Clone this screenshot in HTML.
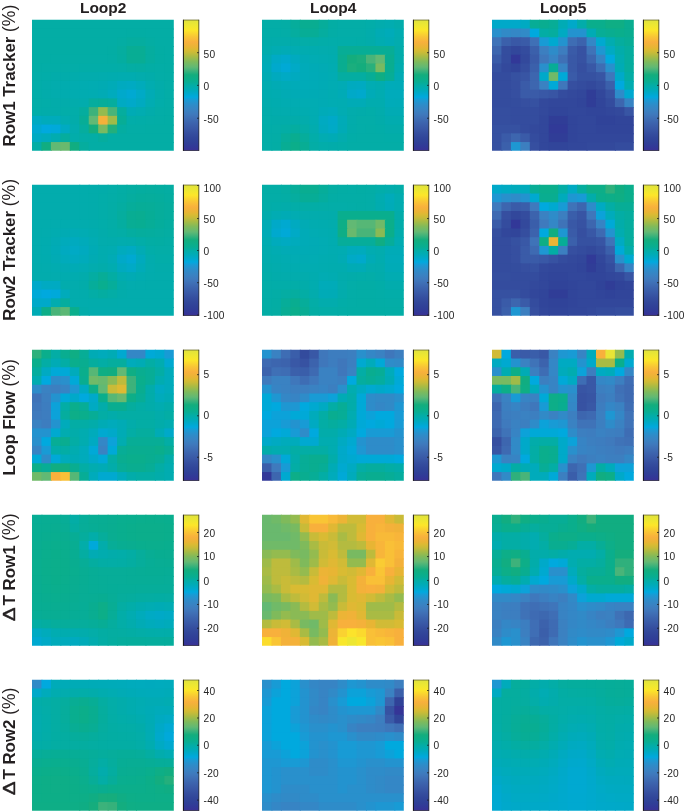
<!DOCTYPE html>
<html lang="en"><head><meta charset="utf-8"><title>Loop heatmaps</title>
<style>html,body{margin:0;padding:0;background:#fff}body{width:685px;height:811px;overflow:hidden}svg{display:block}text{font-family:"Liberation Sans",Arial,Helvetica,sans-serif;fill:#231f20}.t{font-size:15.5px;font-weight:bold;text-anchor:middle}.y{font-size:16.9px;font-weight:bold}.y .n{font-weight:normal;font-size:17.5px;letter-spacing:0px}.k{font-size:10.2px;fill:#262626;letter-spacing:0.15px}</style></head><body>
<svg width="685" height="811" viewBox="0 0 685 811">
<defs><linearGradient id="cb" x1="0" y1="0" x2="0" y2="1"><stop offset="0.0000" stop-color="#dfe23c"/><stop offset="0.0500" stop-color="#f0e830"/><stop offset="0.0800" stop-color="#fce62a"/><stop offset="0.1300" stop-color="#f9c535"/><stop offset="0.1700" stop-color="#f8b03c"/><stop offset="0.2100" stop-color="#e8b534"/><stop offset="0.2300" stop-color="#d9bb33"/><stop offset="0.2500" stop-color="#c9bb38"/><stop offset="0.2830" stop-color="#a6bb45"/><stop offset="0.3200" stop-color="#7fba5b"/><stop offset="0.3600" stop-color="#62b974"/><stop offset="0.3900" stop-color="#3db27b"/><stop offset="0.4200" stop-color="#14ad7d"/><stop offset="0.4600" stop-color="#0aae8c"/><stop offset="0.4760" stop-color="#08ad93"/><stop offset="0.5000" stop-color="#03ada5"/><stop offset="0.5350" stop-color="#00abb8"/><stop offset="0.5650" stop-color="#00a9cc"/><stop offset="0.5900" stop-color="#00a9de"/><stop offset="0.6120" stop-color="#1a9ad4"/><stop offset="0.6500" stop-color="#2e8cc9"/><stop offset="0.6900" stop-color="#3a82c2"/><stop offset="0.7200" stop-color="#3f7abd"/><stop offset="0.7500" stop-color="#3f70b6"/><stop offset="0.7900" stop-color="#3c63ad"/><stop offset="0.8300" stop-color="#3958a6"/><stop offset="0.8650" stop-color="#354e9f"/><stop offset="0.9000" stop-color="#31469a"/><stop offset="0.9400" stop-color="#2f3f97"/><stop offset="0.9700" stop-color="#323898"/><stop offset="1.0000" stop-color="#3a3094"/></linearGradient></defs>
<rect width="685" height="811" fill="#fff"/>
<text class="t" x="103.2" y="13.4">Loop2</text>
<text class="t" x="333.2" y="13.4">Loop4</text>
<text class="t" x="563.2" y="13.4">Loop5</text>
<text class="y" transform="translate(14.8,146.5) rotate(-90)">Row1 Tracker <tspan class="n">(%)</tspan></text>
<text class="y" transform="translate(14.8,320.8) rotate(-90)">Row2 Tracker <tspan class="n">(%)</tspan></text>
<text class="y" transform="translate(14.8,475.5) rotate(-90)">Loop Flow <tspan class="n">(%)</tspan></text>
<text class="y" transform="translate(14.8,621.0) rotate(-90) scale(1.2,1)" style="font-weight:normal;stroke:#231f20;stroke-width:0.45px">Δ</text>
<text class="y" transform="translate(14.8,605.5) rotate(-90)">T Row1 <tspan class="n">(%)</tspan></text>
<text class="y" transform="translate(14.8,795.1) rotate(-90) scale(1.2,1)" style="font-weight:normal;stroke:#231f20;stroke-width:0.45px">Δ</text>
<text class="y" transform="translate(14.8,779.6) rotate(-90)">T Row2 <tspan class="n">(%)</tspan></text>
<clipPath id="p00"><rect x="32.00" y="19.80" width="141.80" height="131.00"/></clipPath><g clip-path="url(#p00)">
<rect x="31.00" y="18.80" width="143.80" height="10.73" fill="#03ada5"/>
<rect x="31.00" y="28.53" width="96.53" height="9.73" fill="#03ada5"/>
<rect x="126.53" y="28.53" width="19.91" height="9.73" fill="#03ada4"/>
<rect x="145.44" y="28.53" width="29.36" height="9.73" fill="#03ada5"/>
<rect x="31.00" y="37.27" width="87.08" height="9.73" fill="#03ada5"/>
<rect x="117.08" y="37.27" width="10.45" height="9.73" fill="#04ada3"/>
<rect x="126.53" y="37.27" width="19.91" height="9.73" fill="#05ad9f"/>
<rect x="145.44" y="37.27" width="10.45" height="9.73" fill="#04ada3"/>
<rect x="154.89" y="37.27" width="19.91" height="9.73" fill="#03ada5"/>
<rect x="31.00" y="46.00" width="77.63" height="9.73" fill="#03ada5"/>
<rect x="107.63" y="46.00" width="10.45" height="9.73" fill="#03ada4"/>
<rect x="117.08" y="46.00" width="10.45" height="9.73" fill="#05ad9f"/>
<rect x="126.53" y="46.00" width="19.91" height="9.73" fill="#08ad94"/>
<rect x="145.44" y="46.00" width="10.45" height="9.73" fill="#05ad9f"/>
<rect x="154.89" y="46.00" width="10.45" height="9.73" fill="#03ada4"/>
<rect x="164.35" y="46.00" width="10.45" height="9.73" fill="#03ada5"/>
<rect x="31.00" y="54.73" width="20.91" height="9.73" fill="#03ada5"/>
<rect x="50.91" y="54.73" width="57.72" height="9.73" fill="#03ada6"/>
<rect x="107.63" y="54.73" width="10.45" height="9.73" fill="#03ada5"/>
<rect x="117.08" y="54.73" width="10.45" height="9.73" fill="#04ada0"/>
<rect x="126.53" y="54.73" width="19.91" height="9.73" fill="#08ad94"/>
<rect x="145.44" y="54.73" width="10.45" height="9.73" fill="#05ad9f"/>
<rect x="154.89" y="54.73" width="10.45" height="9.73" fill="#03ada4"/>
<rect x="164.35" y="54.73" width="10.45" height="9.73" fill="#03ada5"/>
<rect x="31.00" y="63.47" width="11.45" height="9.73" fill="#03ada6"/>
<rect x="41.45" y="63.47" width="19.91" height="9.73" fill="#03ada7"/>
<rect x="60.36" y="63.47" width="19.91" height="9.73" fill="#03ada8"/>
<rect x="79.27" y="63.47" width="38.81" height="9.73" fill="#02ada8"/>
<rect x="117.08" y="63.47" width="10.45" height="9.73" fill="#03ada7"/>
<rect x="126.53" y="63.47" width="10.45" height="9.73" fill="#04ada3"/>
<rect x="135.99" y="63.47" width="10.45" height="9.73" fill="#04ada2"/>
<rect x="145.44" y="63.47" width="10.45" height="9.73" fill="#03ada5"/>
<rect x="154.89" y="63.47" width="10.45" height="9.73" fill="#03ada6"/>
<rect x="164.35" y="63.47" width="10.45" height="9.73" fill="#03ada5"/>
<rect x="31.00" y="72.20" width="11.45" height="9.73" fill="#03ada8"/>
<rect x="41.45" y="72.20" width="10.45" height="9.73" fill="#02ada9"/>
<rect x="50.91" y="72.20" width="10.45" height="9.73" fill="#02acaa"/>
<rect x="60.36" y="72.20" width="10.45" height="9.73" fill="#02acab"/>
<rect x="69.81" y="72.20" width="10.45" height="9.73" fill="#02acac"/>
<rect x="79.27" y="72.20" width="19.91" height="9.73" fill="#02acad"/>
<rect x="98.17" y="72.20" width="10.45" height="9.73" fill="#02acae"/>
<rect x="107.63" y="72.20" width="10.45" height="9.73" fill="#01acaf"/>
<rect x="117.08" y="72.20" width="19.91" height="9.73" fill="#01acb0"/>
<rect x="135.99" y="72.20" width="10.45" height="9.73" fill="#02acad"/>
<rect x="145.44" y="72.20" width="10.45" height="9.73" fill="#02acaa"/>
<rect x="154.89" y="72.20" width="10.45" height="9.73" fill="#03ada7"/>
<rect x="164.35" y="72.20" width="10.45" height="9.73" fill="#03ada6"/>
<rect x="31.00" y="80.93" width="11.45" height="9.73" fill="#02ada9"/>
<rect x="41.45" y="80.93" width="10.45" height="9.73" fill="#02acab"/>
<rect x="50.91" y="80.93" width="10.45" height="9.73" fill="#02acad"/>
<rect x="60.36" y="80.93" width="10.45" height="9.73" fill="#01acaf"/>
<rect x="69.81" y="80.93" width="10.45" height="9.73" fill="#01acb0"/>
<rect x="79.27" y="80.93" width="10.45" height="9.73" fill="#01acb1"/>
<rect x="88.72" y="80.93" width="10.45" height="9.73" fill="#01acb2"/>
<rect x="98.17" y="80.93" width="10.45" height="9.73" fill="#01abb3"/>
<rect x="107.63" y="80.93" width="10.45" height="9.73" fill="#00abb7"/>
<rect x="117.08" y="80.93" width="10.45" height="9.73" fill="#00aabf"/>
<rect x="126.53" y="80.93" width="10.45" height="9.73" fill="#00aac2"/>
<rect x="135.99" y="80.93" width="10.45" height="9.73" fill="#00abbb"/>
<rect x="145.44" y="80.93" width="10.45" height="9.73" fill="#01acb0"/>
<rect x="154.89" y="80.93" width="10.45" height="9.73" fill="#02acaa"/>
<rect x="164.35" y="80.93" width="10.45" height="9.73" fill="#03ada7"/>
<rect x="31.00" y="89.67" width="11.45" height="9.73" fill="#02ada9"/>
<rect x="41.45" y="89.67" width="10.45" height="9.73" fill="#02acab"/>
<rect x="50.91" y="89.67" width="10.45" height="9.73" fill="#02acad"/>
<rect x="60.36" y="89.67" width="10.45" height="9.73" fill="#01acaf"/>
<rect x="69.81" y="89.67" width="10.45" height="9.73" fill="#01acb0"/>
<rect x="79.27" y="89.67" width="10.45" height="9.73" fill="#01acb1"/>
<rect x="88.72" y="89.67" width="10.45" height="9.73" fill="#01acb2"/>
<rect x="98.17" y="89.67" width="10.45" height="9.73" fill="#01abb5"/>
<rect x="107.63" y="89.67" width="10.45" height="9.73" fill="#00abbd"/>
<rect x="117.08" y="89.67" width="10.45" height="9.73" fill="#00a9cb"/>
<rect x="126.53" y="89.67" width="10.45" height="9.73" fill="#00a9d2"/>
<rect x="135.99" y="89.67" width="10.45" height="9.73" fill="#00aac6"/>
<rect x="145.44" y="89.67" width="10.45" height="9.73" fill="#01abb5"/>
<rect x="154.89" y="89.67" width="10.45" height="9.73" fill="#02acab"/>
<rect x="164.35" y="89.67" width="10.45" height="9.73" fill="#03ada7"/>
<rect x="31.00" y="98.40" width="11.45" height="9.73" fill="#03ada8"/>
<rect x="41.45" y="98.40" width="10.45" height="9.73" fill="#02ada9"/>
<rect x="50.91" y="98.40" width="10.45" height="9.73" fill="#02acaa"/>
<rect x="60.36" y="98.40" width="10.45" height="9.73" fill="#02acab"/>
<rect x="69.81" y="98.40" width="10.45" height="9.73" fill="#02acac"/>
<rect x="79.27" y="98.40" width="10.45" height="9.73" fill="#02acad"/>
<rect x="88.72" y="98.40" width="10.45" height="9.73" fill="#05ad9e"/>
<rect x="98.17" y="98.40" width="10.45" height="9.73" fill="#06ad9a"/>
<rect x="107.63" y="98.40" width="10.45" height="9.73" fill="#05ad9e"/>
<rect x="117.08" y="98.40" width="10.45" height="9.73" fill="#00aac3"/>
<rect x="126.53" y="98.40" width="10.45" height="9.73" fill="#00a9c9"/>
<rect x="135.99" y="98.40" width="10.45" height="9.73" fill="#00aac0"/>
<rect x="145.44" y="98.40" width="10.45" height="9.73" fill="#01acb2"/>
<rect x="154.89" y="98.40" width="10.45" height="9.73" fill="#02adaa"/>
<rect x="164.35" y="98.40" width="10.45" height="9.73" fill="#03ada7"/>
<rect x="31.00" y="107.13" width="11.45" height="9.73" fill="#02ada9"/>
<rect x="41.45" y="107.13" width="19.91" height="9.73" fill="#02acaa"/>
<rect x="60.36" y="107.13" width="19.91" height="9.73" fill="#02ada9"/>
<rect x="79.27" y="107.13" width="10.45" height="9.73" fill="#05ad9e"/>
<rect x="88.72" y="107.13" width="10.45" height="9.73" fill="#3db27b"/>
<rect x="98.17" y="107.13" width="10.45" height="9.73" fill="#94bb4f"/>
<rect x="107.63" y="107.13" width="10.45" height="9.73" fill="#49b479"/>
<rect x="117.08" y="107.13" width="10.45" height="9.73" fill="#05ad9e"/>
<rect x="126.53" y="107.13" width="10.45" height="9.73" fill="#00abb5"/>
<rect x="135.99" y="107.13" width="10.45" height="9.73" fill="#01acb1"/>
<rect x="145.44" y="107.13" width="10.45" height="9.73" fill="#02acab"/>
<rect x="154.89" y="107.13" width="10.45" height="9.73" fill="#03ada7"/>
<rect x="164.35" y="107.13" width="10.45" height="9.73" fill="#03ada6"/>
<rect x="31.00" y="115.87" width="11.45" height="9.73" fill="#00aac2"/>
<rect x="41.45" y="115.87" width="19.91" height="9.73" fill="#00abbb"/>
<rect x="60.36" y="115.87" width="10.45" height="9.73" fill="#01acb0"/>
<rect x="69.81" y="115.87" width="10.45" height="9.73" fill="#02acaa"/>
<rect x="79.27" y="115.87" width="10.45" height="9.73" fill="#07ad96"/>
<rect x="88.72" y="115.87" width="10.45" height="9.73" fill="#62b974"/>
<rect x="98.17" y="115.87" width="10.45" height="9.73" fill="#f4b13a"/>
<rect x="107.63" y="115.87" width="10.45" height="9.73" fill="#9fbb49"/>
<rect x="117.08" y="115.87" width="10.45" height="9.73" fill="#07ad96"/>
<rect x="126.53" y="115.87" width="10.45" height="9.73" fill="#02ada9"/>
<rect x="135.99" y="115.87" width="10.45" height="9.73" fill="#02ada8"/>
<rect x="145.44" y="115.87" width="10.45" height="9.73" fill="#03ada7"/>
<rect x="154.89" y="115.87" width="10.45" height="9.73" fill="#03ada6"/>
<rect x="164.35" y="115.87" width="10.45" height="9.73" fill="#03ada5"/>
<rect x="31.00" y="124.60" width="11.45" height="9.73" fill="#00a9d0"/>
<rect x="41.45" y="124.60" width="10.45" height="9.73" fill="#00a9de"/>
<rect x="50.91" y="124.60" width="10.45" height="9.73" fill="#00a9da"/>
<rect x="60.36" y="124.60" width="10.45" height="9.73" fill="#00aac2"/>
<rect x="69.81" y="124.60" width="10.45" height="9.73" fill="#02acae"/>
<rect x="79.27" y="124.60" width="10.45" height="9.73" fill="#05ad9e"/>
<rect x="88.72" y="124.60" width="10.45" height="9.73" fill="#14ad7d"/>
<rect x="98.17" y="124.60" width="10.45" height="9.73" fill="#78ba61"/>
<rect x="107.63" y="124.60" width="10.45" height="9.73" fill="#22af7c"/>
<rect x="117.08" y="124.60" width="10.45" height="9.73" fill="#04ada1"/>
<rect x="126.53" y="124.60" width="19.91" height="9.73" fill="#03ada6"/>
<rect x="145.44" y="124.60" width="29.36" height="9.73" fill="#03ada5"/>
<rect x="31.00" y="133.33" width="11.45" height="9.73" fill="#00aac2"/>
<rect x="41.45" y="133.33" width="10.45" height="9.73" fill="#00abbb"/>
<rect x="50.91" y="133.33" width="10.45" height="9.73" fill="#01acb0"/>
<rect x="60.36" y="133.33" width="10.45" height="9.73" fill="#05ad9e"/>
<rect x="69.81" y="133.33" width="10.45" height="9.73" fill="#02adaa"/>
<rect x="79.27" y="133.33" width="10.45" height="9.73" fill="#03ada6"/>
<rect x="88.72" y="133.33" width="10.45" height="9.73" fill="#03ada5"/>
<rect x="98.17" y="133.33" width="10.45" height="9.73" fill="#05ad9e"/>
<rect x="107.63" y="133.33" width="67.17" height="9.73" fill="#03ada5"/>
<rect x="31.00" y="142.07" width="11.45" height="9.73" fill="#03ada5"/>
<rect x="41.45" y="142.07" width="10.45" height="9.73" fill="#11ad81"/>
<rect x="50.91" y="142.07" width="10.45" height="9.73" fill="#62b974"/>
<rect x="60.36" y="142.07" width="10.45" height="9.73" fill="#69b96e"/>
<rect x="69.81" y="142.07" width="10.45" height="9.73" fill="#11ad81"/>
<rect x="79.27" y="142.07" width="10.45" height="9.73" fill="#05ad9e"/>
<rect x="88.72" y="142.07" width="86.08" height="9.73" fill="#03ada5"/>
</g>
<rect x="183.00" y="19.80" width="16.10" height="131.00" fill="url(#cb)"/>
<path d="M183.40 19.80V150.80" stroke="#151515" stroke-width="1"/>
<path d="M198.80 19.80V150.80" stroke="#2a2a2a" stroke-width="0.7"/>
<path d="M183.00 20.05H199.10" stroke="#2a2a2a" stroke-width="0.5"/>
<path d="M183.00 150.50H199.10" stroke="#2a2a2a" stroke-width="0.6"/>
<clipPath id="p01"><rect x="262.00" y="19.80" width="141.80" height="131.00"/></clipPath><g clip-path="url(#p01)">
<rect x="261.00" y="18.80" width="20.91" height="10.73" fill="#03ada7"/>
<rect x="280.91" y="18.80" width="10.45" height="10.73" fill="#03ada5"/>
<rect x="290.36" y="18.80" width="10.45" height="10.73" fill="#06ad9b"/>
<rect x="299.81" y="18.80" width="19.91" height="10.73" fill="#09ad91"/>
<rect x="318.72" y="18.80" width="10.45" height="10.73" fill="#06ad9a"/>
<rect x="328.17" y="18.80" width="10.45" height="10.73" fill="#03ada4"/>
<rect x="337.63" y="18.80" width="29.36" height="10.73" fill="#03ada7"/>
<rect x="365.99" y="18.80" width="10.45" height="10.73" fill="#02ada9"/>
<rect x="375.44" y="18.80" width="10.45" height="10.73" fill="#02acad"/>
<rect x="384.89" y="18.80" width="10.45" height="10.73" fill="#01acb0"/>
<rect x="394.35" y="18.80" width="10.45" height="10.73" fill="#02acab"/>
<rect x="261.00" y="28.53" width="20.91" height="9.73" fill="#02ada8"/>
<rect x="280.91" y="28.53" width="10.45" height="9.73" fill="#03ada7"/>
<rect x="290.36" y="28.53" width="10.45" height="9.73" fill="#05ad9f"/>
<rect x="299.81" y="28.53" width="19.91" height="9.73" fill="#07ad96"/>
<rect x="318.72" y="28.53" width="10.45" height="9.73" fill="#05ad9f"/>
<rect x="328.17" y="28.53" width="10.45" height="9.73" fill="#03ada6"/>
<rect x="337.63" y="28.53" width="29.36" height="9.73" fill="#03ada8"/>
<rect x="365.99" y="28.53" width="10.45" height="9.73" fill="#02acab"/>
<rect x="375.44" y="28.53" width="10.45" height="9.73" fill="#01abb4"/>
<rect x="384.89" y="28.53" width="10.45" height="9.73" fill="#00abb9"/>
<rect x="394.35" y="28.53" width="10.45" height="9.73" fill="#01acb0"/>
<rect x="261.00" y="37.27" width="11.45" height="9.73" fill="#02acaa"/>
<rect x="271.45" y="37.27" width="19.91" height="9.73" fill="#02acab"/>
<rect x="290.36" y="37.27" width="10.45" height="9.73" fill="#02acaa"/>
<rect x="299.81" y="37.27" width="10.45" height="9.73" fill="#03ada8"/>
<rect x="309.27" y="37.27" width="10.45" height="9.73" fill="#03ada7"/>
<rect x="318.72" y="37.27" width="10.45" height="9.73" fill="#02ada9"/>
<rect x="328.17" y="37.27" width="10.45" height="9.73" fill="#02adaa"/>
<rect x="337.63" y="37.27" width="19.91" height="9.73" fill="#02ada9"/>
<rect x="356.53" y="37.27" width="10.45" height="9.73" fill="#02ada8"/>
<rect x="365.99" y="37.27" width="10.45" height="9.73" fill="#02acaa"/>
<rect x="375.44" y="37.27" width="10.45" height="9.73" fill="#01acb1"/>
<rect x="384.89" y="37.27" width="10.45" height="9.73" fill="#00abb5"/>
<rect x="394.35" y="37.27" width="10.45" height="9.73" fill="#02acae"/>
<rect x="261.00" y="46.00" width="11.45" height="9.73" fill="#02acad"/>
<rect x="271.45" y="46.00" width="10.45" height="9.73" fill="#01acb2"/>
<rect x="280.91" y="46.00" width="10.45" height="9.73" fill="#01abb5"/>
<rect x="290.36" y="46.00" width="10.45" height="9.73" fill="#01acb2"/>
<rect x="299.81" y="46.00" width="10.45" height="9.73" fill="#01acb0"/>
<rect x="309.27" y="46.00" width="10.45" height="9.73" fill="#01acaf"/>
<rect x="318.72" y="46.00" width="10.45" height="9.73" fill="#02acae"/>
<rect x="328.17" y="46.00" width="10.45" height="9.73" fill="#02acad"/>
<rect x="337.63" y="46.00" width="57.72" height="9.73" fill="#07ad96"/>
<rect x="394.35" y="46.00" width="10.45" height="9.73" fill="#02acaa"/>
<rect x="261.00" y="54.73" width="11.45" height="9.73" fill="#01abb4"/>
<rect x="271.45" y="54.73" width="10.45" height="9.73" fill="#00aac5"/>
<rect x="280.91" y="54.73" width="10.45" height="9.73" fill="#00a9cb"/>
<rect x="290.36" y="54.73" width="10.45" height="9.73" fill="#00aabf"/>
<rect x="299.81" y="54.73" width="10.45" height="9.73" fill="#00abb6"/>
<rect x="309.27" y="54.73" width="10.45" height="9.73" fill="#01acb3"/>
<rect x="318.72" y="54.73" width="10.45" height="9.73" fill="#01acb1"/>
<rect x="328.17" y="54.73" width="10.45" height="9.73" fill="#01acaf"/>
<rect x="337.63" y="54.73" width="10.45" height="9.73" fill="#09ad90"/>
<rect x="347.08" y="54.73" width="10.45" height="9.73" fill="#14ad7d"/>
<rect x="356.53" y="54.73" width="10.45" height="9.73" fill="#1bae7d"/>
<rect x="365.99" y="54.73" width="10.45" height="9.73" fill="#49b479"/>
<rect x="375.44" y="54.73" width="10.45" height="9.73" fill="#62b974"/>
<rect x="384.89" y="54.73" width="10.45" height="9.73" fill="#09ad90"/>
<rect x="394.35" y="54.73" width="10.45" height="9.73" fill="#02acab"/>
<rect x="261.00" y="63.47" width="11.45" height="9.73" fill="#00abb7"/>
<rect x="271.45" y="63.47" width="10.45" height="9.73" fill="#00a9cc"/>
<rect x="280.91" y="63.47" width="10.45" height="9.73" fill="#00a9d5"/>
<rect x="290.36" y="63.47" width="10.45" height="9.73" fill="#00aac6"/>
<rect x="299.81" y="63.47" width="10.45" height="9.73" fill="#00abb9"/>
<rect x="309.27" y="63.47" width="10.45" height="9.73" fill="#00abb6"/>
<rect x="318.72" y="63.47" width="10.45" height="9.73" fill="#01abb4"/>
<rect x="328.17" y="63.47" width="10.45" height="9.73" fill="#01acb1"/>
<rect x="337.63" y="63.47" width="10.45" height="9.73" fill="#09ad90"/>
<rect x="347.08" y="63.47" width="10.45" height="9.73" fill="#1bae7d"/>
<rect x="356.53" y="63.47" width="10.45" height="9.73" fill="#14ad7d"/>
<rect x="365.99" y="63.47" width="10.45" height="9.73" fill="#28b07c"/>
<rect x="375.44" y="63.47" width="10.45" height="9.73" fill="#78ba61"/>
<rect x="384.89" y="63.47" width="10.45" height="9.73" fill="#09ad90"/>
<rect x="394.35" y="63.47" width="10.45" height="9.73" fill="#01acaf"/>
<rect x="261.00" y="72.20" width="11.45" height="9.73" fill="#01abb3"/>
<rect x="271.45" y="72.20" width="10.45" height="9.73" fill="#00aabe"/>
<rect x="280.91" y="72.20" width="10.45" height="9.73" fill="#00aac4"/>
<rect x="290.36" y="72.20" width="10.45" height="9.73" fill="#00aabf"/>
<rect x="299.81" y="72.20" width="10.45" height="9.73" fill="#00abb9"/>
<rect x="309.27" y="72.20" width="10.45" height="9.73" fill="#00abb7"/>
<rect x="318.72" y="72.20" width="10.45" height="9.73" fill="#00abb5"/>
<rect x="328.17" y="72.20" width="10.45" height="9.73" fill="#01acb3"/>
<rect x="337.63" y="72.20" width="29.36" height="9.73" fill="#04ada1"/>
<rect x="365.99" y="72.20" width="10.45" height="9.73" fill="#07ad96"/>
<rect x="375.44" y="72.20" width="10.45" height="9.73" fill="#0fae84"/>
<rect x="384.89" y="72.20" width="10.45" height="9.73" fill="#07ad96"/>
<rect x="394.35" y="72.20" width="10.45" height="9.73" fill="#01abb4"/>
<rect x="261.00" y="80.93" width="11.45" height="9.73" fill="#01acb0"/>
<rect x="271.45" y="80.93" width="10.45" height="9.73" fill="#01abb4"/>
<rect x="280.91" y="80.93" width="10.45" height="9.73" fill="#00abb7"/>
<rect x="290.36" y="80.93" width="19.91" height="9.73" fill="#00abb8"/>
<rect x="309.27" y="80.93" width="10.45" height="9.73" fill="#00abb7"/>
<rect x="318.72" y="80.93" width="10.45" height="9.73" fill="#00abb5"/>
<rect x="328.17" y="80.93" width="10.45" height="9.73" fill="#01acb3"/>
<rect x="337.63" y="80.93" width="10.45" height="9.73" fill="#01abb5"/>
<rect x="347.08" y="80.93" width="10.45" height="9.73" fill="#00aabf"/>
<rect x="356.53" y="80.93" width="10.45" height="9.73" fill="#00aac1"/>
<rect x="365.99" y="80.93" width="10.45" height="9.73" fill="#01acb3"/>
<rect x="375.44" y="80.93" width="10.45" height="9.73" fill="#01acb0"/>
<rect x="384.89" y="80.93" width="10.45" height="9.73" fill="#00abb9"/>
<rect x="394.35" y="80.93" width="10.45" height="9.73" fill="#00abb8"/>
<rect x="261.00" y="89.67" width="11.45" height="9.73" fill="#01acaf"/>
<rect x="271.45" y="89.67" width="10.45" height="9.73" fill="#01acb1"/>
<rect x="280.91" y="89.67" width="10.45" height="9.73" fill="#01abb4"/>
<rect x="290.36" y="89.67" width="10.45" height="9.73" fill="#00abb5"/>
<rect x="299.81" y="89.67" width="10.45" height="9.73" fill="#00abb6"/>
<rect x="309.27" y="89.67" width="10.45" height="9.73" fill="#00abb5"/>
<rect x="318.72" y="89.67" width="10.45" height="9.73" fill="#01abb4"/>
<rect x="328.17" y="89.67" width="10.45" height="9.73" fill="#01acb2"/>
<rect x="337.63" y="89.67" width="10.45" height="9.73" fill="#00abb6"/>
<rect x="347.08" y="89.67" width="10.45" height="9.73" fill="#00a9c8"/>
<rect x="356.53" y="89.67" width="10.45" height="9.73" fill="#00a9cc"/>
<rect x="365.99" y="89.67" width="10.45" height="9.73" fill="#00abb7"/>
<rect x="375.44" y="89.67" width="10.45" height="9.73" fill="#01acb1"/>
<rect x="384.89" y="89.67" width="19.91" height="9.73" fill="#00abbb"/>
<rect x="261.00" y="98.40" width="11.45" height="9.73" fill="#02acad"/>
<rect x="271.45" y="98.40" width="10.45" height="9.73" fill="#01acaf"/>
<rect x="280.91" y="98.40" width="10.45" height="9.73" fill="#01acb1"/>
<rect x="290.36" y="98.40" width="10.45" height="9.73" fill="#01acb2"/>
<rect x="299.81" y="98.40" width="19.91" height="9.73" fill="#01acb3"/>
<rect x="318.72" y="98.40" width="10.45" height="9.73" fill="#01abb4"/>
<rect x="328.17" y="98.40" width="10.45" height="9.73" fill="#01acb3"/>
<rect x="337.63" y="98.40" width="10.45" height="9.73" fill="#01acb2"/>
<rect x="347.08" y="98.40" width="19.91" height="9.73" fill="#00abb6"/>
<rect x="365.99" y="98.40" width="19.91" height="9.73" fill="#01acaf"/>
<rect x="384.89" y="98.40" width="10.45" height="9.73" fill="#00abb9"/>
<rect x="394.35" y="98.40" width="10.45" height="9.73" fill="#00abb8"/>
<rect x="261.00" y="107.13" width="11.45" height="9.73" fill="#02acab"/>
<rect x="271.45" y="107.13" width="10.45" height="9.73" fill="#02acad"/>
<rect x="280.91" y="107.13" width="10.45" height="9.73" fill="#02acae"/>
<rect x="290.36" y="107.13" width="10.45" height="9.73" fill="#01acaf"/>
<rect x="299.81" y="107.13" width="10.45" height="9.73" fill="#01acb0"/>
<rect x="309.27" y="107.13" width="10.45" height="9.73" fill="#01acb2"/>
<rect x="318.72" y="107.13" width="10.45" height="9.73" fill="#00abb8"/>
<rect x="328.17" y="107.13" width="10.45" height="9.73" fill="#00abbb"/>
<rect x="337.63" y="107.13" width="10.45" height="9.73" fill="#01acb2"/>
<rect x="347.08" y="107.13" width="10.45" height="9.73" fill="#02acac"/>
<rect x="356.53" y="107.13" width="10.45" height="9.73" fill="#02acaa"/>
<rect x="365.99" y="107.13" width="10.45" height="9.73" fill="#02ada9"/>
<rect x="375.44" y="107.13" width="10.45" height="9.73" fill="#02acac"/>
<rect x="384.89" y="107.13" width="19.91" height="9.73" fill="#01abb4"/>
<rect x="261.00" y="115.87" width="11.45" height="9.73" fill="#02adaa"/>
<rect x="271.45" y="115.87" width="29.36" height="9.73" fill="#02acaa"/>
<rect x="299.81" y="115.87" width="10.45" height="9.73" fill="#02acac"/>
<rect x="309.27" y="115.87" width="10.45" height="9.73" fill="#01acb1"/>
<rect x="318.72" y="115.87" width="10.45" height="9.73" fill="#00aac1"/>
<rect x="328.17" y="115.87" width="10.45" height="9.73" fill="#00a9c8"/>
<rect x="337.63" y="115.87" width="10.45" height="9.73" fill="#00abb7"/>
<rect x="347.08" y="115.87" width="10.45" height="9.73" fill="#02acab"/>
<rect x="356.53" y="115.87" width="19.91" height="9.73" fill="#03ada8"/>
<rect x="375.44" y="115.87" width="10.45" height="9.73" fill="#02acaa"/>
<rect x="384.89" y="115.87" width="19.91" height="9.73" fill="#01acaf"/>
<rect x="261.00" y="124.60" width="11.45" height="9.73" fill="#02ada8"/>
<rect x="271.45" y="124.60" width="10.45" height="9.73" fill="#03ada8"/>
<rect x="280.91" y="124.60" width="10.45" height="9.73" fill="#03ada5"/>
<rect x="290.36" y="124.60" width="10.45" height="9.73" fill="#04ada0"/>
<rect x="299.81" y="124.60" width="10.45" height="9.73" fill="#03ada6"/>
<rect x="309.27" y="124.60" width="10.45" height="9.73" fill="#02acae"/>
<rect x="318.72" y="124.60" width="10.45" height="9.73" fill="#00aabe"/>
<rect x="328.17" y="124.60" width="10.45" height="9.73" fill="#00aac6"/>
<rect x="337.63" y="124.60" width="10.45" height="9.73" fill="#00abb6"/>
<rect x="347.08" y="124.60" width="10.45" height="9.73" fill="#02acaa"/>
<rect x="356.53" y="124.60" width="10.45" height="9.73" fill="#03ada8"/>
<rect x="365.99" y="124.60" width="10.45" height="9.73" fill="#03ada7"/>
<rect x="375.44" y="124.60" width="10.45" height="9.73" fill="#02ada8"/>
<rect x="384.89" y="124.60" width="19.91" height="9.73" fill="#02acab"/>
<rect x="261.00" y="133.33" width="11.45" height="9.73" fill="#03ada7"/>
<rect x="271.45" y="133.33" width="10.45" height="9.73" fill="#03ada6"/>
<rect x="280.91" y="133.33" width="10.45" height="9.73" fill="#06ad9a"/>
<rect x="290.36" y="133.33" width="10.45" height="9.73" fill="#09ad90"/>
<rect x="299.81" y="133.33" width="10.45" height="9.73" fill="#06ad9b"/>
<rect x="309.27" y="133.33" width="10.45" height="9.73" fill="#02ada9"/>
<rect x="318.72" y="133.33" width="10.45" height="9.73" fill="#01acb2"/>
<rect x="328.17" y="133.33" width="10.45" height="9.73" fill="#00abb5"/>
<rect x="337.63" y="133.33" width="10.45" height="9.73" fill="#02acae"/>
<rect x="347.08" y="133.33" width="10.45" height="9.73" fill="#02ada8"/>
<rect x="356.53" y="133.33" width="29.36" height="9.73" fill="#03ada7"/>
<rect x="384.89" y="133.33" width="19.91" height="9.73" fill="#02ada8"/>
<rect x="261.00" y="142.07" width="11.45" height="9.73" fill="#03ada7"/>
<rect x="271.45" y="142.07" width="10.45" height="9.73" fill="#03ada5"/>
<rect x="280.91" y="142.07" width="10.45" height="9.73" fill="#08ad94"/>
<rect x="290.36" y="142.07" width="10.45" height="9.73" fill="#0bae8a"/>
<rect x="299.81" y="142.07" width="10.45" height="9.73" fill="#08ad94"/>
<rect x="309.27" y="142.07" width="10.45" height="9.73" fill="#03ada6"/>
<rect x="318.72" y="142.07" width="10.45" height="9.73" fill="#02adaa"/>
<rect x="328.17" y="142.07" width="10.45" height="9.73" fill="#02acaa"/>
<rect x="337.63" y="142.07" width="10.45" height="9.73" fill="#02ada9"/>
<rect x="347.08" y="142.07" width="57.72" height="9.73" fill="#03ada7"/>
</g>
<rect x="413.00" y="19.80" width="16.10" height="131.00" fill="url(#cb)"/>
<path d="M413.40 19.80V150.80" stroke="#151515" stroke-width="1"/>
<path d="M428.80 19.80V150.80" stroke="#2a2a2a" stroke-width="0.7"/>
<path d="M413.00 20.05H429.10" stroke="#2a2a2a" stroke-width="0.5"/>
<path d="M413.00 150.50H429.10" stroke="#2a2a2a" stroke-width="0.6"/>
<clipPath id="p02"><rect x="492.00" y="19.80" width="141.80" height="131.00"/></clipPath><g clip-path="url(#p02)">
<rect x="491.00" y="18.80" width="30.36" height="10.73" fill="#00a9c9"/>
<rect x="520.36" y="18.80" width="10.45" height="10.73" fill="#00aac2"/>
<rect x="529.81" y="18.80" width="10.45" height="10.73" fill="#07ad96"/>
<rect x="539.27" y="18.80" width="10.45" height="10.73" fill="#09ad90"/>
<rect x="548.72" y="18.80" width="10.45" height="10.73" fill="#07ad96"/>
<rect x="558.17" y="18.80" width="10.45" height="10.73" fill="#00abb5"/>
<rect x="567.63" y="18.80" width="10.45" height="10.73" fill="#00a9c9"/>
<rect x="577.08" y="18.80" width="10.45" height="10.73" fill="#02acaa"/>
<rect x="586.53" y="18.80" width="19.91" height="10.73" fill="#0aae8c"/>
<rect x="605.44" y="18.80" width="19.91" height="10.73" fill="#0fae84"/>
<rect x="624.35" y="18.80" width="10.45" height="10.73" fill="#09ad90"/>
<rect x="491.00" y="28.53" width="11.45" height="9.73" fill="#2990cc"/>
<rect x="501.45" y="28.53" width="10.45" height="9.73" fill="#318ac7"/>
<rect x="510.91" y="28.53" width="10.45" height="9.73" fill="#3487c6"/>
<rect x="520.36" y="28.53" width="10.45" height="9.73" fill="#318ac7"/>
<rect x="529.81" y="28.53" width="10.45" height="9.73" fill="#00a9de"/>
<rect x="539.27" y="28.53" width="10.45" height="9.73" fill="#03ada5"/>
<rect x="548.72" y="28.53" width="10.45" height="9.73" fill="#05ad9e"/>
<rect x="558.17" y="28.53" width="10.45" height="9.73" fill="#00aac2"/>
<rect x="567.63" y="28.53" width="19.91" height="9.73" fill="#2393cf"/>
<rect x="586.53" y="28.53" width="10.45" height="9.73" fill="#00abb5"/>
<rect x="595.99" y="28.53" width="10.45" height="9.73" fill="#07ad96"/>
<rect x="605.44" y="28.53" width="10.45" height="9.73" fill="#09ad90"/>
<rect x="614.89" y="28.53" width="10.45" height="9.73" fill="#0aae8c"/>
<rect x="624.35" y="28.53" width="10.45" height="9.73" fill="#09ad90"/>
<rect x="491.00" y="37.27" width="11.45" height="9.73" fill="#3f73b8"/>
<rect x="501.45" y="37.27" width="10.45" height="9.73" fill="#3b60ab"/>
<rect x="510.91" y="37.27" width="10.45" height="9.73" fill="#3958a6"/>
<rect x="520.36" y="37.27" width="10.45" height="9.73" fill="#3a5ba8"/>
<rect x="529.81" y="37.27" width="10.45" height="9.73" fill="#3f70b6"/>
<rect x="539.27" y="37.27" width="10.45" height="9.73" fill="#189bd5"/>
<rect x="548.72" y="37.27" width="10.45" height="9.73" fill="#00a9d0"/>
<rect x="558.17" y="37.27" width="10.45" height="9.73" fill="#2393cf"/>
<rect x="567.63" y="37.27" width="10.45" height="9.73" fill="#3e6db4"/>
<rect x="577.08" y="37.27" width="10.45" height="9.73" fill="#3c63ad"/>
<rect x="586.53" y="37.27" width="10.45" height="9.73" fill="#3487c6"/>
<rect x="595.99" y="37.27" width="10.45" height="9.73" fill="#00a9d0"/>
<rect x="605.44" y="37.27" width="10.45" height="9.73" fill="#01acb0"/>
<rect x="614.89" y="37.27" width="10.45" height="9.73" fill="#05ad9e"/>
<rect x="624.35" y="37.27" width="10.45" height="9.73" fill="#07ad96"/>
<rect x="491.00" y="46.00" width="11.45" height="9.73" fill="#3d66af"/>
<rect x="501.45" y="46.00" width="10.45" height="9.73" fill="#344d9e"/>
<rect x="510.91" y="46.00" width="10.45" height="9.73" fill="#32479b"/>
<rect x="520.36" y="46.00" width="10.45" height="9.73" fill="#344c9e"/>
<rect x="529.81" y="46.00" width="10.45" height="9.73" fill="#3b60ab"/>
<rect x="539.27" y="46.00" width="10.45" height="9.73" fill="#3c7fc0"/>
<rect x="548.72" y="46.00" width="10.45" height="9.73" fill="#2e8cc9"/>
<rect x="558.17" y="46.00" width="10.45" height="9.73" fill="#3d7dbf"/>
<rect x="567.63" y="46.00" width="10.45" height="9.73" fill="#3a5ba8"/>
<rect x="577.08" y="46.00" width="10.45" height="9.73" fill="#3752a2"/>
<rect x="586.53" y="46.00" width="10.45" height="9.73" fill="#3f73b8"/>
<rect x="595.99" y="46.00" width="10.45" height="9.73" fill="#1e97d2"/>
<rect x="605.44" y="46.00" width="10.45" height="9.73" fill="#00aac2"/>
<rect x="614.89" y="46.00" width="10.45" height="9.73" fill="#02acaa"/>
<rect x="624.35" y="46.00" width="10.45" height="9.73" fill="#05ad9e"/>
<rect x="491.00" y="54.73" width="11.45" height="9.73" fill="#3a5ba8"/>
<rect x="501.45" y="54.73" width="10.45" height="9.73" fill="#344c9e"/>
<rect x="510.91" y="54.73" width="10.45" height="9.73" fill="#323898"/>
<rect x="520.36" y="54.73" width="10.45" height="9.73" fill="#33499c"/>
<rect x="529.81" y="54.73" width="10.45" height="9.73" fill="#3a5ba8"/>
<rect x="539.27" y="54.73" width="10.45" height="9.73" fill="#3f77bb"/>
<rect x="548.72" y="54.73" width="10.45" height="9.73" fill="#3784c4"/>
<rect x="558.17" y="54.73" width="10.45" height="9.73" fill="#3f70b6"/>
<rect x="567.63" y="54.73" width="10.45" height="9.73" fill="#3958a6"/>
<rect x="577.08" y="54.73" width="10.45" height="9.73" fill="#3752a2"/>
<rect x="586.53" y="54.73" width="10.45" height="9.73" fill="#3d66af"/>
<rect x="595.99" y="54.73" width="10.45" height="9.73" fill="#3784c4"/>
<rect x="605.44" y="54.73" width="10.45" height="9.73" fill="#00a9de"/>
<rect x="614.89" y="54.73" width="10.45" height="9.73" fill="#01acb0"/>
<rect x="624.35" y="54.73" width="10.45" height="9.73" fill="#05ad9e"/>
<rect x="491.00" y="63.47" width="11.45" height="9.73" fill="#3651a1"/>
<rect x="501.45" y="63.47" width="10.45" height="9.73" fill="#33499c"/>
<rect x="510.91" y="63.47" width="10.45" height="9.73" fill="#31459a"/>
<rect x="520.36" y="63.47" width="10.45" height="9.73" fill="#354e9f"/>
<rect x="529.81" y="63.47" width="10.45" height="9.73" fill="#3b60ab"/>
<rect x="539.27" y="63.47" width="10.45" height="9.73" fill="#2990cc"/>
<rect x="548.72" y="63.47" width="10.45" height="9.73" fill="#07ad96"/>
<rect x="558.17" y="63.47" width="10.45" height="9.73" fill="#3784c4"/>
<rect x="567.63" y="63.47" width="10.45" height="9.73" fill="#3958a6"/>
<rect x="577.08" y="63.47" width="10.45" height="9.73" fill="#364fa0"/>
<rect x="586.53" y="63.47" width="10.45" height="9.73" fill="#3958a6"/>
<rect x="595.99" y="63.47" width="10.45" height="9.73" fill="#3e6db4"/>
<rect x="605.44" y="63.47" width="10.45" height="9.73" fill="#2990cc"/>
<rect x="614.89" y="63.47" width="10.45" height="9.73" fill="#00abb5"/>
<rect x="624.35" y="63.47" width="10.45" height="9.73" fill="#05ad9e"/>
<rect x="491.00" y="72.20" width="20.91" height="9.73" fill="#344c9e"/>
<rect x="510.91" y="72.20" width="10.45" height="9.73" fill="#3651a1"/>
<rect x="520.36" y="72.20" width="10.45" height="9.73" fill="#3855a4"/>
<rect x="529.81" y="72.20" width="10.45" height="9.73" fill="#3d66af"/>
<rect x="539.27" y="72.20" width="10.45" height="9.73" fill="#00a9c9"/>
<rect x="548.72" y="72.20" width="10.45" height="9.73" fill="#70ba68"/>
<rect x="558.17" y="72.20" width="10.45" height="9.73" fill="#00a9d7"/>
<rect x="567.63" y="72.20" width="10.45" height="9.73" fill="#3a5ba8"/>
<rect x="577.08" y="72.20" width="19.91" height="9.73" fill="#3651a1"/>
<rect x="595.99" y="72.20" width="10.45" height="9.73" fill="#3855a4"/>
<rect x="605.44" y="72.20" width="10.45" height="9.73" fill="#3f77bb"/>
<rect x="614.89" y="72.20" width="10.45" height="9.73" fill="#00a9c9"/>
<rect x="624.35" y="72.20" width="10.45" height="9.73" fill="#03ada5"/>
<rect x="491.00" y="80.93" width="20.91" height="9.73" fill="#344c9e"/>
<rect x="510.91" y="80.93" width="10.45" height="9.73" fill="#364fa0"/>
<rect x="520.36" y="80.93" width="10.45" height="9.73" fill="#3a5ba8"/>
<rect x="529.81" y="80.93" width="10.45" height="9.73" fill="#3d66af"/>
<rect x="539.27" y="80.93" width="10.45" height="9.73" fill="#3a82c2"/>
<rect x="548.72" y="80.93" width="10.45" height="9.73" fill="#00a9d7"/>
<rect x="558.17" y="80.93" width="10.45" height="9.73" fill="#3f77bb"/>
<rect x="567.63" y="80.93" width="10.45" height="9.73" fill="#364fa0"/>
<rect x="577.08" y="80.93" width="10.45" height="9.73" fill="#344c9e"/>
<rect x="586.53" y="80.93" width="10.45" height="9.73" fill="#33499c"/>
<rect x="595.99" y="80.93" width="10.45" height="9.73" fill="#354e9f"/>
<rect x="605.44" y="80.93" width="10.45" height="9.73" fill="#3b60ab"/>
<rect x="614.89" y="80.93" width="10.45" height="9.73" fill="#00a9de"/>
<rect x="624.35" y="80.93" width="10.45" height="9.73" fill="#01acb0"/>
<rect x="491.00" y="89.67" width="20.91" height="9.73" fill="#344c9e"/>
<rect x="510.91" y="89.67" width="10.45" height="9.73" fill="#364fa0"/>
<rect x="520.36" y="89.67" width="19.91" height="9.73" fill="#3a5ba8"/>
<rect x="539.27" y="89.67" width="10.45" height="9.73" fill="#3958a6"/>
<rect x="548.72" y="89.67" width="10.45" height="9.73" fill="#3855a4"/>
<rect x="558.17" y="89.67" width="10.45" height="9.73" fill="#344c9e"/>
<rect x="567.63" y="89.67" width="10.45" height="9.73" fill="#33499c"/>
<rect x="577.08" y="89.67" width="10.45" height="9.73" fill="#32479b"/>
<rect x="586.53" y="89.67" width="10.45" height="9.73" fill="#303d97"/>
<rect x="595.99" y="89.67" width="10.45" height="9.73" fill="#32479b"/>
<rect x="605.44" y="89.67" width="10.45" height="9.73" fill="#3752a2"/>
<rect x="614.89" y="89.67" width="10.45" height="9.73" fill="#2e8cc9"/>
<rect x="624.35" y="89.67" width="10.45" height="9.73" fill="#00a9d0"/>
<rect x="491.00" y="98.40" width="20.91" height="9.73" fill="#344c9e"/>
<rect x="510.91" y="98.40" width="10.45" height="9.73" fill="#344d9e"/>
<rect x="520.36" y="98.40" width="10.45" height="9.73" fill="#364fa0"/>
<rect x="529.81" y="98.40" width="10.45" height="9.73" fill="#3651a1"/>
<rect x="539.27" y="98.40" width="10.45" height="9.73" fill="#33499c"/>
<rect x="548.72" y="98.40" width="29.36" height="9.73" fill="#32479b"/>
<rect x="577.08" y="98.40" width="10.45" height="9.73" fill="#31459a"/>
<rect x="586.53" y="98.40" width="10.45" height="9.73" fill="#303d97"/>
<rect x="595.99" y="98.40" width="10.45" height="9.73" fill="#31459a"/>
<rect x="605.44" y="98.40" width="10.45" height="9.73" fill="#344c9e"/>
<rect x="614.89" y="98.40" width="10.45" height="9.73" fill="#3d66af"/>
<rect x="624.35" y="98.40" width="10.45" height="9.73" fill="#3784c4"/>
<rect x="491.00" y="107.13" width="20.91" height="9.73" fill="#354e9f"/>
<rect x="510.91" y="107.13" width="29.36" height="9.73" fill="#344c9e"/>
<rect x="539.27" y="107.13" width="10.45" height="9.73" fill="#33499c"/>
<rect x="548.72" y="107.13" width="19.91" height="9.73" fill="#31459a"/>
<rect x="567.63" y="107.13" width="19.91" height="9.73" fill="#32479b"/>
<rect x="586.53" y="107.13" width="19.91" height="9.73" fill="#31459a"/>
<rect x="605.44" y="107.13" width="10.45" height="9.73" fill="#32479b"/>
<rect x="614.89" y="107.13" width="10.45" height="9.73" fill="#33499c"/>
<rect x="624.35" y="107.13" width="10.45" height="9.73" fill="#3855a4"/>
<rect x="491.00" y="115.87" width="20.91" height="9.73" fill="#354e9f"/>
<rect x="510.91" y="115.87" width="29.36" height="9.73" fill="#344c9e"/>
<rect x="539.27" y="115.87" width="10.45" height="9.73" fill="#32479b"/>
<rect x="548.72" y="115.87" width="19.91" height="9.73" fill="#303d97"/>
<rect x="567.63" y="115.87" width="10.45" height="9.73" fill="#31459a"/>
<rect x="577.08" y="115.87" width="19.91" height="9.73" fill="#32479b"/>
<rect x="595.99" y="115.87" width="19.91" height="9.73" fill="#304399"/>
<rect x="614.89" y="115.87" width="19.91" height="9.73" fill="#31459a"/>
<rect x="491.00" y="124.60" width="30.36" height="9.73" fill="#3651a1"/>
<rect x="520.36" y="124.60" width="10.45" height="9.73" fill="#344c9e"/>
<rect x="529.81" y="124.60" width="10.45" height="9.73" fill="#33499c"/>
<rect x="539.27" y="124.60" width="10.45" height="9.73" fill="#32479b"/>
<rect x="548.72" y="124.60" width="19.91" height="9.73" fill="#313a98"/>
<rect x="567.63" y="124.60" width="10.45" height="9.73" fill="#31459a"/>
<rect x="577.08" y="124.60" width="19.91" height="9.73" fill="#32479b"/>
<rect x="595.99" y="124.60" width="38.81" height="9.73" fill="#31459a"/>
<rect x="491.00" y="133.33" width="11.45" height="9.73" fill="#3651a1"/>
<rect x="501.45" y="133.33" width="10.45" height="9.73" fill="#3a5ba8"/>
<rect x="510.91" y="133.33" width="10.45" height="9.73" fill="#3d66af"/>
<rect x="520.36" y="133.33" width="10.45" height="9.73" fill="#3a5ba8"/>
<rect x="529.81" y="133.33" width="10.45" height="9.73" fill="#344c9e"/>
<rect x="539.27" y="133.33" width="10.45" height="9.73" fill="#32479b"/>
<rect x="548.72" y="133.33" width="19.91" height="9.73" fill="#303d97"/>
<rect x="567.63" y="133.33" width="10.45" height="9.73" fill="#31459a"/>
<rect x="577.08" y="133.33" width="57.72" height="9.73" fill="#32479b"/>
<rect x="491.00" y="142.07" width="11.45" height="9.73" fill="#3651a1"/>
<rect x="501.45" y="142.07" width="10.45" height="9.73" fill="#3b60ab"/>
<rect x="510.91" y="142.07" width="10.45" height="9.73" fill="#1e97d2"/>
<rect x="520.36" y="142.07" width="10.45" height="9.73" fill="#3c7fc0"/>
<rect x="529.81" y="142.07" width="10.45" height="9.73" fill="#364fa0"/>
<rect x="539.27" y="142.07" width="10.45" height="9.73" fill="#32479b"/>
<rect x="548.72" y="142.07" width="19.91" height="9.73" fill="#31459a"/>
<rect x="567.63" y="142.07" width="19.91" height="9.73" fill="#32479b"/>
<rect x="586.53" y="142.07" width="29.36" height="9.73" fill="#33499c"/>
<rect x="614.89" y="142.07" width="19.91" height="9.73" fill="#344c9e"/>
</g>
<rect x="643.00" y="19.80" width="16.10" height="131.00" fill="url(#cb)"/>
<path d="M643.40 19.80V150.80" stroke="#151515" stroke-width="1"/>
<path d="M658.80 19.80V150.80" stroke="#2a2a2a" stroke-width="0.7"/>
<path d="M643.00 20.05H659.10" stroke="#2a2a2a" stroke-width="0.5"/>
<path d="M643.00 150.50H659.10" stroke="#2a2a2a" stroke-width="0.6"/>
<clipPath id="p10"><rect x="32.00" y="184.80" width="141.80" height="131.00"/></clipPath><g clip-path="url(#p10)">
<rect x="31.00" y="183.80" width="49.27" height="10.73" fill="#02acad"/>
<rect x="79.27" y="183.80" width="10.45" height="10.73" fill="#02acac"/>
<rect x="88.72" y="183.80" width="10.45" height="10.73" fill="#02acab"/>
<rect x="98.17" y="183.80" width="10.45" height="10.73" fill="#02acaa"/>
<rect x="107.63" y="183.80" width="10.45" height="10.73" fill="#03ada8"/>
<rect x="117.08" y="183.80" width="10.45" height="10.73" fill="#03ada5"/>
<rect x="126.53" y="183.80" width="10.45" height="10.73" fill="#04ada2"/>
<rect x="135.99" y="183.80" width="10.45" height="10.73" fill="#04ada0"/>
<rect x="145.44" y="183.80" width="10.45" height="10.73" fill="#05ad9f"/>
<rect x="154.89" y="183.80" width="10.45" height="10.73" fill="#04ada0"/>
<rect x="164.35" y="183.80" width="10.45" height="10.73" fill="#04ada2"/>
<rect x="31.00" y="193.53" width="49.27" height="9.73" fill="#02acad"/>
<rect x="79.27" y="193.53" width="10.45" height="9.73" fill="#02acac"/>
<rect x="88.72" y="193.53" width="10.45" height="9.73" fill="#02acab"/>
<rect x="98.17" y="193.53" width="10.45" height="9.73" fill="#02ada9"/>
<rect x="107.63" y="193.53" width="10.45" height="9.73" fill="#03ada7"/>
<rect x="117.08" y="193.53" width="10.45" height="9.73" fill="#03ada4"/>
<rect x="126.53" y="193.53" width="10.45" height="9.73" fill="#05ad9f"/>
<rect x="135.99" y="193.53" width="10.45" height="9.73" fill="#05ad9c"/>
<rect x="145.44" y="193.53" width="10.45" height="9.73" fill="#06ad9c"/>
<rect x="154.89" y="193.53" width="10.45" height="9.73" fill="#05ad9d"/>
<rect x="164.35" y="193.53" width="10.45" height="9.73" fill="#04ada0"/>
<rect x="31.00" y="202.27" width="49.27" height="9.73" fill="#02acad"/>
<rect x="79.27" y="202.27" width="10.45" height="9.73" fill="#02acac"/>
<rect x="88.72" y="202.27" width="10.45" height="9.73" fill="#02acab"/>
<rect x="98.17" y="202.27" width="10.45" height="9.73" fill="#02ada9"/>
<rect x="107.63" y="202.27" width="10.45" height="9.73" fill="#03ada6"/>
<rect x="117.08" y="202.27" width="10.45" height="9.73" fill="#04ada1"/>
<rect x="126.53" y="202.27" width="10.45" height="9.73" fill="#06ad9a"/>
<rect x="135.99" y="202.27" width="10.45" height="9.73" fill="#07ad97"/>
<rect x="145.44" y="202.27" width="10.45" height="9.73" fill="#07ad98"/>
<rect x="154.89" y="202.27" width="10.45" height="9.73" fill="#06ad9b"/>
<rect x="164.35" y="202.27" width="10.45" height="9.73" fill="#05ad9e"/>
<rect x="31.00" y="211.00" width="49.27" height="9.73" fill="#02acad"/>
<rect x="79.27" y="211.00" width="10.45" height="9.73" fill="#02acac"/>
<rect x="88.72" y="211.00" width="10.45" height="9.73" fill="#02acab"/>
<rect x="98.17" y="211.00" width="10.45" height="9.73" fill="#02ada9"/>
<rect x="107.63" y="211.00" width="10.45" height="9.73" fill="#03ada6"/>
<rect x="117.08" y="211.00" width="10.45" height="9.73" fill="#05ad9e"/>
<rect x="126.53" y="211.00" width="10.45" height="9.73" fill="#08ad93"/>
<rect x="135.99" y="211.00" width="10.45" height="9.73" fill="#09ad91"/>
<rect x="145.44" y="211.00" width="10.45" height="9.73" fill="#07ad96"/>
<rect x="154.89" y="211.00" width="10.45" height="9.73" fill="#06ad9b"/>
<rect x="164.35" y="211.00" width="10.45" height="9.73" fill="#05ad9e"/>
<rect x="31.00" y="219.73" width="20.91" height="9.73" fill="#02acad"/>
<rect x="50.91" y="219.73" width="10.45" height="9.73" fill="#02acae"/>
<rect x="60.36" y="219.73" width="19.91" height="9.73" fill="#01acaf"/>
<rect x="79.27" y="219.73" width="10.45" height="9.73" fill="#02acae"/>
<rect x="88.72" y="219.73" width="10.45" height="9.73" fill="#02acac"/>
<rect x="98.17" y="219.73" width="10.45" height="9.73" fill="#02adaa"/>
<rect x="107.63" y="219.73" width="10.45" height="9.73" fill="#03ada7"/>
<rect x="117.08" y="219.73" width="10.45" height="9.73" fill="#04ada0"/>
<rect x="126.53" y="219.73" width="10.45" height="9.73" fill="#08ad94"/>
<rect x="135.99" y="219.73" width="10.45" height="9.73" fill="#08ad92"/>
<rect x="145.44" y="219.73" width="10.45" height="9.73" fill="#07ad97"/>
<rect x="154.89" y="219.73" width="10.45" height="9.73" fill="#05ad9c"/>
<rect x="164.35" y="219.73" width="10.45" height="9.73" fill="#04ada0"/>
<rect x="31.00" y="228.47" width="11.45" height="9.73" fill="#02acad"/>
<rect x="41.45" y="228.47" width="10.45" height="9.73" fill="#02acae"/>
<rect x="50.91" y="228.47" width="10.45" height="9.73" fill="#01acb0"/>
<rect x="60.36" y="228.47" width="10.45" height="9.73" fill="#01abb3"/>
<rect x="69.81" y="228.47" width="10.45" height="9.73" fill="#01abb5"/>
<rect x="79.27" y="228.47" width="10.45" height="9.73" fill="#01acb3"/>
<rect x="88.72" y="228.47" width="10.45" height="9.73" fill="#01acaf"/>
<rect x="98.17" y="228.47" width="10.45" height="9.73" fill="#02acab"/>
<rect x="107.63" y="228.47" width="10.45" height="9.73" fill="#02ada8"/>
<rect x="117.08" y="228.47" width="10.45" height="9.73" fill="#03ada6"/>
<rect x="126.53" y="228.47" width="10.45" height="9.73" fill="#04ada0"/>
<rect x="135.99" y="228.47" width="10.45" height="9.73" fill="#05ad9d"/>
<rect x="145.44" y="228.47" width="10.45" height="9.73" fill="#05ad9e"/>
<rect x="154.89" y="228.47" width="10.45" height="9.73" fill="#05ada0"/>
<rect x="164.35" y="228.47" width="10.45" height="9.73" fill="#04ada2"/>
<rect x="31.00" y="237.20" width="11.45" height="9.73" fill="#02acae"/>
<rect x="41.45" y="237.20" width="10.45" height="9.73" fill="#01acaf"/>
<rect x="50.91" y="237.20" width="10.45" height="9.73" fill="#01abb4"/>
<rect x="60.36" y="237.20" width="10.45" height="9.73" fill="#00abbb"/>
<rect x="69.81" y="237.20" width="10.45" height="9.73" fill="#00aabf"/>
<rect x="79.27" y="237.20" width="10.45" height="9.73" fill="#00abba"/>
<rect x="88.72" y="237.20" width="10.45" height="9.73" fill="#01acb3"/>
<rect x="98.17" y="237.20" width="10.45" height="9.73" fill="#02acad"/>
<rect x="107.63" y="237.20" width="10.45" height="9.73" fill="#02acac"/>
<rect x="117.08" y="237.20" width="10.45" height="9.73" fill="#02acae"/>
<rect x="126.53" y="237.20" width="10.45" height="9.73" fill="#02acad"/>
<rect x="135.99" y="237.20" width="10.45" height="9.73" fill="#02ada8"/>
<rect x="145.44" y="237.20" width="10.45" height="9.73" fill="#03ada4"/>
<rect x="154.89" y="237.20" width="10.45" height="9.73" fill="#03ada3"/>
<rect x="164.35" y="237.20" width="10.45" height="9.73" fill="#03ada5"/>
<rect x="31.00" y="245.93" width="11.45" height="9.73" fill="#02acae"/>
<rect x="41.45" y="245.93" width="10.45" height="9.73" fill="#01acb0"/>
<rect x="50.91" y="245.93" width="10.45" height="9.73" fill="#00abb6"/>
<rect x="60.36" y="245.93" width="10.45" height="9.73" fill="#00aac0"/>
<rect x="69.81" y="245.93" width="10.45" height="9.73" fill="#00aac5"/>
<rect x="79.27" y="245.93" width="10.45" height="9.73" fill="#00aabf"/>
<rect x="88.72" y="245.93" width="10.45" height="9.73" fill="#00abb5"/>
<rect x="98.17" y="245.93" width="10.45" height="9.73" fill="#01acaf"/>
<rect x="107.63" y="245.93" width="10.45" height="9.73" fill="#01acb1"/>
<rect x="117.08" y="245.93" width="10.45" height="9.73" fill="#00abbd"/>
<rect x="126.53" y="245.93" width="10.45" height="9.73" fill="#00aac2"/>
<rect x="135.99" y="245.93" width="10.45" height="9.73" fill="#01abb4"/>
<rect x="145.44" y="245.93" width="10.45" height="9.73" fill="#02ada9"/>
<rect x="154.89" y="245.93" width="19.91" height="9.73" fill="#03ada7"/>
<rect x="31.00" y="254.67" width="11.45" height="9.73" fill="#02acae"/>
<rect x="41.45" y="254.67" width="10.45" height="9.73" fill="#01acaf"/>
<rect x="50.91" y="254.67" width="10.45" height="9.73" fill="#01abb4"/>
<rect x="60.36" y="254.67" width="10.45" height="9.73" fill="#00abbb"/>
<rect x="69.81" y="254.67" width="10.45" height="9.73" fill="#00aabf"/>
<rect x="79.27" y="254.67" width="10.45" height="9.73" fill="#00abbb"/>
<rect x="88.72" y="254.67" width="10.45" height="9.73" fill="#01abb3"/>
<rect x="98.17" y="254.67" width="10.45" height="9.73" fill="#01acaf"/>
<rect x="107.63" y="254.67" width="10.45" height="9.73" fill="#01abb5"/>
<rect x="117.08" y="254.67" width="10.45" height="9.73" fill="#00a9c8"/>
<rect x="126.53" y="254.67" width="10.45" height="9.73" fill="#00a9d1"/>
<rect x="135.99" y="254.67" width="10.45" height="9.73" fill="#00aabd"/>
<rect x="145.44" y="254.67" width="10.45" height="9.73" fill="#02acad"/>
<rect x="154.89" y="254.67" width="19.91" height="9.73" fill="#02ada9"/>
<rect x="31.00" y="263.40" width="11.45" height="9.73" fill="#02acad"/>
<rect x="41.45" y="263.40" width="10.45" height="9.73" fill="#02acae"/>
<rect x="50.91" y="263.40" width="10.45" height="9.73" fill="#01acb0"/>
<rect x="60.36" y="263.40" width="10.45" height="9.73" fill="#01abb3"/>
<rect x="69.81" y="263.40" width="10.45" height="9.73" fill="#00abb5"/>
<rect x="79.27" y="263.40" width="10.45" height="9.73" fill="#01acb3"/>
<rect x="88.72" y="263.40" width="10.45" height="9.73" fill="#02acae"/>
<rect x="98.17" y="263.40" width="10.45" height="9.73" fill="#02acab"/>
<rect x="107.63" y="263.40" width="10.45" height="9.73" fill="#01acb0"/>
<rect x="117.08" y="263.40" width="10.45" height="9.73" fill="#00aabf"/>
<rect x="126.53" y="263.40" width="10.45" height="9.73" fill="#00aac6"/>
<rect x="135.99" y="263.40" width="10.45" height="9.73" fill="#00abb8"/>
<rect x="145.44" y="263.40" width="10.45" height="9.73" fill="#02acae"/>
<rect x="154.89" y="263.40" width="19.91" height="9.73" fill="#02acab"/>
<rect x="31.00" y="272.13" width="20.91" height="9.73" fill="#02acad"/>
<rect x="50.91" y="272.13" width="10.45" height="9.73" fill="#02acae"/>
<rect x="60.36" y="272.13" width="19.91" height="9.73" fill="#01acaf"/>
<rect x="79.27" y="272.13" width="10.45" height="9.73" fill="#02acac"/>
<rect x="88.72" y="272.13" width="10.45" height="9.73" fill="#04ada2"/>
<rect x="98.17" y="272.13" width="10.45" height="9.73" fill="#07ad97"/>
<rect x="107.63" y="272.13" width="10.45" height="9.73" fill="#03ada3"/>
<rect x="117.08" y="272.13" width="10.45" height="9.73" fill="#01acb0"/>
<rect x="126.53" y="272.13" width="10.45" height="9.73" fill="#01abb4"/>
<rect x="135.99" y="272.13" width="10.45" height="9.73" fill="#01acb0"/>
<rect x="145.44" y="272.13" width="10.45" height="9.73" fill="#02acad"/>
<rect x="154.89" y="272.13" width="19.91" height="9.73" fill="#02acac"/>
<rect x="31.00" y="280.87" width="11.45" height="9.73" fill="#00a9c9"/>
<rect x="41.45" y="280.87" width="19.91" height="9.73" fill="#00aac2"/>
<rect x="60.36" y="280.87" width="19.91" height="9.73" fill="#02acad"/>
<rect x="79.27" y="280.87" width="10.45" height="9.73" fill="#02acaa"/>
<rect x="88.72" y="280.87" width="10.45" height="9.73" fill="#06ad9a"/>
<rect x="98.17" y="280.87" width="10.45" height="9.73" fill="#09ae8f"/>
<rect x="107.63" y="280.87" width="10.45" height="9.73" fill="#06ad9a"/>
<rect x="117.08" y="280.87" width="10.45" height="9.73" fill="#02acaa"/>
<rect x="126.53" y="280.87" width="10.45" height="9.73" fill="#02acae"/>
<rect x="135.99" y="280.87" width="10.45" height="9.73" fill="#02acad"/>
<rect x="145.44" y="280.87" width="29.36" height="9.73" fill="#02acac"/>
<rect x="31.00" y="289.60" width="11.45" height="9.73" fill="#00a9d7"/>
<rect x="41.45" y="289.60" width="10.45" height="9.73" fill="#00a9de"/>
<rect x="50.91" y="289.60" width="10.45" height="9.73" fill="#00a9da"/>
<rect x="60.36" y="289.60" width="10.45" height="9.73" fill="#00abbb"/>
<rect x="69.81" y="289.60" width="10.45" height="9.73" fill="#02acad"/>
<rect x="79.27" y="289.60" width="10.45" height="9.73" fill="#02acac"/>
<rect x="88.72" y="289.60" width="10.45" height="9.73" fill="#03ada6"/>
<rect x="98.17" y="289.60" width="10.45" height="9.73" fill="#04ada1"/>
<rect x="107.63" y="289.60" width="10.45" height="9.73" fill="#03ada6"/>
<rect x="117.08" y="289.60" width="10.45" height="9.73" fill="#02acab"/>
<rect x="126.53" y="289.60" width="48.27" height="9.73" fill="#02acad"/>
<rect x="31.00" y="298.33" width="20.91" height="9.73" fill="#00a9c9"/>
<rect x="50.91" y="298.33" width="10.45" height="9.73" fill="#01acb0"/>
<rect x="60.36" y="298.33" width="10.45" height="9.73" fill="#05ad9e"/>
<rect x="69.81" y="298.33" width="19.91" height="9.73" fill="#02acad"/>
<rect x="88.72" y="298.33" width="29.36" height="9.73" fill="#02acac"/>
<rect x="117.08" y="298.33" width="57.72" height="9.73" fill="#02acad"/>
<rect x="31.00" y="307.07" width="11.45" height="9.73" fill="#00abb5"/>
<rect x="41.45" y="307.07" width="10.45" height="9.73" fill="#0dae88"/>
<rect x="50.91" y="307.07" width="10.45" height="9.73" fill="#49b479"/>
<rect x="60.36" y="307.07" width="10.45" height="9.73" fill="#5cb875"/>
<rect x="69.81" y="307.07" width="10.45" height="9.73" fill="#0aae8c"/>
<rect x="79.27" y="307.07" width="10.45" height="9.73" fill="#02acaa"/>
<rect x="88.72" y="307.07" width="86.08" height="9.73" fill="#02acad"/>
</g>
<rect x="183.00" y="184.80" width="16.10" height="131.00" fill="url(#cb)"/>
<path d="M183.40 184.80V315.80" stroke="#151515" stroke-width="1"/>
<path d="M198.80 184.80V315.80" stroke="#2a2a2a" stroke-width="0.7"/>
<path d="M183.00 185.05H199.10" stroke="#2a2a2a" stroke-width="0.5"/>
<path d="M183.00 315.50H199.10" stroke="#2a2a2a" stroke-width="0.6"/>
<clipPath id="p11"><rect x="262.00" y="184.80" width="141.80" height="131.00"/></clipPath><g clip-path="url(#p11)">
<rect x="261.00" y="183.80" width="20.91" height="10.73" fill="#03ada6"/>
<rect x="280.91" y="183.80" width="10.45" height="10.73" fill="#04ada3"/>
<rect x="290.36" y="183.80" width="10.45" height="10.73" fill="#06ad9a"/>
<rect x="299.81" y="183.80" width="19.91" height="10.73" fill="#09ad91"/>
<rect x="318.72" y="183.80" width="10.45" height="10.73" fill="#06ad9a"/>
<rect x="328.17" y="183.80" width="10.45" height="10.73" fill="#04ada3"/>
<rect x="337.63" y="183.80" width="10.45" height="10.73" fill="#03ada5"/>
<rect x="347.08" y="183.80" width="10.45" height="10.73" fill="#03ada6"/>
<rect x="356.53" y="183.80" width="10.45" height="10.73" fill="#03ada5"/>
<rect x="365.99" y="183.80" width="10.45" height="10.73" fill="#03ada6"/>
<rect x="375.44" y="183.80" width="10.45" height="10.73" fill="#02adaa"/>
<rect x="384.89" y="183.80" width="10.45" height="10.73" fill="#02acad"/>
<rect x="394.35" y="183.80" width="10.45" height="10.73" fill="#02ada9"/>
<rect x="261.00" y="193.53" width="20.91" height="9.73" fill="#03ada7"/>
<rect x="280.91" y="193.53" width="10.45" height="9.73" fill="#03ada5"/>
<rect x="290.36" y="193.53" width="10.45" height="9.73" fill="#05ad9f"/>
<rect x="299.81" y="193.53" width="19.91" height="9.73" fill="#07ad96"/>
<rect x="318.72" y="193.53" width="10.45" height="9.73" fill="#05ad9e"/>
<rect x="328.17" y="193.53" width="10.45" height="9.73" fill="#03ada5"/>
<rect x="337.63" y="193.53" width="29.36" height="9.73" fill="#03ada6"/>
<rect x="365.99" y="193.53" width="10.45" height="9.73" fill="#03ada7"/>
<rect x="375.44" y="193.53" width="10.45" height="9.73" fill="#01acb0"/>
<rect x="384.89" y="193.53" width="10.45" height="9.73" fill="#00abba"/>
<rect x="394.35" y="193.53" width="10.45" height="9.73" fill="#01acb0"/>
<rect x="261.00" y="202.27" width="11.45" height="9.73" fill="#03ada8"/>
<rect x="271.45" y="202.27" width="10.45" height="9.73" fill="#02adaa"/>
<rect x="280.91" y="202.27" width="10.45" height="9.73" fill="#02acaa"/>
<rect x="290.36" y="202.27" width="10.45" height="9.73" fill="#02ada8"/>
<rect x="299.81" y="202.27" width="19.91" height="9.73" fill="#03ada6"/>
<rect x="318.72" y="202.27" width="10.45" height="9.73" fill="#03ada7"/>
<rect x="328.17" y="202.27" width="19.91" height="9.73" fill="#03ada8"/>
<rect x="347.08" y="202.27" width="10.45" height="9.73" fill="#03ada7"/>
<rect x="356.53" y="202.27" width="10.45" height="9.73" fill="#03ada6"/>
<rect x="365.99" y="202.27" width="10.45" height="9.73" fill="#03ada7"/>
<rect x="375.44" y="202.27" width="10.45" height="9.73" fill="#01acaf"/>
<rect x="384.89" y="202.27" width="10.45" height="9.73" fill="#00abb8"/>
<rect x="394.35" y="202.27" width="10.45" height="9.73" fill="#01acb0"/>
<rect x="261.00" y="211.00" width="11.45" height="9.73" fill="#02acac"/>
<rect x="271.45" y="211.00" width="10.45" height="9.73" fill="#01acb3"/>
<rect x="280.91" y="211.00" width="10.45" height="9.73" fill="#00abb5"/>
<rect x="290.36" y="211.00" width="10.45" height="9.73" fill="#01acb2"/>
<rect x="299.81" y="211.00" width="10.45" height="9.73" fill="#02acae"/>
<rect x="309.27" y="211.00" width="10.45" height="9.73" fill="#02acad"/>
<rect x="318.72" y="211.00" width="10.45" height="9.73" fill="#02acac"/>
<rect x="328.17" y="211.00" width="10.45" height="9.73" fill="#02acab"/>
<rect x="337.63" y="211.00" width="57.72" height="9.73" fill="#09ae8e"/>
<rect x="394.35" y="211.00" width="10.45" height="9.73" fill="#02acaa"/>
<rect x="261.00" y="219.73" width="11.45" height="9.73" fill="#01abb4"/>
<rect x="271.45" y="219.73" width="10.45" height="9.73" fill="#00a9c8"/>
<rect x="280.91" y="219.73" width="10.45" height="9.73" fill="#00a9d0"/>
<rect x="290.36" y="219.73" width="10.45" height="9.73" fill="#00aac0"/>
<rect x="299.81" y="219.73" width="10.45" height="9.73" fill="#01abb4"/>
<rect x="309.27" y="219.73" width="10.45" height="9.73" fill="#01acb0"/>
<rect x="318.72" y="219.73" width="10.45" height="9.73" fill="#01acaf"/>
<rect x="328.17" y="219.73" width="10.45" height="9.73" fill="#02acad"/>
<rect x="337.63" y="219.73" width="10.45" height="9.73" fill="#0eae86"/>
<rect x="347.08" y="219.73" width="10.45" height="9.73" fill="#62b974"/>
<rect x="356.53" y="219.73" width="19.91" height="9.73" fill="#56b776"/>
<rect x="375.44" y="219.73" width="10.45" height="9.73" fill="#70ba68"/>
<rect x="384.89" y="219.73" width="10.45" height="9.73" fill="#0bae8a"/>
<rect x="394.35" y="219.73" width="10.45" height="9.73" fill="#02acaa"/>
<rect x="261.00" y="228.47" width="11.45" height="9.73" fill="#00abb6"/>
<rect x="271.45" y="228.47" width="10.45" height="9.73" fill="#00a9ce"/>
<rect x="280.91" y="228.47" width="10.45" height="9.73" fill="#00a9d7"/>
<rect x="290.36" y="228.47" width="10.45" height="9.73" fill="#00aac6"/>
<rect x="299.81" y="228.47" width="10.45" height="9.73" fill="#00abb7"/>
<rect x="309.27" y="228.47" width="10.45" height="9.73" fill="#01acb3"/>
<rect x="318.72" y="228.47" width="10.45" height="9.73" fill="#01acb1"/>
<rect x="328.17" y="228.47" width="10.45" height="9.73" fill="#01acaf"/>
<rect x="337.63" y="228.47" width="10.45" height="9.73" fill="#0eae86"/>
<rect x="347.08" y="228.47" width="10.45" height="9.73" fill="#69b96e"/>
<rect x="356.53" y="228.47" width="19.91" height="9.73" fill="#49b479"/>
<rect x="375.44" y="228.47" width="10.45" height="9.73" fill="#8aba55"/>
<rect x="384.89" y="228.47" width="10.45" height="9.73" fill="#0bae8a"/>
<rect x="394.35" y="228.47" width="10.45" height="9.73" fill="#02acad"/>
<rect x="261.00" y="237.20" width="11.45" height="9.73" fill="#01acb1"/>
<rect x="271.45" y="237.20" width="10.45" height="9.73" fill="#00abbc"/>
<rect x="280.91" y="237.20" width="10.45" height="9.73" fill="#00aac1"/>
<rect x="290.36" y="237.20" width="10.45" height="9.73" fill="#00abbc"/>
<rect x="299.81" y="237.20" width="10.45" height="9.73" fill="#00abb7"/>
<rect x="309.27" y="237.20" width="10.45" height="9.73" fill="#01abb5"/>
<rect x="318.72" y="237.20" width="10.45" height="9.73" fill="#01acb3"/>
<rect x="328.17" y="237.20" width="10.45" height="9.73" fill="#01acb0"/>
<rect x="337.63" y="237.20" width="38.81" height="9.73" fill="#06ad9a"/>
<rect x="375.44" y="237.20" width="10.45" height="9.73" fill="#10ad83"/>
<rect x="384.89" y="237.20" width="10.45" height="9.73" fill="#06ad9a"/>
<rect x="394.35" y="237.20" width="10.45" height="9.73" fill="#01acb2"/>
<rect x="261.00" y="245.93" width="11.45" height="9.73" fill="#02acae"/>
<rect x="271.45" y="245.93" width="10.45" height="9.73" fill="#01acb2"/>
<rect x="280.91" y="245.93" width="10.45" height="9.73" fill="#01abb5"/>
<rect x="290.36" y="245.93" width="19.91" height="9.73" fill="#00abb5"/>
<rect x="309.27" y="245.93" width="10.45" height="9.73" fill="#01abb4"/>
<rect x="318.72" y="245.93" width="10.45" height="9.73" fill="#01acb3"/>
<rect x="328.17" y="245.93" width="10.45" height="9.73" fill="#01acb1"/>
<rect x="337.63" y="245.93" width="10.45" height="9.73" fill="#01acb2"/>
<rect x="347.08" y="245.93" width="10.45" height="9.73" fill="#00abbb"/>
<rect x="356.53" y="245.93" width="10.45" height="9.73" fill="#00abbc"/>
<rect x="365.99" y="245.93" width="10.45" height="9.73" fill="#01acb1"/>
<rect x="375.44" y="245.93" width="10.45" height="9.73" fill="#02acae"/>
<rect x="384.89" y="245.93" width="19.91" height="9.73" fill="#00abb7"/>
<rect x="261.00" y="254.67" width="11.45" height="9.73" fill="#02acad"/>
<rect x="271.45" y="254.67" width="10.45" height="9.73" fill="#01acaf"/>
<rect x="280.91" y="254.67" width="10.45" height="9.73" fill="#01acb1"/>
<rect x="290.36" y="254.67" width="10.45" height="9.73" fill="#01acb3"/>
<rect x="299.81" y="254.67" width="10.45" height="9.73" fill="#01abb3"/>
<rect x="309.27" y="254.67" width="10.45" height="9.73" fill="#01acb3"/>
<rect x="318.72" y="254.67" width="10.45" height="9.73" fill="#01acb1"/>
<rect x="328.17" y="254.67" width="10.45" height="9.73" fill="#01acb0"/>
<rect x="337.63" y="254.67" width="10.45" height="9.73" fill="#01abb4"/>
<rect x="347.08" y="254.67" width="10.45" height="9.73" fill="#00aac6"/>
<rect x="356.53" y="254.67" width="10.45" height="9.73" fill="#00a9cb"/>
<rect x="365.99" y="254.67" width="10.45" height="9.73" fill="#00abb6"/>
<rect x="375.44" y="254.67" width="10.45" height="9.73" fill="#01acaf"/>
<rect x="384.89" y="254.67" width="19.91" height="9.73" fill="#00abb9"/>
<rect x="261.00" y="263.40" width="11.45" height="9.73" fill="#02acab"/>
<rect x="271.45" y="263.40" width="10.45" height="9.73" fill="#02acad"/>
<rect x="280.91" y="263.40" width="10.45" height="9.73" fill="#01acaf"/>
<rect x="290.36" y="263.40" width="10.45" height="9.73" fill="#01acb0"/>
<rect x="299.81" y="263.40" width="19.91" height="9.73" fill="#01acb1"/>
<rect x="318.72" y="263.40" width="10.45" height="9.73" fill="#01acb0"/>
<rect x="328.17" y="263.40" width="19.91" height="9.73" fill="#01acaf"/>
<rect x="347.08" y="263.40" width="10.45" height="9.73" fill="#00abb5"/>
<rect x="356.53" y="263.40" width="10.45" height="9.73" fill="#00abb6"/>
<rect x="365.99" y="263.40" width="10.45" height="9.73" fill="#02acae"/>
<rect x="375.44" y="263.40" width="10.45" height="9.73" fill="#02acad"/>
<rect x="384.89" y="263.40" width="19.91" height="9.73" fill="#00abb7"/>
<rect x="261.00" y="272.13" width="11.45" height="9.73" fill="#02ada9"/>
<rect x="271.45" y="272.13" width="10.45" height="9.73" fill="#02acab"/>
<rect x="280.91" y="272.13" width="10.45" height="9.73" fill="#02acac"/>
<rect x="290.36" y="272.13" width="19.91" height="9.73" fill="#02acad"/>
<rect x="309.27" y="272.13" width="10.45" height="9.73" fill="#01acaf"/>
<rect x="318.72" y="272.13" width="10.45" height="9.73" fill="#01acb3"/>
<rect x="328.17" y="272.13" width="10.45" height="9.73" fill="#01acb1"/>
<rect x="337.63" y="272.13" width="10.45" height="9.73" fill="#02acac"/>
<rect x="347.08" y="272.13" width="10.45" height="9.73" fill="#02acaa"/>
<rect x="356.53" y="272.13" width="10.45" height="9.73" fill="#02ada9"/>
<rect x="365.99" y="272.13" width="10.45" height="9.73" fill="#03ada8"/>
<rect x="375.44" y="272.13" width="10.45" height="9.73" fill="#02acab"/>
<rect x="384.89" y="272.13" width="19.91" height="9.73" fill="#01acb2"/>
<rect x="261.00" y="280.87" width="11.45" height="9.73" fill="#03ada8"/>
<rect x="271.45" y="280.87" width="19.91" height="9.73" fill="#02ada9"/>
<rect x="290.36" y="280.87" width="10.45" height="9.73" fill="#02ada8"/>
<rect x="299.81" y="280.87" width="10.45" height="9.73" fill="#02acaa"/>
<rect x="309.27" y="280.87" width="10.45" height="9.73" fill="#01acaf"/>
<rect x="318.72" y="280.87" width="10.45" height="9.73" fill="#00abb9"/>
<rect x="328.17" y="280.87" width="10.45" height="9.73" fill="#00abb8"/>
<rect x="337.63" y="280.87" width="10.45" height="9.73" fill="#02acad"/>
<rect x="347.08" y="280.87" width="10.45" height="9.73" fill="#03ada8"/>
<rect x="356.53" y="280.87" width="19.91" height="9.73" fill="#03ada6"/>
<rect x="375.44" y="280.87" width="10.45" height="9.73" fill="#02ada8"/>
<rect x="384.89" y="280.87" width="19.91" height="9.73" fill="#02acad"/>
<rect x="261.00" y="289.60" width="11.45" height="9.73" fill="#03ada7"/>
<rect x="271.45" y="289.60" width="10.45" height="9.73" fill="#03ada6"/>
<rect x="280.91" y="289.60" width="10.45" height="9.73" fill="#04ada3"/>
<rect x="290.36" y="289.60" width="10.45" height="9.73" fill="#05ad9f"/>
<rect x="299.81" y="289.60" width="10.45" height="9.73" fill="#03ada5"/>
<rect x="309.27" y="289.60" width="10.45" height="9.73" fill="#02acad"/>
<rect x="318.72" y="289.60" width="10.45" height="9.73" fill="#00abb7"/>
<rect x="328.17" y="289.60" width="10.45" height="9.73" fill="#00abb6"/>
<rect x="337.63" y="289.60" width="10.45" height="9.73" fill="#02acac"/>
<rect x="347.08" y="289.60" width="10.45" height="9.73" fill="#03ada7"/>
<rect x="356.53" y="289.60" width="19.91" height="9.73" fill="#03ada6"/>
<rect x="375.44" y="289.60" width="10.45" height="9.73" fill="#03ada7"/>
<rect x="384.89" y="289.60" width="19.91" height="9.73" fill="#02ada9"/>
<rect x="261.00" y="298.33" width="11.45" height="9.73" fill="#03ada6"/>
<rect x="271.45" y="298.33" width="10.45" height="9.73" fill="#03ada4"/>
<rect x="280.91" y="298.33" width="10.45" height="9.73" fill="#06ad99"/>
<rect x="290.36" y="298.33" width="10.45" height="9.73" fill="#09ad90"/>
<rect x="299.81" y="298.33" width="10.45" height="9.73" fill="#06ad9a"/>
<rect x="309.27" y="298.33" width="10.45" height="9.73" fill="#03ada7"/>
<rect x="318.72" y="298.33" width="19.91" height="9.73" fill="#02acad"/>
<rect x="337.63" y="298.33" width="10.45" height="9.73" fill="#02ada8"/>
<rect x="347.08" y="298.33" width="10.45" height="9.73" fill="#03ada6"/>
<rect x="356.53" y="298.33" width="19.91" height="9.73" fill="#03ada5"/>
<rect x="375.44" y="298.33" width="10.45" height="9.73" fill="#03ada6"/>
<rect x="384.89" y="298.33" width="19.91" height="9.73" fill="#03ada7"/>
<rect x="261.00" y="307.07" width="11.45" height="9.73" fill="#03ada5"/>
<rect x="271.45" y="307.07" width="10.45" height="9.73" fill="#04ada3"/>
<rect x="280.91" y="307.07" width="10.45" height="9.73" fill="#08ad94"/>
<rect x="290.36" y="307.07" width="10.45" height="9.73" fill="#0bae8b"/>
<rect x="299.81" y="307.07" width="10.45" height="9.73" fill="#08ad94"/>
<rect x="309.27" y="307.07" width="10.45" height="9.73" fill="#03ada4"/>
<rect x="318.72" y="307.07" width="19.91" height="9.73" fill="#03ada7"/>
<rect x="337.63" y="307.07" width="10.45" height="9.73" fill="#03ada6"/>
<rect x="347.08" y="307.07" width="38.81" height="9.73" fill="#03ada5"/>
<rect x="384.89" y="307.07" width="19.91" height="9.73" fill="#03ada6"/>
</g>
<rect x="413.00" y="184.80" width="16.10" height="131.00" fill="url(#cb)"/>
<path d="M413.40 184.80V315.80" stroke="#151515" stroke-width="1"/>
<path d="M428.80 184.80V315.80" stroke="#2a2a2a" stroke-width="0.7"/>
<path d="M413.00 185.05H429.10" stroke="#2a2a2a" stroke-width="0.5"/>
<path d="M413.00 315.50H429.10" stroke="#2a2a2a" stroke-width="0.6"/>
<clipPath id="p12"><rect x="492.00" y="184.80" width="141.80" height="131.00"/></clipPath><g clip-path="url(#p12)">
<rect x="491.00" y="183.80" width="11.45" height="10.73" fill="#00a9c9"/>
<rect x="501.45" y="183.80" width="10.45" height="10.73" fill="#00aac2"/>
<rect x="510.91" y="183.80" width="19.91" height="10.73" fill="#00abbb"/>
<rect x="529.81" y="183.80" width="10.45" height="10.73" fill="#07ad96"/>
<rect x="539.27" y="183.80" width="19.91" height="10.73" fill="#0aae8c"/>
<rect x="558.17" y="183.80" width="10.45" height="10.73" fill="#03ada5"/>
<rect x="567.63" y="183.80" width="10.45" height="10.73" fill="#00aac2"/>
<rect x="577.08" y="183.80" width="10.45" height="10.73" fill="#05ad9e"/>
<rect x="586.53" y="183.80" width="19.91" height="10.73" fill="#0dae88"/>
<rect x="605.44" y="183.80" width="10.45" height="10.73" fill="#2fb07c"/>
<rect x="614.89" y="183.80" width="10.45" height="10.73" fill="#11ad81"/>
<rect x="624.35" y="183.80" width="10.45" height="10.73" fill="#0aae8c"/>
<rect x="491.00" y="193.53" width="11.45" height="9.73" fill="#1e97d2"/>
<rect x="501.45" y="193.53" width="10.45" height="9.73" fill="#2990cc"/>
<rect x="510.91" y="193.53" width="10.45" height="9.73" fill="#2e8cc9"/>
<rect x="520.36" y="193.53" width="10.45" height="9.73" fill="#2393cf"/>
<rect x="529.81" y="193.53" width="10.45" height="9.73" fill="#00a9d0"/>
<rect x="539.27" y="193.53" width="19.91" height="9.73" fill="#09ad90"/>
<rect x="558.17" y="193.53" width="10.45" height="9.73" fill="#00abbb"/>
<rect x="567.63" y="193.53" width="10.45" height="9.73" fill="#1e97d2"/>
<rect x="577.08" y="193.53" width="10.45" height="9.73" fill="#189bd5"/>
<rect x="586.53" y="193.53" width="10.45" height="9.73" fill="#02acaa"/>
<rect x="595.99" y="193.53" width="10.45" height="9.73" fill="#0aae8c"/>
<rect x="605.44" y="193.53" width="10.45" height="9.73" fill="#0dae88"/>
<rect x="614.89" y="193.53" width="10.45" height="9.73" fill="#0fae84"/>
<rect x="624.35" y="193.53" width="10.45" height="9.73" fill="#0aae8c"/>
<rect x="491.00" y="202.27" width="11.45" height="9.73" fill="#3f7abd"/>
<rect x="501.45" y="202.27" width="10.45" height="9.73" fill="#3d66af"/>
<rect x="510.91" y="202.27" width="10.45" height="9.73" fill="#3a5ba8"/>
<rect x="520.36" y="202.27" width="10.45" height="9.73" fill="#3a5eaa"/>
<rect x="529.81" y="202.27" width="10.45" height="9.73" fill="#3f7abd"/>
<rect x="539.27" y="202.27" width="10.45" height="9.73" fill="#00a9de"/>
<rect x="548.72" y="202.27" width="10.45" height="9.73" fill="#00a9d0"/>
<rect x="558.17" y="202.27" width="10.45" height="9.73" fill="#189bd5"/>
<rect x="567.63" y="202.27" width="10.45" height="9.73" fill="#3f73b8"/>
<rect x="577.08" y="202.27" width="10.45" height="9.73" fill="#3d66af"/>
<rect x="586.53" y="202.27" width="10.45" height="9.73" fill="#2e8cc9"/>
<rect x="595.99" y="202.27" width="10.45" height="9.73" fill="#00aac2"/>
<rect x="605.44" y="202.27" width="10.45" height="9.73" fill="#03ada5"/>
<rect x="614.89" y="202.27" width="19.91" height="9.73" fill="#07ad96"/>
<rect x="491.00" y="211.00" width="11.45" height="9.73" fill="#3e6ab2"/>
<rect x="501.45" y="211.00" width="10.45" height="9.73" fill="#364fa0"/>
<rect x="510.91" y="211.00" width="10.45" height="9.73" fill="#32479b"/>
<rect x="520.36" y="211.00" width="10.45" height="9.73" fill="#344c9e"/>
<rect x="529.81" y="211.00" width="10.45" height="9.73" fill="#3c63ad"/>
<rect x="539.27" y="211.00" width="10.45" height="9.73" fill="#3a82c2"/>
<rect x="548.72" y="211.00" width="10.45" height="9.73" fill="#2e8cc9"/>
<rect x="558.17" y="211.00" width="10.45" height="9.73" fill="#3c7fc0"/>
<rect x="567.63" y="211.00" width="10.45" height="9.73" fill="#3a5eaa"/>
<rect x="577.08" y="211.00" width="10.45" height="9.73" fill="#3855a4"/>
<rect x="586.53" y="211.00" width="10.45" height="9.73" fill="#3f77bb"/>
<rect x="595.99" y="211.00" width="10.45" height="9.73" fill="#0ca2d9"/>
<rect x="605.44" y="211.00" width="10.45" height="9.73" fill="#00abbb"/>
<rect x="614.89" y="211.00" width="10.45" height="9.73" fill="#03ada5"/>
<rect x="624.35" y="211.00" width="10.45" height="9.73" fill="#05ad9e"/>
<rect x="491.00" y="219.73" width="11.45" height="9.73" fill="#3a5ba8"/>
<rect x="501.45" y="219.73" width="10.45" height="9.73" fill="#344c9e"/>
<rect x="510.91" y="219.73" width="10.45" height="9.73" fill="#323898"/>
<rect x="520.36" y="219.73" width="10.45" height="9.73" fill="#33499c"/>
<rect x="529.81" y="219.73" width="10.45" height="9.73" fill="#3a5eaa"/>
<rect x="539.27" y="219.73" width="10.45" height="9.73" fill="#3f7abd"/>
<rect x="548.72" y="219.73" width="10.45" height="9.73" fill="#3487c6"/>
<rect x="558.17" y="219.73" width="10.45" height="9.73" fill="#3f73b8"/>
<rect x="567.63" y="219.73" width="10.45" height="9.73" fill="#3958a6"/>
<rect x="577.08" y="219.73" width="10.45" height="9.73" fill="#3752a2"/>
<rect x="586.53" y="219.73" width="10.45" height="9.73" fill="#3d66af"/>
<rect x="595.99" y="219.73" width="10.45" height="9.73" fill="#3784c4"/>
<rect x="605.44" y="219.73" width="10.45" height="9.73" fill="#00a9d7"/>
<rect x="614.89" y="219.73" width="10.45" height="9.73" fill="#02acaa"/>
<rect x="624.35" y="219.73" width="10.45" height="9.73" fill="#05ad9e"/>
<rect x="491.00" y="228.47" width="11.45" height="9.73" fill="#354e9f"/>
<rect x="501.45" y="228.47" width="10.45" height="9.73" fill="#32479b"/>
<rect x="510.91" y="228.47" width="10.45" height="9.73" fill="#31459a"/>
<rect x="520.36" y="228.47" width="10.45" height="9.73" fill="#354e9f"/>
<rect x="529.81" y="228.47" width="10.45" height="9.73" fill="#3c63ad"/>
<rect x="539.27" y="228.47" width="10.45" height="9.73" fill="#00a9de"/>
<rect x="548.72" y="228.47" width="10.45" height="9.73" fill="#11ad81"/>
<rect x="558.17" y="228.47" width="10.45" height="9.73" fill="#1e97d2"/>
<rect x="567.63" y="228.47" width="10.45" height="9.73" fill="#3a5ba8"/>
<rect x="577.08" y="228.47" width="10.45" height="9.73" fill="#364fa0"/>
<rect x="586.53" y="228.47" width="10.45" height="9.73" fill="#3958a6"/>
<rect x="595.99" y="228.47" width="10.45" height="9.73" fill="#3e6ab2"/>
<rect x="605.44" y="228.47" width="10.45" height="9.73" fill="#2393cf"/>
<rect x="614.89" y="228.47" width="10.45" height="9.73" fill="#01acb0"/>
<rect x="624.35" y="228.47" width="10.45" height="9.73" fill="#05ad9e"/>
<rect x="491.00" y="237.20" width="20.91" height="9.73" fill="#344c9e"/>
<rect x="510.91" y="237.20" width="10.45" height="9.73" fill="#3651a1"/>
<rect x="520.36" y="237.20" width="10.45" height="9.73" fill="#3958a6"/>
<rect x="529.81" y="237.20" width="10.45" height="9.73" fill="#3f73b8"/>
<rect x="539.27" y="237.20" width="10.45" height="9.73" fill="#0fae84"/>
<rect x="548.72" y="237.20" width="10.45" height="9.73" fill="#ecb436"/>
<rect x="558.17" y="237.20" width="10.45" height="9.73" fill="#07ad96"/>
<rect x="567.63" y="237.20" width="10.45" height="9.73" fill="#3b60ab"/>
<rect x="577.08" y="237.20" width="19.91" height="9.73" fill="#3651a1"/>
<rect x="595.99" y="237.20" width="10.45" height="9.73" fill="#3855a4"/>
<rect x="605.44" y="237.20" width="10.45" height="9.73" fill="#3f73b8"/>
<rect x="614.89" y="237.20" width="10.45" height="9.73" fill="#00aac2"/>
<rect x="624.35" y="237.20" width="10.45" height="9.73" fill="#05ad9e"/>
<rect x="491.00" y="245.93" width="20.91" height="9.73" fill="#344c9e"/>
<rect x="510.91" y="245.93" width="10.45" height="9.73" fill="#364fa0"/>
<rect x="520.36" y="245.93" width="10.45" height="9.73" fill="#3a5ba8"/>
<rect x="529.81" y="245.93" width="10.45" height="9.73" fill="#3e6ab2"/>
<rect x="539.27" y="245.93" width="10.45" height="9.73" fill="#1e97d2"/>
<rect x="548.72" y="245.93" width="10.45" height="9.73" fill="#03ada5"/>
<rect x="558.17" y="245.93" width="10.45" height="9.73" fill="#3c7fc0"/>
<rect x="567.63" y="245.93" width="10.45" height="9.73" fill="#364fa0"/>
<rect x="577.08" y="245.93" width="10.45" height="9.73" fill="#344c9e"/>
<rect x="586.53" y="245.93" width="10.45" height="9.73" fill="#33499c"/>
<rect x="595.99" y="245.93" width="10.45" height="9.73" fill="#354e9f"/>
<rect x="605.44" y="245.93" width="10.45" height="9.73" fill="#3b60ab"/>
<rect x="614.89" y="245.93" width="10.45" height="9.73" fill="#00a9d7"/>
<rect x="624.35" y="245.93" width="10.45" height="9.73" fill="#02acaa"/>
<rect x="491.00" y="254.67" width="20.91" height="9.73" fill="#344c9e"/>
<rect x="510.91" y="254.67" width="10.45" height="9.73" fill="#364fa0"/>
<rect x="520.36" y="254.67" width="19.91" height="9.73" fill="#3a5ba8"/>
<rect x="539.27" y="254.67" width="10.45" height="9.73" fill="#3958a6"/>
<rect x="548.72" y="254.67" width="10.45" height="9.73" fill="#3752a2"/>
<rect x="558.17" y="254.67" width="10.45" height="9.73" fill="#344c9e"/>
<rect x="567.63" y="254.67" width="10.45" height="9.73" fill="#33499c"/>
<rect x="577.08" y="254.67" width="10.45" height="9.73" fill="#32479b"/>
<rect x="586.53" y="254.67" width="10.45" height="9.73" fill="#313a98"/>
<rect x="595.99" y="254.67" width="10.45" height="9.73" fill="#32479b"/>
<rect x="605.44" y="254.67" width="10.45" height="9.73" fill="#3752a2"/>
<rect x="614.89" y="254.67" width="10.45" height="9.73" fill="#2990cc"/>
<rect x="624.35" y="254.67" width="10.45" height="9.73" fill="#00a9d0"/>
<rect x="491.00" y="263.40" width="20.91" height="9.73" fill="#344c9e"/>
<rect x="510.91" y="263.40" width="10.45" height="9.73" fill="#344d9e"/>
<rect x="520.36" y="263.40" width="10.45" height="9.73" fill="#364fa0"/>
<rect x="529.81" y="263.40" width="10.45" height="9.73" fill="#3651a1"/>
<rect x="539.27" y="263.40" width="10.45" height="9.73" fill="#33499c"/>
<rect x="548.72" y="263.40" width="29.36" height="9.73" fill="#32479b"/>
<rect x="577.08" y="263.40" width="10.45" height="9.73" fill="#31459a"/>
<rect x="586.53" y="263.40" width="10.45" height="9.73" fill="#303d97"/>
<rect x="595.99" y="263.40" width="10.45" height="9.73" fill="#31459a"/>
<rect x="605.44" y="263.40" width="10.45" height="9.73" fill="#344c9e"/>
<rect x="614.89" y="263.40" width="10.45" height="9.73" fill="#3d66af"/>
<rect x="624.35" y="263.40" width="10.45" height="9.73" fill="#3784c4"/>
<rect x="491.00" y="272.13" width="20.91" height="9.73" fill="#354e9f"/>
<rect x="510.91" y="272.13" width="29.36" height="9.73" fill="#344c9e"/>
<rect x="539.27" y="272.13" width="10.45" height="9.73" fill="#32479b"/>
<rect x="548.72" y="272.13" width="19.91" height="9.73" fill="#31459a"/>
<rect x="567.63" y="272.13" width="19.91" height="9.73" fill="#32479b"/>
<rect x="586.53" y="272.13" width="19.91" height="9.73" fill="#31459a"/>
<rect x="605.44" y="272.13" width="10.45" height="9.73" fill="#32479b"/>
<rect x="614.89" y="272.13" width="10.45" height="9.73" fill="#33499c"/>
<rect x="624.35" y="272.13" width="10.45" height="9.73" fill="#3855a4"/>
<rect x="491.00" y="280.87" width="39.81" height="9.73" fill="#344c9e"/>
<rect x="529.81" y="280.87" width="10.45" height="9.73" fill="#33499c"/>
<rect x="539.27" y="280.87" width="10.45" height="9.73" fill="#32479b"/>
<rect x="548.72" y="280.87" width="19.91" height="9.73" fill="#304399"/>
<rect x="567.63" y="280.87" width="10.45" height="9.73" fill="#31459a"/>
<rect x="577.08" y="280.87" width="19.91" height="9.73" fill="#32479b"/>
<rect x="595.99" y="280.87" width="10.45" height="9.73" fill="#304399"/>
<rect x="605.44" y="280.87" width="10.45" height="9.73" fill="#303d97"/>
<rect x="614.89" y="280.87" width="10.45" height="9.73" fill="#304399"/>
<rect x="624.35" y="280.87" width="10.45" height="9.73" fill="#31459a"/>
<rect x="491.00" y="289.60" width="30.36" height="9.73" fill="#3651a1"/>
<rect x="520.36" y="289.60" width="10.45" height="9.73" fill="#344c9e"/>
<rect x="529.81" y="289.60" width="10.45" height="9.73" fill="#32479b"/>
<rect x="539.27" y="289.60" width="10.45" height="9.73" fill="#31459a"/>
<rect x="548.72" y="289.60" width="19.91" height="9.73" fill="#303d97"/>
<rect x="567.63" y="289.60" width="10.45" height="9.73" fill="#31459a"/>
<rect x="577.08" y="289.60" width="19.91" height="9.73" fill="#32479b"/>
<rect x="595.99" y="289.60" width="10.45" height="9.73" fill="#31459a"/>
<rect x="605.44" y="289.60" width="10.45" height="9.73" fill="#304399"/>
<rect x="614.89" y="289.60" width="19.91" height="9.73" fill="#31459a"/>
<rect x="491.00" y="298.33" width="11.45" height="9.73" fill="#3651a1"/>
<rect x="501.45" y="298.33" width="10.45" height="9.73" fill="#3a5ba8"/>
<rect x="510.91" y="298.33" width="10.45" height="9.73" fill="#3d66af"/>
<rect x="520.36" y="298.33" width="10.45" height="9.73" fill="#3a5ba8"/>
<rect x="529.81" y="298.33" width="10.45" height="9.73" fill="#344c9e"/>
<rect x="539.27" y="298.33" width="10.45" height="9.73" fill="#31459a"/>
<rect x="548.72" y="298.33" width="19.91" height="9.73" fill="#304399"/>
<rect x="567.63" y="298.33" width="10.45" height="9.73" fill="#31459a"/>
<rect x="577.08" y="298.33" width="57.72" height="9.73" fill="#32479b"/>
<rect x="491.00" y="307.07" width="11.45" height="9.73" fill="#3651a1"/>
<rect x="501.45" y="307.07" width="10.45" height="9.73" fill="#3b60ab"/>
<rect x="510.91" y="307.07" width="10.45" height="9.73" fill="#1e97d2"/>
<rect x="520.36" y="307.07" width="10.45" height="9.73" fill="#3c7fc0"/>
<rect x="529.81" y="307.07" width="10.45" height="9.73" fill="#364fa0"/>
<rect x="539.27" y="307.07" width="10.45" height="9.73" fill="#32479b"/>
<rect x="548.72" y="307.07" width="19.91" height="9.73" fill="#31459a"/>
<rect x="567.63" y="307.07" width="19.91" height="9.73" fill="#32479b"/>
<rect x="586.53" y="307.07" width="10.45" height="9.73" fill="#33499c"/>
<rect x="595.99" y="307.07" width="19.91" height="9.73" fill="#344c9e"/>
<rect x="614.89" y="307.07" width="19.91" height="9.73" fill="#354e9f"/>
</g>
<rect x="643.00" y="184.80" width="16.10" height="131.00" fill="url(#cb)"/>
<path d="M643.40 184.80V315.80" stroke="#151515" stroke-width="1"/>
<path d="M658.80 184.80V315.80" stroke="#2a2a2a" stroke-width="0.7"/>
<path d="M643.00 185.05H659.10" stroke="#2a2a2a" stroke-width="0.5"/>
<path d="M643.00 315.50H659.10" stroke="#2a2a2a" stroke-width="0.6"/>
<clipPath id="p20"><rect x="32.00" y="349.80" width="141.80" height="131.00"/></clipPath><g clip-path="url(#p20)">
<rect x="31.00" y="348.80" width="11.45" height="10.73" fill="#2fb07c"/>
<rect x="41.45" y="348.80" width="10.45" height="10.73" fill="#0aae8c"/>
<rect x="50.91" y="348.80" width="10.45" height="10.73" fill="#03ada5"/>
<rect x="60.36" y="348.80" width="10.45" height="10.73" fill="#09ad90"/>
<rect x="69.81" y="348.80" width="10.45" height="10.73" fill="#0fae84"/>
<rect x="79.27" y="348.80" width="10.45" height="10.73" fill="#07ad96"/>
<rect x="88.72" y="348.80" width="10.45" height="10.73" fill="#00abb5"/>
<rect x="98.17" y="348.80" width="10.45" height="10.73" fill="#00abbb"/>
<rect x="107.63" y="348.80" width="10.45" height="10.73" fill="#00abb5"/>
<rect x="117.08" y="348.80" width="10.45" height="10.73" fill="#00a9d0"/>
<rect x="126.53" y="348.80" width="19.91" height="10.73" fill="#3487c6"/>
<rect x="145.44" y="348.80" width="10.45" height="10.73" fill="#00a9d7"/>
<rect x="154.89" y="348.80" width="10.45" height="10.73" fill="#00a9d0"/>
<rect x="164.35" y="348.80" width="10.45" height="10.73" fill="#189bd5"/>
<rect x="31.00" y="358.53" width="11.45" height="9.73" fill="#0aae8c"/>
<rect x="41.45" y="358.53" width="10.45" height="9.73" fill="#03ada5"/>
<rect x="50.91" y="358.53" width="10.45" height="9.73" fill="#00abb5"/>
<rect x="60.36" y="358.53" width="10.45" height="9.73" fill="#03ada5"/>
<rect x="69.81" y="358.53" width="10.45" height="9.73" fill="#0aae8c"/>
<rect x="79.27" y="358.53" width="10.45" height="9.73" fill="#09ad90"/>
<rect x="88.72" y="358.53" width="10.45" height="9.73" fill="#05ad9e"/>
<rect x="98.17" y="358.53" width="10.45" height="9.73" fill="#03ada5"/>
<rect x="107.63" y="358.53" width="19.91" height="9.73" fill="#05ad9e"/>
<rect x="126.53" y="358.53" width="10.45" height="9.73" fill="#00abbb"/>
<rect x="135.99" y="358.53" width="10.45" height="9.73" fill="#00abb5"/>
<rect x="145.44" y="358.53" width="10.45" height="9.73" fill="#03ada5"/>
<rect x="154.89" y="358.53" width="10.45" height="9.73" fill="#01acb0"/>
<rect x="164.35" y="358.53" width="10.45" height="9.73" fill="#00a9d0"/>
<rect x="31.00" y="367.27" width="11.45" height="9.73" fill="#05ad9e"/>
<rect x="41.45" y="367.27" width="10.45" height="9.73" fill="#00aac2"/>
<rect x="50.91" y="367.27" width="19.91" height="9.73" fill="#00a9d7"/>
<rect x="69.81" y="367.27" width="10.45" height="9.73" fill="#00abbb"/>
<rect x="79.27" y="367.27" width="10.45" height="9.73" fill="#0aae8c"/>
<rect x="88.72" y="367.27" width="10.45" height="9.73" fill="#56b776"/>
<rect x="98.17" y="367.27" width="10.45" height="9.73" fill="#0fae84"/>
<rect x="107.63" y="367.27" width="10.45" height="9.73" fill="#11ad81"/>
<rect x="117.08" y="367.27" width="10.45" height="9.73" fill="#62b974"/>
<rect x="126.53" y="367.27" width="10.45" height="9.73" fill="#0fae84"/>
<rect x="135.99" y="367.27" width="10.45" height="9.73" fill="#09ad90"/>
<rect x="145.44" y="367.27" width="10.45" height="9.73" fill="#07ad96"/>
<rect x="154.89" y="367.27" width="10.45" height="9.73" fill="#03ada5"/>
<rect x="164.35" y="367.27" width="10.45" height="9.73" fill="#00abbb"/>
<rect x="31.00" y="376.00" width="11.45" height="9.73" fill="#01acb0"/>
<rect x="41.45" y="376.00" width="10.45" height="9.73" fill="#00a9de"/>
<rect x="50.91" y="376.00" width="10.45" height="9.73" fill="#2e8cc9"/>
<rect x="60.36" y="376.00" width="10.45" height="9.73" fill="#2990cc"/>
<rect x="69.81" y="376.00" width="10.45" height="9.73" fill="#00a9d7"/>
<rect x="79.27" y="376.00" width="10.45" height="9.73" fill="#09ad90"/>
<rect x="88.72" y="376.00" width="10.45" height="9.73" fill="#70ba68"/>
<rect x="98.17" y="376.00" width="10.45" height="9.73" fill="#69b96e"/>
<rect x="107.63" y="376.00" width="10.45" height="9.73" fill="#8aba55"/>
<rect x="117.08" y="376.00" width="10.45" height="9.73" fill="#bebb3c"/>
<rect x="126.53" y="376.00" width="10.45" height="9.73" fill="#3db27b"/>
<rect x="135.99" y="376.00" width="10.45" height="9.73" fill="#0aae8c"/>
<rect x="145.44" y="376.00" width="10.45" height="9.73" fill="#07ad96"/>
<rect x="154.89" y="376.00" width="10.45" height="9.73" fill="#01acb0"/>
<rect x="164.35" y="376.00" width="10.45" height="9.73" fill="#00abbb"/>
<rect x="31.00" y="384.73" width="11.45" height="9.73" fill="#2e8cc9"/>
<rect x="41.45" y="384.73" width="10.45" height="9.73" fill="#3a82c2"/>
<rect x="50.91" y="384.73" width="10.45" height="9.73" fill="#3c7fc0"/>
<rect x="60.36" y="384.73" width="10.45" height="9.73" fill="#3784c4"/>
<rect x="69.81" y="384.73" width="10.45" height="9.73" fill="#1e97d2"/>
<rect x="79.27" y="384.73" width="10.45" height="9.73" fill="#00aac2"/>
<rect x="88.72" y="384.73" width="10.45" height="9.73" fill="#0dae88"/>
<rect x="98.17" y="384.73" width="10.45" height="9.73" fill="#62b974"/>
<rect x="107.63" y="384.73" width="10.45" height="9.73" fill="#c9bb38"/>
<rect x="117.08" y="384.73" width="10.45" height="9.73" fill="#ddba33"/>
<rect x="126.53" y="384.73" width="10.45" height="9.73" fill="#3db27b"/>
<rect x="135.99" y="384.73" width="10.45" height="9.73" fill="#09ad90"/>
<rect x="145.44" y="384.73" width="10.45" height="9.73" fill="#02acaa"/>
<rect x="154.89" y="384.73" width="10.45" height="9.73" fill="#00aac2"/>
<rect x="164.35" y="384.73" width="10.45" height="9.73" fill="#00abbb"/>
<rect x="31.00" y="393.47" width="11.45" height="9.73" fill="#3f73b8"/>
<rect x="41.45" y="393.47" width="10.45" height="9.73" fill="#3c7fc0"/>
<rect x="50.91" y="393.47" width="10.45" height="9.73" fill="#2393cf"/>
<rect x="60.36" y="393.47" width="10.45" height="9.73" fill="#00a9d7"/>
<rect x="69.81" y="393.47" width="10.45" height="9.73" fill="#00a9c9"/>
<rect x="79.27" y="393.47" width="10.45" height="9.73" fill="#00a9de"/>
<rect x="88.72" y="393.47" width="10.45" height="9.73" fill="#00a9c9"/>
<rect x="98.17" y="393.47" width="10.45" height="9.73" fill="#0aae8c"/>
<rect x="107.63" y="393.47" width="10.45" height="9.73" fill="#56b776"/>
<rect x="117.08" y="393.47" width="10.45" height="9.73" fill="#69b96e"/>
<rect x="126.53" y="393.47" width="10.45" height="9.73" fill="#0dae88"/>
<rect x="135.99" y="393.47" width="10.45" height="9.73" fill="#07ad96"/>
<rect x="145.44" y="393.47" width="10.45" height="9.73" fill="#02acaa"/>
<rect x="154.89" y="393.47" width="10.45" height="9.73" fill="#00abbb"/>
<rect x="164.35" y="393.47" width="10.45" height="9.73" fill="#00abb5"/>
<rect x="31.00" y="402.20" width="11.45" height="9.73" fill="#3f77bb"/>
<rect x="41.45" y="402.20" width="10.45" height="9.73" fill="#3d7dbf"/>
<rect x="50.91" y="402.20" width="10.45" height="9.73" fill="#0ca2d9"/>
<rect x="60.36" y="402.20" width="10.45" height="9.73" fill="#03ada5"/>
<rect x="69.81" y="402.20" width="10.45" height="9.73" fill="#0aae8c"/>
<rect x="79.27" y="402.20" width="10.45" height="9.73" fill="#07ad96"/>
<rect x="88.72" y="402.20" width="10.45" height="9.73" fill="#00aac2"/>
<rect x="98.17" y="402.20" width="10.45" height="9.73" fill="#02acaa"/>
<rect x="107.63" y="402.20" width="19.91" height="9.73" fill="#09ad90"/>
<rect x="126.53" y="402.20" width="10.45" height="9.73" fill="#05ad9e"/>
<rect x="135.99" y="402.20" width="10.45" height="9.73" fill="#03ada5"/>
<rect x="145.44" y="402.20" width="10.45" height="9.73" fill="#02acaa"/>
<rect x="154.89" y="402.20" width="10.45" height="9.73" fill="#01acb0"/>
<rect x="164.35" y="402.20" width="10.45" height="9.73" fill="#02acaa"/>
<rect x="31.00" y="410.93" width="11.45" height="9.73" fill="#3f7abd"/>
<rect x="41.45" y="410.93" width="10.45" height="9.73" fill="#3d7dbf"/>
<rect x="50.91" y="410.93" width="10.45" height="9.73" fill="#0ca2d9"/>
<rect x="60.36" y="410.93" width="10.45" height="9.73" fill="#05ad9e"/>
<rect x="69.81" y="410.93" width="10.45" height="9.73" fill="#0dae88"/>
<rect x="79.27" y="410.93" width="10.45" height="9.73" fill="#0aae8c"/>
<rect x="88.72" y="410.93" width="10.45" height="9.73" fill="#07ad96"/>
<rect x="98.17" y="410.93" width="10.45" height="9.73" fill="#03ada5"/>
<rect x="107.63" y="410.93" width="10.45" height="9.73" fill="#02acaa"/>
<rect x="117.08" y="410.93" width="38.81" height="9.73" fill="#03ada5"/>
<rect x="154.89" y="410.93" width="10.45" height="9.73" fill="#02acaa"/>
<rect x="164.35" y="410.93" width="10.45" height="9.73" fill="#03ada5"/>
<rect x="31.00" y="419.67" width="11.45" height="9.73" fill="#3a82c2"/>
<rect x="41.45" y="419.67" width="10.45" height="9.73" fill="#3d7dbf"/>
<rect x="50.91" y="419.67" width="10.45" height="9.73" fill="#2393cf"/>
<rect x="60.36" y="419.67" width="10.45" height="9.73" fill="#00abbb"/>
<rect x="69.81" y="419.67" width="19.91" height="9.73" fill="#03ada5"/>
<rect x="88.72" y="419.67" width="10.45" height="9.73" fill="#02acaa"/>
<rect x="98.17" y="419.67" width="10.45" height="9.73" fill="#00abb5"/>
<rect x="107.63" y="419.67" width="10.45" height="9.73" fill="#00abbb"/>
<rect x="117.08" y="419.67" width="10.45" height="9.73" fill="#00abb5"/>
<rect x="126.53" y="419.67" width="10.45" height="9.73" fill="#02acaa"/>
<rect x="135.99" y="419.67" width="19.91" height="9.73" fill="#03ada5"/>
<rect x="154.89" y="419.67" width="10.45" height="9.73" fill="#02acaa"/>
<rect x="164.35" y="419.67" width="10.45" height="9.73" fill="#01acb0"/>
<rect x="31.00" y="428.40" width="20.91" height="9.73" fill="#2393cf"/>
<rect x="50.91" y="428.40" width="10.45" height="9.73" fill="#00a9d0"/>
<rect x="60.36" y="428.40" width="10.45" height="9.73" fill="#01acb0"/>
<rect x="69.81" y="428.40" width="10.45" height="9.73" fill="#02acaa"/>
<rect x="79.27" y="428.40" width="10.45" height="9.73" fill="#01acb0"/>
<rect x="88.72" y="428.40" width="10.45" height="9.73" fill="#00abbb"/>
<rect x="98.17" y="428.40" width="10.45" height="9.73" fill="#00a9d0"/>
<rect x="107.63" y="428.40" width="10.45" height="9.73" fill="#00a9c9"/>
<rect x="117.08" y="428.40" width="10.45" height="9.73" fill="#00abb5"/>
<rect x="126.53" y="428.40" width="10.45" height="9.73" fill="#03ada5"/>
<rect x="135.99" y="428.40" width="19.91" height="9.73" fill="#05ad9e"/>
<rect x="154.89" y="428.40" width="10.45" height="9.73" fill="#00abb5"/>
<rect x="164.35" y="428.40" width="10.45" height="9.73" fill="#00a9c9"/>
<rect x="31.00" y="437.13" width="11.45" height="9.73" fill="#2990cc"/>
<rect x="41.45" y="437.13" width="10.45" height="9.73" fill="#00a9de"/>
<rect x="50.91" y="437.13" width="10.45" height="9.73" fill="#07ad96"/>
<rect x="60.36" y="437.13" width="10.45" height="9.73" fill="#09ad90"/>
<rect x="69.81" y="437.13" width="10.45" height="9.73" fill="#03ada5"/>
<rect x="79.27" y="437.13" width="10.45" height="9.73" fill="#01acb0"/>
<rect x="88.72" y="437.13" width="10.45" height="9.73" fill="#00aac2"/>
<rect x="98.17" y="437.13" width="10.45" height="9.73" fill="#3487c6"/>
<rect x="107.63" y="437.13" width="10.45" height="9.73" fill="#0ca2d9"/>
<rect x="117.08" y="437.13" width="10.45" height="9.73" fill="#01acb0"/>
<rect x="126.53" y="437.13" width="38.81" height="9.73" fill="#07ad96"/>
<rect x="164.35" y="437.13" width="10.45" height="9.73" fill="#03ada5"/>
<rect x="31.00" y="445.87" width="11.45" height="9.73" fill="#3784c4"/>
<rect x="41.45" y="445.87" width="10.45" height="9.73" fill="#189bd5"/>
<rect x="50.91" y="445.87" width="10.45" height="9.73" fill="#02acaa"/>
<rect x="60.36" y="445.87" width="10.45" height="9.73" fill="#03ada5"/>
<rect x="69.81" y="445.87" width="10.45" height="9.73" fill="#01acb0"/>
<rect x="79.27" y="445.87" width="10.45" height="9.73" fill="#00abbb"/>
<rect x="88.72" y="445.87" width="10.45" height="9.73" fill="#00a9d7"/>
<rect x="98.17" y="445.87" width="10.45" height="9.73" fill="#3a82c2"/>
<rect x="107.63" y="445.87" width="10.45" height="9.73" fill="#00a9d7"/>
<rect x="117.08" y="445.87" width="10.45" height="9.73" fill="#07ad96"/>
<rect x="126.53" y="445.87" width="29.36" height="9.73" fill="#09ad90"/>
<rect x="154.89" y="445.87" width="10.45" height="9.73" fill="#0aae8c"/>
<rect x="164.35" y="445.87" width="10.45" height="9.73" fill="#07ad96"/>
<rect x="31.00" y="454.60" width="11.45" height="9.73" fill="#00a9d7"/>
<rect x="41.45" y="454.60" width="10.45" height="9.73" fill="#2e8cc9"/>
<rect x="50.91" y="454.60" width="10.45" height="9.73" fill="#00a9d7"/>
<rect x="60.36" y="454.60" width="10.45" height="9.73" fill="#00abbb"/>
<rect x="69.81" y="454.60" width="10.45" height="9.73" fill="#00abb5"/>
<rect x="79.27" y="454.60" width="10.45" height="9.73" fill="#00abbb"/>
<rect x="88.72" y="454.60" width="10.45" height="9.73" fill="#00a9c9"/>
<rect x="98.17" y="454.60" width="10.45" height="9.73" fill="#00a9d7"/>
<rect x="107.63" y="454.60" width="10.45" height="9.73" fill="#03ada5"/>
<rect x="117.08" y="454.60" width="10.45" height="9.73" fill="#09ad90"/>
<rect x="126.53" y="454.60" width="19.91" height="9.73" fill="#0aae8c"/>
<rect x="145.44" y="454.60" width="10.45" height="9.73" fill="#09ad90"/>
<rect x="154.89" y="454.60" width="10.45" height="9.73" fill="#07ad96"/>
<rect x="164.35" y="454.60" width="10.45" height="9.73" fill="#02acaa"/>
<rect x="31.00" y="463.33" width="11.45" height="9.73" fill="#0dae88"/>
<rect x="41.45" y="463.33" width="10.45" height="9.73" fill="#07ad96"/>
<rect x="50.91" y="463.33" width="19.91" height="9.73" fill="#11ad81"/>
<rect x="69.81" y="463.33" width="10.45" height="9.73" fill="#09ad90"/>
<rect x="79.27" y="463.33" width="10.45" height="9.73" fill="#03ada5"/>
<rect x="88.72" y="463.33" width="10.45" height="9.73" fill="#01acb0"/>
<rect x="98.17" y="463.33" width="10.45" height="9.73" fill="#00abb5"/>
<rect x="107.63" y="463.33" width="10.45" height="9.73" fill="#02acaa"/>
<rect x="117.08" y="463.33" width="10.45" height="9.73" fill="#07ad96"/>
<rect x="126.53" y="463.33" width="19.91" height="9.73" fill="#09ad90"/>
<rect x="145.44" y="463.33" width="10.45" height="9.73" fill="#07ad96"/>
<rect x="154.89" y="463.33" width="10.45" height="9.73" fill="#03ada5"/>
<rect x="164.35" y="463.33" width="10.45" height="9.73" fill="#01acb0"/>
<rect x="31.00" y="472.07" width="11.45" height="9.73" fill="#70ba68"/>
<rect x="41.45" y="472.07" width="10.45" height="9.73" fill="#62b974"/>
<rect x="50.91" y="472.07" width="10.45" height="9.73" fill="#f8b03c"/>
<rect x="60.36" y="472.07" width="10.45" height="9.73" fill="#f9c037"/>
<rect x="69.81" y="472.07" width="10.45" height="9.73" fill="#56b776"/>
<rect x="79.27" y="472.07" width="10.45" height="9.73" fill="#07ad96"/>
<rect x="88.72" y="472.07" width="10.45" height="9.73" fill="#00abbb"/>
<rect x="98.17" y="472.07" width="19.91" height="9.73" fill="#00a9d0"/>
<rect x="117.08" y="472.07" width="10.45" height="9.73" fill="#00abbb"/>
<rect x="126.53" y="472.07" width="10.45" height="9.73" fill="#02acaa"/>
<rect x="135.99" y="472.07" width="19.91" height="9.73" fill="#03ada5"/>
<rect x="154.89" y="472.07" width="10.45" height="9.73" fill="#02acaa"/>
<rect x="164.35" y="472.07" width="10.45" height="9.73" fill="#01acb0"/>
</g>
<rect x="183.00" y="349.80" width="16.10" height="131.00" fill="url(#cb)"/>
<path d="M183.40 349.80V480.80" stroke="#151515" stroke-width="1"/>
<path d="M198.80 349.80V480.80" stroke="#2a2a2a" stroke-width="0.7"/>
<path d="M183.00 350.05H199.10" stroke="#2a2a2a" stroke-width="0.5"/>
<path d="M183.00 480.50H199.10" stroke="#2a2a2a" stroke-width="0.6"/>
<clipPath id="p21"><rect x="262.00" y="349.80" width="141.80" height="131.00"/></clipPath><g clip-path="url(#p21)">
<rect x="261.00" y="348.80" width="11.45" height="10.73" fill="#2393cf"/>
<rect x="271.45" y="348.80" width="10.45" height="10.73" fill="#3a82c2"/>
<rect x="280.91" y="348.80" width="10.45" height="10.73" fill="#3e6db4"/>
<rect x="290.36" y="348.80" width="10.45" height="10.73" fill="#3a5eaa"/>
<rect x="299.81" y="348.80" width="10.45" height="10.73" fill="#334b9d"/>
<rect x="309.27" y="348.80" width="10.45" height="10.73" fill="#3958a6"/>
<rect x="318.72" y="348.80" width="10.45" height="10.73" fill="#3f77bb"/>
<rect x="328.17" y="348.80" width="19.91" height="10.73" fill="#3d7dbf"/>
<rect x="347.08" y="348.80" width="10.45" height="10.73" fill="#3c7fc0"/>
<rect x="356.53" y="348.80" width="10.45" height="10.73" fill="#2990cc"/>
<rect x="365.99" y="348.80" width="10.45" height="10.73" fill="#3487c6"/>
<rect x="375.44" y="348.80" width="10.45" height="10.73" fill="#3a82c2"/>
<rect x="384.89" y="348.80" width="10.45" height="10.73" fill="#3f77bb"/>
<rect x="394.35" y="348.80" width="10.45" height="10.73" fill="#3c7fc0"/>
<rect x="261.00" y="358.53" width="11.45" height="9.73" fill="#3e6ab2"/>
<rect x="271.45" y="358.53" width="10.45" height="9.73" fill="#3d66af"/>
<rect x="280.91" y="358.53" width="10.45" height="9.73" fill="#3c63ad"/>
<rect x="290.36" y="358.53" width="10.45" height="9.73" fill="#3958a6"/>
<rect x="299.81" y="358.53" width="10.45" height="9.73" fill="#3752a2"/>
<rect x="309.27" y="358.53" width="10.45" height="9.73" fill="#3c63ad"/>
<rect x="318.72" y="358.53" width="10.45" height="9.73" fill="#3f77bb"/>
<rect x="328.17" y="358.53" width="10.45" height="9.73" fill="#3d7dbf"/>
<rect x="337.63" y="358.53" width="10.45" height="9.73" fill="#3f77bb"/>
<rect x="347.08" y="358.53" width="10.45" height="9.73" fill="#3c7fc0"/>
<rect x="356.53" y="358.53" width="10.45" height="9.73" fill="#00a9d0"/>
<rect x="365.99" y="358.53" width="10.45" height="9.73" fill="#00abbb"/>
<rect x="375.44" y="358.53" width="10.45" height="9.73" fill="#00a9d7"/>
<rect x="384.89" y="358.53" width="10.45" height="9.73" fill="#2e8cc9"/>
<rect x="394.35" y="358.53" width="10.45" height="9.73" fill="#318ac7"/>
<rect x="261.00" y="367.27" width="11.45" height="9.73" fill="#3c63ad"/>
<rect x="271.45" y="367.27" width="10.45" height="9.73" fill="#3f70b6"/>
<rect x="280.91" y="367.27" width="10.45" height="9.73" fill="#3e6db4"/>
<rect x="290.36" y="367.27" width="10.45" height="9.73" fill="#3b60ab"/>
<rect x="299.81" y="367.27" width="10.45" height="9.73" fill="#3a5eaa"/>
<rect x="309.27" y="367.27" width="10.45" height="9.73" fill="#3e6ab2"/>
<rect x="318.72" y="367.27" width="19.91" height="9.73" fill="#3a82c2"/>
<rect x="337.63" y="367.27" width="10.45" height="9.73" fill="#3f77bb"/>
<rect x="347.08" y="367.27" width="10.45" height="9.73" fill="#3a82c2"/>
<rect x="356.53" y="367.27" width="10.45" height="9.73" fill="#03ada5"/>
<rect x="365.99" y="367.27" width="10.45" height="9.73" fill="#09ad90"/>
<rect x="375.44" y="367.27" width="10.45" height="9.73" fill="#07ad96"/>
<rect x="384.89" y="367.27" width="10.45" height="9.73" fill="#00abbb"/>
<rect x="394.35" y="367.27" width="10.45" height="9.73" fill="#00a9de"/>
<rect x="261.00" y="376.00" width="11.45" height="9.73" fill="#3f7abd"/>
<rect x="271.45" y="376.00" width="19.91" height="9.73" fill="#3a82c2"/>
<rect x="290.36" y="376.00" width="10.45" height="9.73" fill="#3f77bb"/>
<rect x="299.81" y="376.00" width="10.45" height="9.73" fill="#3e6db4"/>
<rect x="309.27" y="376.00" width="10.45" height="9.73" fill="#3f77bb"/>
<rect x="318.72" y="376.00" width="19.91" height="9.73" fill="#3a82c2"/>
<rect x="337.63" y="376.00" width="10.45" height="9.73" fill="#3c7fc0"/>
<rect x="347.08" y="376.00" width="10.45" height="9.73" fill="#00a9de"/>
<rect x="356.53" y="376.00" width="10.45" height="9.73" fill="#05ad9e"/>
<rect x="365.99" y="376.00" width="10.45" height="9.73" fill="#07ad96"/>
<rect x="375.44" y="376.00" width="10.45" height="9.73" fill="#05ad9e"/>
<rect x="384.89" y="376.00" width="10.45" height="9.73" fill="#00abb5"/>
<rect x="394.35" y="376.00" width="10.45" height="9.73" fill="#00a9d7"/>
<rect x="261.00" y="384.73" width="11.45" height="9.73" fill="#2393cf"/>
<rect x="271.45" y="384.73" width="10.45" height="9.73" fill="#3784c4"/>
<rect x="280.91" y="384.73" width="10.45" height="9.73" fill="#3a82c2"/>
<rect x="290.36" y="384.73" width="19.91" height="9.73" fill="#3c7fc0"/>
<rect x="309.27" y="384.73" width="10.45" height="9.73" fill="#3a82c2"/>
<rect x="318.72" y="384.73" width="10.45" height="9.73" fill="#3784c4"/>
<rect x="328.17" y="384.73" width="10.45" height="9.73" fill="#3c7fc0"/>
<rect x="337.63" y="384.73" width="10.45" height="9.73" fill="#2990cc"/>
<rect x="347.08" y="384.73" width="10.45" height="9.73" fill="#01acb0"/>
<rect x="356.53" y="384.73" width="10.45" height="9.73" fill="#00aac2"/>
<rect x="365.99" y="384.73" width="10.45" height="9.73" fill="#00a9d0"/>
<rect x="375.44" y="384.73" width="10.45" height="9.73" fill="#00a9c9"/>
<rect x="384.89" y="384.73" width="10.45" height="9.73" fill="#00a9d0"/>
<rect x="394.35" y="384.73" width="10.45" height="9.73" fill="#00a9de"/>
<rect x="261.00" y="393.47" width="11.45" height="9.73" fill="#00a9d7"/>
<rect x="271.45" y="393.47" width="10.45" height="9.73" fill="#1e97d2"/>
<rect x="280.91" y="393.47" width="10.45" height="9.73" fill="#3487c6"/>
<rect x="290.36" y="393.47" width="10.45" height="9.73" fill="#3784c4"/>
<rect x="299.81" y="393.47" width="10.45" height="9.73" fill="#2e8cc9"/>
<rect x="309.27" y="393.47" width="19.91" height="9.73" fill="#189bd5"/>
<rect x="328.17" y="393.47" width="10.45" height="9.73" fill="#0ca2d9"/>
<rect x="337.63" y="393.47" width="10.45" height="9.73" fill="#00abb5"/>
<rect x="347.08" y="393.47" width="10.45" height="9.73" fill="#02acaa"/>
<rect x="356.53" y="393.47" width="10.45" height="9.73" fill="#00a9d7"/>
<rect x="365.99" y="393.47" width="10.45" height="9.73" fill="#2e8cc9"/>
<rect x="375.44" y="393.47" width="19.91" height="9.73" fill="#318ac7"/>
<rect x="394.35" y="393.47" width="10.45" height="9.73" fill="#2990cc"/>
<rect x="261.00" y="402.20" width="11.45" height="9.73" fill="#00a9d7"/>
<rect x="271.45" y="402.20" width="10.45" height="9.73" fill="#00a9de"/>
<rect x="280.91" y="402.20" width="19.91" height="9.73" fill="#1e97d2"/>
<rect x="299.81" y="402.20" width="10.45" height="9.73" fill="#00a9de"/>
<rect x="309.27" y="402.20" width="10.45" height="9.73" fill="#00a9d0"/>
<rect x="318.72" y="402.20" width="10.45" height="9.73" fill="#00aac2"/>
<rect x="328.17" y="402.20" width="10.45" height="9.73" fill="#03ada5"/>
<rect x="337.63" y="402.20" width="10.45" height="9.73" fill="#07ad96"/>
<rect x="347.08" y="402.20" width="10.45" height="9.73" fill="#02acaa"/>
<rect x="356.53" y="402.20" width="10.45" height="9.73" fill="#00a9d7"/>
<rect x="365.99" y="402.20" width="10.45" height="9.73" fill="#2e8cc9"/>
<rect x="375.44" y="402.20" width="10.45" height="9.73" fill="#3487c6"/>
<rect x="384.89" y="402.20" width="10.45" height="9.73" fill="#318ac7"/>
<rect x="394.35" y="402.20" width="10.45" height="9.73" fill="#1e97d2"/>
<rect x="261.00" y="410.93" width="11.45" height="9.73" fill="#00a9de"/>
<rect x="271.45" y="410.93" width="19.91" height="9.73" fill="#0ca2d9"/>
<rect x="290.36" y="410.93" width="19.91" height="9.73" fill="#00a9d7"/>
<rect x="309.27" y="410.93" width="10.45" height="9.73" fill="#00abbb"/>
<rect x="318.72" y="410.93" width="10.45" height="9.73" fill="#03ada5"/>
<rect x="328.17" y="410.93" width="10.45" height="9.73" fill="#09ad90"/>
<rect x="337.63" y="410.93" width="10.45" height="9.73" fill="#07ad96"/>
<rect x="347.08" y="410.93" width="10.45" height="9.73" fill="#01acb0"/>
<rect x="356.53" y="410.93" width="10.45" height="9.73" fill="#00a9d7"/>
<rect x="365.99" y="410.93" width="10.45" height="9.73" fill="#0ca2d9"/>
<rect x="375.44" y="410.93" width="19.91" height="9.73" fill="#00a9de"/>
<rect x="394.35" y="410.93" width="10.45" height="9.73" fill="#189bd5"/>
<rect x="261.00" y="419.67" width="20.91" height="9.73" fill="#0ca2d9"/>
<rect x="280.91" y="419.67" width="10.45" height="9.73" fill="#189bd5"/>
<rect x="290.36" y="419.67" width="10.45" height="9.73" fill="#2393cf"/>
<rect x="299.81" y="419.67" width="10.45" height="9.73" fill="#189bd5"/>
<rect x="309.27" y="419.67" width="10.45" height="9.73" fill="#00aac2"/>
<rect x="318.72" y="419.67" width="10.45" height="9.73" fill="#03ada5"/>
<rect x="328.17" y="419.67" width="10.45" height="9.73" fill="#05ad9e"/>
<rect x="337.63" y="419.67" width="10.45" height="9.73" fill="#03ada5"/>
<rect x="347.08" y="419.67" width="10.45" height="9.73" fill="#00abb5"/>
<rect x="356.53" y="419.67" width="10.45" height="9.73" fill="#00a9d7"/>
<rect x="365.99" y="419.67" width="10.45" height="9.73" fill="#00a9de"/>
<rect x="375.44" y="419.67" width="10.45" height="9.73" fill="#00a9d7"/>
<rect x="384.89" y="419.67" width="10.45" height="9.73" fill="#00a9de"/>
<rect x="394.35" y="419.67" width="10.45" height="9.73" fill="#189bd5"/>
<rect x="261.00" y="428.40" width="11.45" height="9.73" fill="#0ca2d9"/>
<rect x="271.45" y="428.40" width="10.45" height="9.73" fill="#00a9de"/>
<rect x="280.91" y="428.40" width="10.45" height="9.73" fill="#00a9d7"/>
<rect x="290.36" y="428.40" width="10.45" height="9.73" fill="#189bd5"/>
<rect x="299.81" y="428.40" width="10.45" height="9.73" fill="#2e8cc9"/>
<rect x="309.27" y="428.40" width="10.45" height="9.73" fill="#00a9de"/>
<rect x="318.72" y="428.40" width="19.91" height="9.73" fill="#02acaa"/>
<rect x="337.63" y="428.40" width="10.45" height="9.73" fill="#00abb5"/>
<rect x="347.08" y="428.40" width="10.45" height="9.73" fill="#00aac2"/>
<rect x="356.53" y="428.40" width="10.45" height="9.73" fill="#00a9de"/>
<rect x="365.99" y="428.40" width="29.36" height="9.73" fill="#189bd5"/>
<rect x="394.35" y="428.40" width="10.45" height="9.73" fill="#2393cf"/>
<rect x="261.00" y="437.13" width="11.45" height="9.73" fill="#00a9c9"/>
<rect x="271.45" y="437.13" width="10.45" height="9.73" fill="#00aac2"/>
<rect x="280.91" y="437.13" width="19.91" height="9.73" fill="#00abbb"/>
<rect x="299.81" y="437.13" width="19.91" height="9.73" fill="#00a9d0"/>
<rect x="318.72" y="437.13" width="19.91" height="9.73" fill="#01acb0"/>
<rect x="337.63" y="437.13" width="10.45" height="9.73" fill="#00aac2"/>
<rect x="347.08" y="437.13" width="10.45" height="9.73" fill="#00a9d0"/>
<rect x="356.53" y="437.13" width="10.45" height="9.73" fill="#2393cf"/>
<rect x="365.99" y="437.13" width="29.36" height="9.73" fill="#2e8cc9"/>
<rect x="394.35" y="437.13" width="10.45" height="9.73" fill="#2990cc"/>
<rect x="261.00" y="445.87" width="11.45" height="9.73" fill="#02acaa"/>
<rect x="271.45" y="445.87" width="19.91" height="9.73" fill="#01acb0"/>
<rect x="290.36" y="445.87" width="38.81" height="9.73" fill="#03ada5"/>
<rect x="328.17" y="445.87" width="10.45" height="9.73" fill="#01acb0"/>
<rect x="337.63" y="445.87" width="10.45" height="9.73" fill="#00a9c9"/>
<rect x="347.08" y="445.87" width="10.45" height="9.73" fill="#00a9d7"/>
<rect x="356.53" y="445.87" width="10.45" height="9.73" fill="#1e97d2"/>
<rect x="365.99" y="445.87" width="29.36" height="9.73" fill="#2e8cc9"/>
<rect x="394.35" y="445.87" width="10.45" height="9.73" fill="#2990cc"/>
<rect x="261.00" y="454.60" width="11.45" height="9.73" fill="#3487c6"/>
<rect x="271.45" y="454.60" width="10.45" height="9.73" fill="#2990cc"/>
<rect x="280.91" y="454.60" width="10.45" height="9.73" fill="#00a9d7"/>
<rect x="290.36" y="454.60" width="10.45" height="9.73" fill="#02acaa"/>
<rect x="299.81" y="454.60" width="10.45" height="9.73" fill="#07ad96"/>
<rect x="309.27" y="454.60" width="19.91" height="9.73" fill="#09ad90"/>
<rect x="328.17" y="454.60" width="10.45" height="9.73" fill="#02acaa"/>
<rect x="337.63" y="454.60" width="10.45" height="9.73" fill="#00a9c9"/>
<rect x="347.08" y="454.60" width="10.45" height="9.73" fill="#00a9d0"/>
<rect x="356.53" y="454.60" width="38.81" height="9.73" fill="#00a9d7"/>
<rect x="394.35" y="454.60" width="10.45" height="9.73" fill="#00a9de"/>
<rect x="261.00" y="463.33" width="11.45" height="9.73" fill="#3a5eaa"/>
<rect x="271.45" y="463.33" width="10.45" height="9.73" fill="#3f7abd"/>
<rect x="280.91" y="463.33" width="10.45" height="9.73" fill="#189bd5"/>
<rect x="290.36" y="463.33" width="10.45" height="9.73" fill="#03ada5"/>
<rect x="299.81" y="463.33" width="10.45" height="9.73" fill="#07ad96"/>
<rect x="309.27" y="463.33" width="10.45" height="9.73" fill="#09ad90"/>
<rect x="318.72" y="463.33" width="10.45" height="9.73" fill="#07ad96"/>
<rect x="328.17" y="463.33" width="10.45" height="9.73" fill="#00abb5"/>
<rect x="337.63" y="463.33" width="10.45" height="9.73" fill="#00a9d0"/>
<rect x="347.08" y="463.33" width="10.45" height="9.73" fill="#00aac2"/>
<rect x="356.53" y="463.33" width="10.45" height="9.73" fill="#03ada5"/>
<rect x="365.99" y="463.33" width="19.91" height="9.73" fill="#05ad9e"/>
<rect x="384.89" y="463.33" width="10.45" height="9.73" fill="#03ada5"/>
<rect x="394.35" y="463.33" width="10.45" height="9.73" fill="#02acaa"/>
<rect x="261.00" y="472.07" width="11.45" height="9.73" fill="#323898"/>
<rect x="271.45" y="472.07" width="10.45" height="9.73" fill="#3d66af"/>
<rect x="280.91" y="472.07" width="10.45" height="9.73" fill="#00a9d0"/>
<rect x="290.36" y="472.07" width="10.45" height="9.73" fill="#0dae88"/>
<rect x="299.81" y="472.07" width="10.45" height="9.73" fill="#09ad90"/>
<rect x="309.27" y="472.07" width="10.45" height="9.73" fill="#07ad96"/>
<rect x="318.72" y="472.07" width="10.45" height="9.73" fill="#03ada5"/>
<rect x="328.17" y="472.07" width="10.45" height="9.73" fill="#00abbb"/>
<rect x="337.63" y="472.07" width="10.45" height="9.73" fill="#00a9d7"/>
<rect x="347.08" y="472.07" width="10.45" height="9.73" fill="#00abbb"/>
<rect x="356.53" y="472.07" width="10.45" height="9.73" fill="#07ad96"/>
<rect x="365.99" y="472.07" width="19.91" height="9.73" fill="#09ad90"/>
<rect x="384.89" y="472.07" width="10.45" height="9.73" fill="#07ad96"/>
<rect x="394.35" y="472.07" width="10.45" height="9.73" fill="#05ad9e"/>
</g>
<rect x="413.00" y="349.80" width="16.10" height="131.00" fill="url(#cb)"/>
<path d="M413.40 349.80V480.80" stroke="#151515" stroke-width="1"/>
<path d="M428.80 349.80V480.80" stroke="#2a2a2a" stroke-width="0.7"/>
<path d="M413.00 350.05H429.10" stroke="#2a2a2a" stroke-width="0.5"/>
<path d="M413.00 480.50H429.10" stroke="#2a2a2a" stroke-width="0.6"/>
<clipPath id="p22"><rect x="492.00" y="349.80" width="141.80" height="131.00"/></clipPath><g clip-path="url(#p22)">
<rect x="491.00" y="348.80" width="11.45" height="10.73" fill="#d1bb36"/>
<rect x="501.45" y="348.80" width="10.45" height="10.73" fill="#00a9de"/>
<rect x="510.91" y="348.80" width="10.45" height="10.73" fill="#3a5eaa"/>
<rect x="520.36" y="348.80" width="10.45" height="10.73" fill="#3a5ba8"/>
<rect x="529.81" y="348.80" width="10.45" height="10.73" fill="#3a5eaa"/>
<rect x="539.27" y="348.80" width="10.45" height="10.73" fill="#3958a6"/>
<rect x="548.72" y="348.80" width="10.45" height="10.73" fill="#3a82c2"/>
<rect x="558.17" y="348.80" width="10.45" height="10.73" fill="#1e97d2"/>
<rect x="567.63" y="348.80" width="10.45" height="10.73" fill="#189bd5"/>
<rect x="577.08" y="348.80" width="10.45" height="10.73" fill="#3784c4"/>
<rect x="586.53" y="348.80" width="10.45" height="10.73" fill="#00abbb"/>
<rect x="595.99" y="348.80" width="10.45" height="10.73" fill="#f8b03c"/>
<rect x="605.44" y="348.80" width="10.45" height="10.73" fill="#e8e536"/>
<rect x="614.89" y="348.80" width="10.45" height="10.73" fill="#94bb4f"/>
<rect x="624.35" y="348.80" width="10.45" height="10.73" fill="#01acb0"/>
<rect x="491.00" y="358.53" width="11.45" height="9.73" fill="#00aac2"/>
<rect x="501.45" y="358.53" width="10.45" height="9.73" fill="#00a9d0"/>
<rect x="510.91" y="358.53" width="10.45" height="9.73" fill="#2393cf"/>
<rect x="520.36" y="358.53" width="10.45" height="9.73" fill="#3a82c2"/>
<rect x="529.81" y="358.53" width="10.45" height="9.73" fill="#3f73b8"/>
<rect x="539.27" y="358.53" width="10.45" height="9.73" fill="#3c63ad"/>
<rect x="548.72" y="358.53" width="10.45" height="9.73" fill="#3487c6"/>
<rect x="558.17" y="358.53" width="19.91" height="9.73" fill="#00aac2"/>
<rect x="577.08" y="358.53" width="10.45" height="9.73" fill="#2393cf"/>
<rect x="586.53" y="358.53" width="10.45" height="9.73" fill="#00a9c9"/>
<rect x="595.99" y="358.53" width="19.91" height="9.73" fill="#a9bb44"/>
<rect x="614.89" y="358.53" width="10.45" height="9.73" fill="#0aae8c"/>
<rect x="624.35" y="358.53" width="10.45" height="9.73" fill="#00a9d0"/>
<rect x="491.00" y="367.27" width="11.45" height="9.73" fill="#2990cc"/>
<rect x="501.45" y="367.27" width="10.45" height="9.73" fill="#01acb0"/>
<rect x="510.91" y="367.27" width="10.45" height="9.73" fill="#0dae88"/>
<rect x="520.36" y="367.27" width="10.45" height="9.73" fill="#00abb5"/>
<rect x="529.81" y="367.27" width="10.45" height="9.73" fill="#3c7fc0"/>
<rect x="539.27" y="367.27" width="10.45" height="9.73" fill="#3e6db4"/>
<rect x="548.72" y="367.27" width="10.45" height="9.73" fill="#3487c6"/>
<rect x="558.17" y="367.27" width="10.45" height="9.73" fill="#00abbb"/>
<rect x="567.63" y="367.27" width="10.45" height="9.73" fill="#01acb0"/>
<rect x="577.08" y="367.27" width="10.45" height="9.73" fill="#0ca2d9"/>
<rect x="586.53" y="367.27" width="10.45" height="9.73" fill="#3d7dbf"/>
<rect x="595.99" y="367.27" width="10.45" height="9.73" fill="#00aac2"/>
<rect x="605.44" y="367.27" width="10.45" height="9.73" fill="#00abbb"/>
<rect x="614.89" y="367.27" width="10.45" height="9.73" fill="#00a9de"/>
<rect x="624.35" y="367.27" width="10.45" height="9.73" fill="#3487c6"/>
<rect x="491.00" y="376.00" width="20.91" height="9.73" fill="#78ba61"/>
<rect x="510.91" y="376.00" width="10.45" height="9.73" fill="#9fbb49"/>
<rect x="520.36" y="376.00" width="10.45" height="9.73" fill="#11ad81"/>
<rect x="529.81" y="376.00" width="10.45" height="9.73" fill="#00a9de"/>
<rect x="539.27" y="376.00" width="10.45" height="9.73" fill="#3c7fc0"/>
<rect x="548.72" y="376.00" width="10.45" height="9.73" fill="#3784c4"/>
<rect x="558.17" y="376.00" width="10.45" height="9.73" fill="#00a9d7"/>
<rect x="567.63" y="376.00" width="10.45" height="9.73" fill="#00aac2"/>
<rect x="577.08" y="376.00" width="10.45" height="9.73" fill="#3e6db4"/>
<rect x="586.53" y="376.00" width="10.45" height="9.73" fill="#3958a6"/>
<rect x="595.99" y="376.00" width="10.45" height="9.73" fill="#3487c6"/>
<rect x="605.44" y="376.00" width="10.45" height="9.73" fill="#318ac7"/>
<rect x="614.89" y="376.00" width="10.45" height="9.73" fill="#3c7fc0"/>
<rect x="624.35" y="376.00" width="10.45" height="9.73" fill="#3e6db4"/>
<rect x="491.00" y="384.73" width="11.45" height="9.73" fill="#05ad9e"/>
<rect x="501.45" y="384.73" width="10.45" height="9.73" fill="#0dae88"/>
<rect x="510.91" y="384.73" width="10.45" height="9.73" fill="#49b479"/>
<rect x="520.36" y="384.73" width="10.45" height="9.73" fill="#0fae84"/>
<rect x="529.81" y="384.73" width="10.45" height="9.73" fill="#00abbb"/>
<rect x="539.27" y="384.73" width="10.45" height="9.73" fill="#2393cf"/>
<rect x="548.72" y="384.73" width="10.45" height="9.73" fill="#3784c4"/>
<rect x="558.17" y="384.73" width="10.45" height="9.73" fill="#2393cf"/>
<rect x="567.63" y="384.73" width="10.45" height="9.73" fill="#2990cc"/>
<rect x="577.08" y="384.73" width="10.45" height="9.73" fill="#3855a4"/>
<rect x="586.53" y="384.73" width="10.45" height="9.73" fill="#3958a6"/>
<rect x="595.99" y="384.73" width="10.45" height="9.73" fill="#3c7fc0"/>
<rect x="605.44" y="384.73" width="10.45" height="9.73" fill="#3a82c2"/>
<rect x="614.89" y="384.73" width="10.45" height="9.73" fill="#3f70b6"/>
<rect x="624.35" y="384.73" width="10.45" height="9.73" fill="#3e6ab2"/>
<rect x="491.00" y="393.47" width="11.45" height="9.73" fill="#3f73b8"/>
<rect x="501.45" y="393.47" width="10.45" height="9.73" fill="#3a82c2"/>
<rect x="510.91" y="393.47" width="10.45" height="9.73" fill="#189bd5"/>
<rect x="520.36" y="393.47" width="10.45" height="9.73" fill="#3784c4"/>
<rect x="529.81" y="393.47" width="10.45" height="9.73" fill="#3a82c2"/>
<rect x="539.27" y="393.47" width="10.45" height="9.73" fill="#00a9d7"/>
<rect x="548.72" y="393.47" width="10.45" height="9.73" fill="#0dae88"/>
<rect x="558.17" y="393.47" width="10.45" height="9.73" fill="#0aae8c"/>
<rect x="567.63" y="393.47" width="10.45" height="9.73" fill="#318ac7"/>
<rect x="577.08" y="393.47" width="10.45" height="9.73" fill="#3752a2"/>
<rect x="586.53" y="393.47" width="10.45" height="9.73" fill="#3855a4"/>
<rect x="595.99" y="393.47" width="10.45" height="9.73" fill="#3f7abd"/>
<rect x="605.44" y="393.47" width="10.45" height="9.73" fill="#3c7fc0"/>
<rect x="614.89" y="393.47" width="10.45" height="9.73" fill="#3f73b8"/>
<rect x="624.35" y="393.47" width="10.45" height="9.73" fill="#3e6ab2"/>
<rect x="491.00" y="402.20" width="11.45" height="9.73" fill="#3d66af"/>
<rect x="501.45" y="402.20" width="10.45" height="9.73" fill="#3c7fc0"/>
<rect x="510.91" y="402.20" width="10.45" height="9.73" fill="#3784c4"/>
<rect x="520.36" y="402.20" width="10.45" height="9.73" fill="#3d7dbf"/>
<rect x="529.81" y="402.20" width="10.45" height="9.73" fill="#3f77bb"/>
<rect x="539.27" y="402.20" width="10.45" height="9.73" fill="#189bd5"/>
<rect x="548.72" y="402.20" width="10.45" height="9.73" fill="#0dae88"/>
<rect x="558.17" y="402.20" width="10.45" height="9.73" fill="#09ad90"/>
<rect x="567.63" y="402.20" width="10.45" height="9.73" fill="#3487c6"/>
<rect x="577.08" y="402.20" width="10.45" height="9.73" fill="#3752a2"/>
<rect x="586.53" y="402.20" width="10.45" height="9.73" fill="#3958a6"/>
<rect x="595.99" y="402.20" width="10.45" height="9.73" fill="#3d7dbf"/>
<rect x="605.44" y="402.20" width="10.45" height="9.73" fill="#3487c6"/>
<rect x="614.89" y="402.20" width="10.45" height="9.73" fill="#3a82c2"/>
<rect x="624.35" y="402.20" width="10.45" height="9.73" fill="#3e6db4"/>
<rect x="491.00" y="410.93" width="11.45" height="9.73" fill="#3e6ab2"/>
<rect x="501.45" y="410.93" width="10.45" height="9.73" fill="#3d7dbf"/>
<rect x="510.91" y="410.93" width="10.45" height="9.73" fill="#3c7fc0"/>
<rect x="520.36" y="410.93" width="10.45" height="9.73" fill="#3a82c2"/>
<rect x="529.81" y="410.93" width="10.45" height="9.73" fill="#3c7fc0"/>
<rect x="539.27" y="410.93" width="10.45" height="9.73" fill="#318ac7"/>
<rect x="548.72" y="410.93" width="10.45" height="9.73" fill="#3a82c2"/>
<rect x="558.17" y="410.93" width="10.45" height="9.73" fill="#318ac7"/>
<rect x="567.63" y="410.93" width="10.45" height="9.73" fill="#3c7fc0"/>
<rect x="577.08" y="410.93" width="10.45" height="9.73" fill="#3d66af"/>
<rect x="586.53" y="410.93" width="10.45" height="9.73" fill="#3e6ab2"/>
<rect x="595.99" y="410.93" width="10.45" height="9.73" fill="#3c7fc0"/>
<rect x="605.44" y="410.93" width="10.45" height="9.73" fill="#1e97d2"/>
<rect x="614.89" y="410.93" width="10.45" height="9.73" fill="#3487c6"/>
<rect x="624.35" y="410.93" width="10.45" height="9.73" fill="#3f73b8"/>
<rect x="491.00" y="419.67" width="11.45" height="9.73" fill="#3e6ab2"/>
<rect x="501.45" y="419.67" width="10.45" height="9.73" fill="#3f7abd"/>
<rect x="510.91" y="419.67" width="10.45" height="9.73" fill="#3a82c2"/>
<rect x="520.36" y="419.67" width="10.45" height="9.73" fill="#3c7fc0"/>
<rect x="529.81" y="419.67" width="10.45" height="9.73" fill="#2e8cc9"/>
<rect x="539.27" y="419.67" width="10.45" height="9.73" fill="#0ca2d9"/>
<rect x="548.72" y="419.67" width="10.45" height="9.73" fill="#189bd5"/>
<rect x="558.17" y="419.67" width="10.45" height="9.73" fill="#1e97d2"/>
<rect x="567.63" y="419.67" width="10.45" height="9.73" fill="#3a82c2"/>
<rect x="577.08" y="419.67" width="19.91" height="9.73" fill="#3f73b8"/>
<rect x="595.99" y="419.67" width="10.45" height="9.73" fill="#3c7fc0"/>
<rect x="605.44" y="419.67" width="10.45" height="9.73" fill="#2e8cc9"/>
<rect x="614.89" y="419.67" width="10.45" height="9.73" fill="#3a82c2"/>
<rect x="624.35" y="419.67" width="10.45" height="9.73" fill="#3f73b8"/>
<rect x="491.00" y="428.40" width="11.45" height="9.73" fill="#3c63ad"/>
<rect x="501.45" y="428.40" width="10.45" height="9.73" fill="#3f73b8"/>
<rect x="510.91" y="428.40" width="10.45" height="9.73" fill="#3784c4"/>
<rect x="520.36" y="428.40" width="10.45" height="9.73" fill="#0ca2d9"/>
<rect x="529.81" y="428.40" width="29.36" height="9.73" fill="#00a9d7"/>
<rect x="558.17" y="428.40" width="10.45" height="9.73" fill="#00a9de"/>
<rect x="567.63" y="428.40" width="10.45" height="9.73" fill="#2e8cc9"/>
<rect x="577.08" y="428.40" width="10.45" height="9.73" fill="#3c7fc0"/>
<rect x="586.53" y="428.40" width="10.45" height="9.73" fill="#3d7dbf"/>
<rect x="595.99" y="428.40" width="10.45" height="9.73" fill="#3a82c2"/>
<rect x="605.44" y="428.40" width="10.45" height="9.73" fill="#3c7fc0"/>
<rect x="614.89" y="428.40" width="10.45" height="9.73" fill="#3d7dbf"/>
<rect x="624.35" y="428.40" width="10.45" height="9.73" fill="#3e6db4"/>
<rect x="491.00" y="437.13" width="11.45" height="9.73" fill="#364fa0"/>
<rect x="501.45" y="437.13" width="10.45" height="9.73" fill="#3d66af"/>
<rect x="510.91" y="437.13" width="10.45" height="9.73" fill="#318ac7"/>
<rect x="520.36" y="437.13" width="10.45" height="9.73" fill="#00a9c9"/>
<rect x="529.81" y="437.13" width="10.45" height="9.73" fill="#02acaa"/>
<rect x="539.27" y="437.13" width="19.91" height="9.73" fill="#03ada5"/>
<rect x="558.17" y="437.13" width="10.45" height="9.73" fill="#00a9c9"/>
<rect x="567.63" y="437.13" width="10.45" height="9.73" fill="#0ca2d9"/>
<rect x="577.08" y="437.13" width="10.45" height="9.73" fill="#3784c4"/>
<rect x="586.53" y="437.13" width="10.45" height="9.73" fill="#3c7fc0"/>
<rect x="595.99" y="437.13" width="10.45" height="9.73" fill="#3d7dbf"/>
<rect x="605.44" y="437.13" width="10.45" height="9.73" fill="#3f7abd"/>
<rect x="614.89" y="437.13" width="10.45" height="9.73" fill="#3f73b8"/>
<rect x="624.35" y="437.13" width="10.45" height="9.73" fill="#3f70b6"/>
<rect x="491.00" y="445.87" width="11.45" height="9.73" fill="#3855a4"/>
<rect x="501.45" y="445.87" width="10.45" height="9.73" fill="#3e6ab2"/>
<rect x="510.91" y="445.87" width="10.45" height="9.73" fill="#318ac7"/>
<rect x="520.36" y="445.87" width="10.45" height="9.73" fill="#00a9c9"/>
<rect x="529.81" y="445.87" width="10.45" height="9.73" fill="#03ada5"/>
<rect x="539.27" y="445.87" width="10.45" height="9.73" fill="#0aae8c"/>
<rect x="548.72" y="445.87" width="10.45" height="9.73" fill="#09ad90"/>
<rect x="558.17" y="445.87" width="10.45" height="9.73" fill="#00a9c9"/>
<rect x="567.63" y="445.87" width="10.45" height="9.73" fill="#2990cc"/>
<rect x="577.08" y="445.87" width="10.45" height="9.73" fill="#3784c4"/>
<rect x="586.53" y="445.87" width="10.45" height="9.73" fill="#3a82c2"/>
<rect x="595.99" y="445.87" width="10.45" height="9.73" fill="#3c7fc0"/>
<rect x="605.44" y="445.87" width="10.45" height="9.73" fill="#3d7dbf"/>
<rect x="614.89" y="445.87" width="10.45" height="9.73" fill="#3f7abd"/>
<rect x="624.35" y="445.87" width="10.45" height="9.73" fill="#3d7dbf"/>
<rect x="491.00" y="454.60" width="11.45" height="9.73" fill="#1e97d2"/>
<rect x="501.45" y="454.60" width="10.45" height="9.73" fill="#3a82c2"/>
<rect x="510.91" y="454.60" width="10.45" height="9.73" fill="#3784c4"/>
<rect x="520.36" y="454.60" width="10.45" height="9.73" fill="#00a9de"/>
<rect x="529.81" y="454.60" width="10.45" height="9.73" fill="#03ada5"/>
<rect x="539.27" y="454.60" width="10.45" height="9.73" fill="#0aae8c"/>
<rect x="548.72" y="454.60" width="10.45" height="9.73" fill="#09ad90"/>
<rect x="558.17" y="454.60" width="10.45" height="9.73" fill="#00a9c9"/>
<rect x="567.63" y="454.60" width="10.45" height="9.73" fill="#3a82c2"/>
<rect x="577.08" y="454.60" width="10.45" height="9.73" fill="#3f7abd"/>
<rect x="586.53" y="454.60" width="10.45" height="9.73" fill="#3c7fc0"/>
<rect x="595.99" y="454.60" width="10.45" height="9.73" fill="#3a82c2"/>
<rect x="605.44" y="454.60" width="19.91" height="9.73" fill="#3c7fc0"/>
<rect x="624.35" y="454.60" width="10.45" height="9.73" fill="#3487c6"/>
<rect x="491.00" y="463.33" width="11.45" height="9.73" fill="#00a9d0"/>
<rect x="501.45" y="463.33" width="10.45" height="9.73" fill="#00a9c9"/>
<rect x="510.91" y="463.33" width="10.45" height="9.73" fill="#03ada5"/>
<rect x="520.36" y="463.33" width="10.45" height="9.73" fill="#00abb5"/>
<rect x="529.81" y="463.33" width="10.45" height="9.73" fill="#00abbb"/>
<rect x="539.27" y="463.33" width="10.45" height="9.73" fill="#07ad96"/>
<rect x="548.72" y="463.33" width="10.45" height="9.73" fill="#03ada5"/>
<rect x="558.17" y="463.33" width="10.45" height="9.73" fill="#2990cc"/>
<rect x="567.63" y="463.33" width="10.45" height="9.73" fill="#3d66af"/>
<rect x="577.08" y="463.33" width="10.45" height="9.73" fill="#3f70b6"/>
<rect x="586.53" y="463.33" width="10.45" height="9.73" fill="#1e97d2"/>
<rect x="595.99" y="463.33" width="10.45" height="9.73" fill="#03ada5"/>
<rect x="605.44" y="463.33" width="10.45" height="9.73" fill="#00abbb"/>
<rect x="614.89" y="463.33" width="19.91" height="9.73" fill="#0ca2d9"/>
<rect x="491.00" y="472.07" width="11.45" height="9.73" fill="#3f77bb"/>
<rect x="501.45" y="472.07" width="10.45" height="9.73" fill="#318ac7"/>
<rect x="510.91" y="472.07" width="10.45" height="9.73" fill="#2fb07c"/>
<rect x="520.36" y="472.07" width="10.45" height="9.73" fill="#49b479"/>
<rect x="529.81" y="472.07" width="19.91" height="9.73" fill="#00abbb"/>
<rect x="548.72" y="472.07" width="10.45" height="9.73" fill="#00a9d7"/>
<rect x="558.17" y="472.07" width="10.45" height="9.73" fill="#3c7fc0"/>
<rect x="567.63" y="472.07" width="10.45" height="9.73" fill="#3a5eaa"/>
<rect x="577.08" y="472.07" width="10.45" height="9.73" fill="#3f73b8"/>
<rect x="586.53" y="472.07" width="10.45" height="9.73" fill="#00abbb"/>
<rect x="595.99" y="472.07" width="10.45" height="9.73" fill="#11ad81"/>
<rect x="605.44" y="472.07" width="10.45" height="9.73" fill="#0dae88"/>
<rect x="614.89" y="472.07" width="10.45" height="9.73" fill="#00a9c9"/>
<rect x="624.35" y="472.07" width="10.45" height="9.73" fill="#00a9de"/>
</g>
<rect x="643.00" y="349.80" width="16.10" height="131.00" fill="url(#cb)"/>
<path d="M643.40 349.80V480.80" stroke="#151515" stroke-width="1"/>
<path d="M658.80 349.80V480.80" stroke="#2a2a2a" stroke-width="0.7"/>
<path d="M643.00 350.05H659.10" stroke="#2a2a2a" stroke-width="0.5"/>
<path d="M643.00 480.50H659.10" stroke="#2a2a2a" stroke-width="0.6"/>
<clipPath id="p30"><rect x="32.00" y="514.80" width="141.80" height="131.00"/></clipPath><g clip-path="url(#p30)">
<rect x="31.00" y="513.80" width="11.45" height="10.73" fill="#07ad95"/>
<rect x="41.45" y="513.80" width="19.91" height="10.73" fill="#08ad93"/>
<rect x="60.36" y="513.80" width="10.45" height="10.73" fill="#07ad97"/>
<rect x="69.81" y="513.80" width="10.45" height="10.73" fill="#03ada6"/>
<rect x="79.27" y="513.80" width="10.45" height="10.73" fill="#06ad99"/>
<rect x="88.72" y="513.80" width="10.45" height="10.73" fill="#08ad94"/>
<rect x="98.17" y="513.80" width="10.45" height="10.73" fill="#08ad93"/>
<rect x="107.63" y="513.80" width="10.45" height="10.73" fill="#09ad91"/>
<rect x="117.08" y="513.80" width="10.45" height="10.73" fill="#09ae8f"/>
<rect x="126.53" y="513.80" width="10.45" height="10.73" fill="#09ae8e"/>
<rect x="135.99" y="513.80" width="10.45" height="10.73" fill="#0aae8d"/>
<rect x="145.44" y="513.80" width="10.45" height="10.73" fill="#0aae8c"/>
<rect x="154.89" y="513.80" width="10.45" height="10.73" fill="#0aae8d"/>
<rect x="164.35" y="513.80" width="10.45" height="10.73" fill="#09ae8e"/>
<rect x="31.00" y="523.53" width="11.45" height="9.73" fill="#08ad93"/>
<rect x="41.45" y="523.53" width="10.45" height="9.73" fill="#08ad92"/>
<rect x="50.91" y="523.53" width="10.45" height="9.73" fill="#09ad91"/>
<rect x="60.36" y="523.53" width="10.45" height="9.73" fill="#08ad94"/>
<rect x="69.81" y="523.53" width="10.45" height="9.73" fill="#04ada1"/>
<rect x="79.27" y="523.53" width="10.45" height="9.73" fill="#07ad98"/>
<rect x="88.72" y="523.53" width="10.45" height="9.73" fill="#07ad95"/>
<rect x="98.17" y="523.53" width="10.45" height="9.73" fill="#08ad92"/>
<rect x="107.63" y="523.53" width="10.45" height="9.73" fill="#09ad90"/>
<rect x="117.08" y="523.53" width="10.45" height="9.73" fill="#09ae8e"/>
<rect x="126.53" y="523.53" width="10.45" height="9.73" fill="#0aae8c"/>
<rect x="135.99" y="523.53" width="29.36" height="9.73" fill="#0bae8b"/>
<rect x="164.35" y="523.53" width="10.45" height="9.73" fill="#0aae8c"/>
<rect x="31.00" y="532.27" width="11.45" height="9.73" fill="#08ad92"/>
<rect x="41.45" y="532.27" width="10.45" height="9.73" fill="#09ad90"/>
<rect x="50.91" y="532.27" width="10.45" height="9.73" fill="#09ae8f"/>
<rect x="60.36" y="532.27" width="10.45" height="9.73" fill="#09ad90"/>
<rect x="69.81" y="532.27" width="10.45" height="9.73" fill="#07ad95"/>
<rect x="79.27" y="532.27" width="10.45" height="9.73" fill="#05ad9d"/>
<rect x="88.72" y="532.27" width="10.45" height="9.73" fill="#02ada9"/>
<rect x="98.17" y="532.27" width="10.45" height="9.73" fill="#06ad9b"/>
<rect x="107.63" y="532.27" width="10.45" height="9.73" fill="#09ad91"/>
<rect x="117.08" y="532.27" width="10.45" height="9.73" fill="#09ae8e"/>
<rect x="126.53" y="532.27" width="10.45" height="9.73" fill="#0aae8c"/>
<rect x="135.99" y="532.27" width="29.36" height="9.73" fill="#0bae8b"/>
<rect x="164.35" y="532.27" width="10.45" height="9.73" fill="#0aae8c"/>
<rect x="31.00" y="541.00" width="11.45" height="9.73" fill="#09ad91"/>
<rect x="41.45" y="541.00" width="10.45" height="9.73" fill="#09ae8e"/>
<rect x="50.91" y="541.00" width="10.45" height="9.73" fill="#0aae8d"/>
<rect x="60.36" y="541.00" width="10.45" height="9.73" fill="#09ae8e"/>
<rect x="69.81" y="541.00" width="10.45" height="9.73" fill="#08ad92"/>
<rect x="79.27" y="541.00" width="10.45" height="9.73" fill="#02ada9"/>
<rect x="88.72" y="541.00" width="10.45" height="9.73" fill="#00a9da"/>
<rect x="98.17" y="541.00" width="10.45" height="9.73" fill="#02acab"/>
<rect x="107.63" y="541.00" width="10.45" height="9.73" fill="#07ad97"/>
<rect x="117.08" y="541.00" width="10.45" height="9.73" fill="#08ad92"/>
<rect x="126.53" y="541.00" width="10.45" height="9.73" fill="#09ad90"/>
<rect x="135.99" y="541.00" width="10.45" height="9.73" fill="#09ae8e"/>
<rect x="145.44" y="541.00" width="19.91" height="9.73" fill="#0aae8d"/>
<rect x="164.35" y="541.00" width="10.45" height="9.73" fill="#09ae8e"/>
<rect x="31.00" y="549.73" width="11.45" height="9.73" fill="#09ad90"/>
<rect x="41.45" y="549.73" width="10.45" height="9.73" fill="#0aae8d"/>
<rect x="50.91" y="549.73" width="10.45" height="9.73" fill="#0aae8b"/>
<rect x="60.36" y="549.73" width="10.45" height="9.73" fill="#0aae8d"/>
<rect x="69.81" y="549.73" width="10.45" height="9.73" fill="#08ad92"/>
<rect x="79.27" y="549.73" width="10.45" height="9.73" fill="#04ada2"/>
<rect x="88.72" y="549.73" width="10.45" height="9.73" fill="#01abb4"/>
<rect x="98.17" y="549.73" width="10.45" height="9.73" fill="#01acaf"/>
<rect x="107.63" y="549.73" width="10.45" height="9.73" fill="#02acab"/>
<rect x="117.08" y="549.73" width="10.45" height="9.73" fill="#02ada9"/>
<rect x="126.53" y="549.73" width="10.45" height="9.73" fill="#03ada4"/>
<rect x="135.99" y="549.73" width="10.45" height="9.73" fill="#06ad9b"/>
<rect x="145.44" y="549.73" width="10.45" height="9.73" fill="#08ad94"/>
<rect x="154.89" y="549.73" width="10.45" height="9.73" fill="#08ad91"/>
<rect x="164.35" y="549.73" width="10.45" height="9.73" fill="#09ad91"/>
<rect x="31.00" y="558.47" width="11.45" height="9.73" fill="#09ae8f"/>
<rect x="41.45" y="558.47" width="10.45" height="9.73" fill="#0aae8c"/>
<rect x="50.91" y="558.47" width="10.45" height="9.73" fill="#0bae8b"/>
<rect x="60.36" y="558.47" width="10.45" height="9.73" fill="#0aae8c"/>
<rect x="69.81" y="558.47" width="10.45" height="9.73" fill="#09ad90"/>
<rect x="79.27" y="558.47" width="10.45" height="9.73" fill="#07ad97"/>
<rect x="88.72" y="558.47" width="10.45" height="9.73" fill="#04ada0"/>
<rect x="98.17" y="558.47" width="10.45" height="9.73" fill="#03ada5"/>
<rect x="107.63" y="558.47" width="10.45" height="9.73" fill="#03ada6"/>
<rect x="117.08" y="558.47" width="10.45" height="9.73" fill="#03ada5"/>
<rect x="126.53" y="558.47" width="10.45" height="9.73" fill="#04ada1"/>
<rect x="135.99" y="558.47" width="10.45" height="9.73" fill="#06ad9b"/>
<rect x="145.44" y="558.47" width="10.45" height="9.73" fill="#07ad96"/>
<rect x="154.89" y="558.47" width="10.45" height="9.73" fill="#08ad94"/>
<rect x="164.35" y="558.47" width="10.45" height="9.73" fill="#08ad93"/>
<rect x="31.00" y="567.20" width="11.45" height="9.73" fill="#09ae8f"/>
<rect x="41.45" y="567.20" width="10.45" height="9.73" fill="#0aae8c"/>
<rect x="50.91" y="567.20" width="10.45" height="9.73" fill="#0bae8b"/>
<rect x="60.36" y="567.20" width="10.45" height="9.73" fill="#0aae8c"/>
<rect x="69.81" y="567.20" width="10.45" height="9.73" fill="#09ae8f"/>
<rect x="79.27" y="567.20" width="10.45" height="9.73" fill="#08ad93"/>
<rect x="88.72" y="567.20" width="10.45" height="9.73" fill="#07ad96"/>
<rect x="98.17" y="567.20" width="29.36" height="9.73" fill="#07ad98"/>
<rect x="126.53" y="567.20" width="10.45" height="9.73" fill="#07ad97"/>
<rect x="135.99" y="567.20" width="10.45" height="9.73" fill="#07ad96"/>
<rect x="145.44" y="567.20" width="19.91" height="9.73" fill="#07ad95"/>
<rect x="164.35" y="567.20" width="10.45" height="9.73" fill="#07ad96"/>
<rect x="31.00" y="575.93" width="11.45" height="9.73" fill="#09ad90"/>
<rect x="41.45" y="575.93" width="10.45" height="9.73" fill="#0aae8d"/>
<rect x="50.91" y="575.93" width="10.45" height="9.73" fill="#0aae8b"/>
<rect x="60.36" y="575.93" width="10.45" height="9.73" fill="#0aae8d"/>
<rect x="69.81" y="575.93" width="10.45" height="9.73" fill="#09ad90"/>
<rect x="79.27" y="575.93" width="10.45" height="9.73" fill="#08ad93"/>
<rect x="88.72" y="575.93" width="10.45" height="9.73" fill="#07ad96"/>
<rect x="98.17" y="575.93" width="10.45" height="9.73" fill="#07ad97"/>
<rect x="107.63" y="575.93" width="19.91" height="9.73" fill="#07ad98"/>
<rect x="126.53" y="575.93" width="38.81" height="9.73" fill="#07ad97"/>
<rect x="164.35" y="575.93" width="10.45" height="9.73" fill="#07ad98"/>
<rect x="31.00" y="584.67" width="11.45" height="9.73" fill="#09ad91"/>
<rect x="41.45" y="584.67" width="10.45" height="9.73" fill="#09ae8e"/>
<rect x="50.91" y="584.67" width="10.45" height="9.73" fill="#0aae8d"/>
<rect x="60.36" y="584.67" width="10.45" height="9.73" fill="#09ae8e"/>
<rect x="69.81" y="584.67" width="10.45" height="9.73" fill="#09ad91"/>
<rect x="79.27" y="584.67" width="10.45" height="9.73" fill="#08ad94"/>
<rect x="88.72" y="584.67" width="10.45" height="9.73" fill="#07ad96"/>
<rect x="98.17" y="584.67" width="10.45" height="9.73" fill="#07ad97"/>
<rect x="107.63" y="584.67" width="10.45" height="9.73" fill="#06ad98"/>
<rect x="117.08" y="584.67" width="19.91" height="9.73" fill="#06ad99"/>
<rect x="135.99" y="584.67" width="38.81" height="9.73" fill="#06ad9a"/>
<rect x="31.00" y="593.40" width="11.45" height="9.73" fill="#08ad92"/>
<rect x="41.45" y="593.40" width="10.45" height="9.73" fill="#09ad90"/>
<rect x="50.91" y="593.40" width="10.45" height="9.73" fill="#09ae8f"/>
<rect x="60.36" y="593.40" width="10.45" height="9.73" fill="#09ad90"/>
<rect x="69.81" y="593.40" width="10.45" height="9.73" fill="#08ad92"/>
<rect x="79.27" y="593.40" width="10.45" height="9.73" fill="#08ad95"/>
<rect x="88.72" y="593.40" width="10.45" height="9.73" fill="#08ad94"/>
<rect x="98.17" y="593.40" width="10.45" height="9.73" fill="#08ad92"/>
<rect x="107.63" y="593.40" width="10.45" height="9.73" fill="#07ad97"/>
<rect x="117.08" y="593.40" width="10.45" height="9.73" fill="#06ad9c"/>
<rect x="126.53" y="593.40" width="10.45" height="9.73" fill="#05ad9e"/>
<rect x="135.99" y="593.40" width="10.45" height="9.73" fill="#04ada1"/>
<rect x="145.44" y="593.40" width="10.45" height="9.73" fill="#04ada2"/>
<rect x="154.89" y="593.40" width="10.45" height="9.73" fill="#03ada3"/>
<rect x="164.35" y="593.40" width="10.45" height="9.73" fill="#04ada3"/>
<rect x="31.00" y="602.13" width="11.45" height="9.73" fill="#08ad93"/>
<rect x="41.45" y="602.13" width="10.45" height="9.73" fill="#08ad92"/>
<rect x="50.91" y="602.13" width="10.45" height="9.73" fill="#09ad91"/>
<rect x="60.36" y="602.13" width="10.45" height="9.73" fill="#08ad92"/>
<rect x="69.81" y="602.13" width="10.45" height="9.73" fill="#08ad94"/>
<rect x="79.27" y="602.13" width="10.45" height="9.73" fill="#07ad96"/>
<rect x="88.72" y="602.13" width="10.45" height="9.73" fill="#09ad90"/>
<rect x="98.17" y="602.13" width="10.45" height="9.73" fill="#0dae88"/>
<rect x="107.63" y="602.13" width="10.45" height="9.73" fill="#08ad94"/>
<rect x="117.08" y="602.13" width="10.45" height="9.73" fill="#04ada3"/>
<rect x="126.53" y="602.13" width="10.45" height="9.73" fill="#02ada9"/>
<rect x="135.99" y="602.13" width="10.45" height="9.73" fill="#01acaf"/>
<rect x="145.44" y="602.13" width="10.45" height="9.73" fill="#01acb3"/>
<rect x="154.89" y="602.13" width="10.45" height="9.73" fill="#00abb5"/>
<rect x="164.35" y="602.13" width="10.45" height="9.73" fill="#01acb3"/>
<rect x="31.00" y="610.87" width="11.45" height="9.73" fill="#07ad96"/>
<rect x="41.45" y="610.87" width="10.45" height="9.73" fill="#08ad94"/>
<rect x="50.91" y="610.87" width="10.45" height="9.73" fill="#08ad93"/>
<rect x="60.36" y="610.87" width="10.45" height="9.73" fill="#08ad94"/>
<rect x="69.81" y="610.87" width="10.45" height="9.73" fill="#07ad96"/>
<rect x="79.27" y="610.87" width="10.45" height="9.73" fill="#07ad97"/>
<rect x="88.72" y="610.87" width="10.45" height="9.73" fill="#09ad91"/>
<rect x="98.17" y="610.87" width="10.45" height="9.73" fill="#0cae88"/>
<rect x="107.63" y="610.87" width="10.45" height="9.73" fill="#07ad97"/>
<rect x="117.08" y="610.87" width="10.45" height="9.73" fill="#02ada8"/>
<rect x="126.53" y="610.87" width="10.45" height="9.73" fill="#01acb1"/>
<rect x="135.99" y="610.87" width="10.45" height="9.73" fill="#00abbb"/>
<rect x="145.44" y="610.87" width="10.45" height="9.73" fill="#00aac4"/>
<rect x="154.89" y="610.87" width="10.45" height="9.73" fill="#00a9c7"/>
<rect x="164.35" y="610.87" width="10.45" height="9.73" fill="#00aac4"/>
<rect x="31.00" y="619.60" width="11.45" height="9.73" fill="#03ada4"/>
<rect x="41.45" y="619.60" width="10.45" height="9.73" fill="#04ada0"/>
<rect x="50.91" y="619.60" width="10.45" height="9.73" fill="#06ad9c"/>
<rect x="60.36" y="619.60" width="19.91" height="9.73" fill="#06ad9b"/>
<rect x="79.27" y="619.60" width="10.45" height="9.73" fill="#06ad9c"/>
<rect x="88.72" y="619.60" width="10.45" height="9.73" fill="#06ad99"/>
<rect x="98.17" y="619.60" width="10.45" height="9.73" fill="#07ad95"/>
<rect x="107.63" y="619.60" width="10.45" height="9.73" fill="#05ad9e"/>
<rect x="117.08" y="619.60" width="10.45" height="9.73" fill="#03ada7"/>
<rect x="126.53" y="619.60" width="10.45" height="9.73" fill="#02acad"/>
<rect x="135.99" y="619.60" width="10.45" height="9.73" fill="#01abb5"/>
<rect x="145.44" y="619.60" width="10.45" height="9.73" fill="#00abbb"/>
<rect x="154.89" y="619.60" width="10.45" height="9.73" fill="#00aabe"/>
<rect x="164.35" y="619.60" width="10.45" height="9.73" fill="#00abbb"/>
<rect x="31.00" y="628.33" width="11.45" height="9.73" fill="#00aac3"/>
<rect x="41.45" y="628.33" width="10.45" height="9.73" fill="#00abbb"/>
<rect x="50.91" y="628.33" width="10.45" height="9.73" fill="#01acb1"/>
<rect x="60.36" y="628.33" width="19.91" height="9.73" fill="#01acaf"/>
<rect x="79.27" y="628.33" width="10.45" height="9.73" fill="#02acac"/>
<rect x="88.72" y="628.33" width="10.45" height="9.73" fill="#03ada8"/>
<rect x="98.17" y="628.33" width="10.45" height="9.73" fill="#03ada3"/>
<rect x="107.63" y="628.33" width="10.45" height="9.73" fill="#04ada1"/>
<rect x="117.08" y="628.33" width="10.45" height="9.73" fill="#04ada2"/>
<rect x="126.53" y="628.33" width="10.45" height="9.73" fill="#03ada4"/>
<rect x="135.99" y="628.33" width="10.45" height="9.73" fill="#03ada7"/>
<rect x="145.44" y="628.33" width="10.45" height="9.73" fill="#02ada9"/>
<rect x="154.89" y="628.33" width="10.45" height="9.73" fill="#02adaa"/>
<rect x="164.35" y="628.33" width="10.45" height="9.73" fill="#02ada9"/>
<rect x="31.00" y="637.07" width="11.45" height="9.73" fill="#00a9d0"/>
<rect x="41.45" y="637.07" width="10.45" height="9.73" fill="#00aac6"/>
<rect x="50.91" y="637.07" width="10.45" height="9.73" fill="#00abba"/>
<rect x="60.36" y="637.07" width="10.45" height="9.73" fill="#00abbc"/>
<rect x="69.81" y="637.07" width="10.45" height="9.73" fill="#00aabf"/>
<rect x="79.27" y="637.07" width="10.45" height="9.73" fill="#00abb8"/>
<rect x="88.72" y="637.07" width="10.45" height="9.73" fill="#02acae"/>
<rect x="98.17" y="637.07" width="10.45" height="9.73" fill="#03ada5"/>
<rect x="107.63" y="637.07" width="10.45" height="9.73" fill="#04ada0"/>
<rect x="117.08" y="637.07" width="10.45" height="9.73" fill="#05ad9d"/>
<rect x="126.53" y="637.07" width="19.91" height="9.73" fill="#05ad9c"/>
<rect x="145.44" y="637.07" width="19.91" height="9.73" fill="#05ad9d"/>
<rect x="164.35" y="637.07" width="10.45" height="9.73" fill="#05ad9c"/>
</g>
<rect x="183.00" y="514.80" width="16.10" height="131.00" fill="url(#cb)"/>
<path d="M183.40 514.80V645.80" stroke="#151515" stroke-width="1"/>
<path d="M198.80 514.80V645.80" stroke="#2a2a2a" stroke-width="0.7"/>
<path d="M183.00 515.05H199.10" stroke="#2a2a2a" stroke-width="0.5"/>
<path d="M183.00 645.50H199.10" stroke="#2a2a2a" stroke-width="0.6"/>
<clipPath id="p31"><rect x="262.00" y="514.80" width="141.80" height="131.00"/></clipPath><g clip-path="url(#p31)">
<rect x="261.00" y="513.80" width="11.45" height="10.73" fill="#69b96e"/>
<rect x="271.45" y="513.80" width="10.45" height="10.73" fill="#70ba68"/>
<rect x="280.91" y="513.80" width="10.45" height="10.73" fill="#7fba5b"/>
<rect x="290.36" y="513.80" width="10.45" height="10.73" fill="#94bb4f"/>
<rect x="299.81" y="513.80" width="10.45" height="10.73" fill="#e0b834"/>
<rect x="309.27" y="513.80" width="19.91" height="10.73" fill="#f9c535"/>
<rect x="328.17" y="513.80" width="10.45" height="10.73" fill="#f8ba38"/>
<rect x="337.63" y="513.80" width="10.45" height="10.73" fill="#ecb436"/>
<rect x="347.08" y="513.80" width="19.91" height="10.73" fill="#d1bb36"/>
<rect x="365.99" y="513.80" width="19.91" height="10.73" fill="#f8b03c"/>
<rect x="384.89" y="513.80" width="10.45" height="10.73" fill="#e0b834"/>
<rect x="394.35" y="513.80" width="10.45" height="10.73" fill="#c9bb38"/>
<rect x="261.00" y="523.53" width="20.91" height="9.73" fill="#69b96e"/>
<rect x="280.91" y="523.53" width="10.45" height="9.73" fill="#70ba68"/>
<rect x="290.36" y="523.53" width="10.45" height="9.73" fill="#78ba61"/>
<rect x="299.81" y="523.53" width="10.45" height="9.73" fill="#c9bb38"/>
<rect x="309.27" y="523.53" width="19.91" height="9.73" fill="#f8b03c"/>
<rect x="328.17" y="523.53" width="10.45" height="9.73" fill="#e0b834"/>
<rect x="337.63" y="523.53" width="19.91" height="9.73" fill="#bebb3c"/>
<rect x="356.53" y="523.53" width="10.45" height="9.73" fill="#d9bb33"/>
<rect x="365.99" y="523.53" width="10.45" height="9.73" fill="#f8b03c"/>
<rect x="375.44" y="523.53" width="10.45" height="9.73" fill="#f8b53a"/>
<rect x="384.89" y="523.53" width="10.45" height="9.73" fill="#f4b13a"/>
<rect x="394.35" y="523.53" width="10.45" height="9.73" fill="#f0b238"/>
<rect x="261.00" y="532.27" width="30.36" height="9.73" fill="#69b96e"/>
<rect x="290.36" y="532.27" width="10.45" height="9.73" fill="#70ba68"/>
<rect x="299.81" y="532.27" width="10.45" height="9.73" fill="#94bb4f"/>
<rect x="309.27" y="532.27" width="10.45" height="9.73" fill="#c9bb38"/>
<rect x="318.72" y="532.27" width="10.45" height="9.73" fill="#d9bb33"/>
<rect x="328.17" y="532.27" width="10.45" height="9.73" fill="#c9bb38"/>
<rect x="337.63" y="532.27" width="10.45" height="9.73" fill="#a9bb44"/>
<rect x="347.08" y="532.27" width="10.45" height="9.73" fill="#bebb3c"/>
<rect x="356.53" y="532.27" width="10.45" height="9.73" fill="#e0b834"/>
<rect x="365.99" y="532.27" width="10.45" height="9.73" fill="#f8b03c"/>
<rect x="375.44" y="532.27" width="19.91" height="9.73" fill="#f8ba38"/>
<rect x="394.35" y="532.27" width="10.45" height="9.73" fill="#f8b53a"/>
<rect x="261.00" y="541.00" width="39.81" height="9.73" fill="#70ba68"/>
<rect x="299.81" y="541.00" width="10.45" height="9.73" fill="#7fba5b"/>
<rect x="309.27" y="541.00" width="10.45" height="9.73" fill="#a9bb44"/>
<rect x="318.72" y="541.00" width="10.45" height="9.73" fill="#c9bb38"/>
<rect x="328.17" y="541.00" width="10.45" height="9.73" fill="#d1bb36"/>
<rect x="337.63" y="541.00" width="19.91" height="9.73" fill="#b4bb40"/>
<rect x="356.53" y="541.00" width="10.45" height="9.73" fill="#bebb3c"/>
<rect x="365.99" y="541.00" width="10.45" height="9.73" fill="#e8b534"/>
<rect x="375.44" y="541.00" width="10.45" height="9.73" fill="#f8b53a"/>
<rect x="384.89" y="541.00" width="10.45" height="9.73" fill="#f9c037"/>
<rect x="394.35" y="541.00" width="10.45" height="9.73" fill="#f8ba38"/>
<rect x="261.00" y="549.73" width="11.45" height="9.73" fill="#8aba55"/>
<rect x="271.45" y="549.73" width="19.91" height="9.73" fill="#94bb4f"/>
<rect x="290.36" y="549.73" width="10.45" height="9.73" fill="#7fba5b"/>
<rect x="299.81" y="549.73" width="10.45" height="9.73" fill="#78ba61"/>
<rect x="309.27" y="549.73" width="10.45" height="9.73" fill="#94bb4f"/>
<rect x="318.72" y="549.73" width="10.45" height="9.73" fill="#c9bb38"/>
<rect x="328.17" y="549.73" width="10.45" height="9.73" fill="#d9bb33"/>
<rect x="337.63" y="549.73" width="10.45" height="9.73" fill="#bebb3c"/>
<rect x="347.08" y="549.73" width="19.91" height="9.73" fill="#78ba61"/>
<rect x="365.99" y="549.73" width="10.45" height="9.73" fill="#bebb3c"/>
<rect x="375.44" y="549.73" width="10.45" height="9.73" fill="#f8b53a"/>
<rect x="384.89" y="549.73" width="10.45" height="9.73" fill="#f9c037"/>
<rect x="394.35" y="549.73" width="10.45" height="9.73" fill="#f8b53a"/>
<rect x="261.00" y="558.47" width="11.45" height="9.73" fill="#9fbb49"/>
<rect x="271.45" y="558.47" width="19.91" height="9.73" fill="#bebb3c"/>
<rect x="290.36" y="558.47" width="10.45" height="9.73" fill="#9fbb49"/>
<rect x="299.81" y="558.47" width="10.45" height="9.73" fill="#7fba5b"/>
<rect x="309.27" y="558.47" width="10.45" height="9.73" fill="#9fbb49"/>
<rect x="318.72" y="558.47" width="10.45" height="9.73" fill="#d1bb36"/>
<rect x="328.17" y="558.47" width="10.45" height="9.73" fill="#e0b834"/>
<rect x="337.63" y="558.47" width="10.45" height="9.73" fill="#d1bb36"/>
<rect x="347.08" y="558.47" width="19.91" height="9.73" fill="#94bb4f"/>
<rect x="365.99" y="558.47" width="10.45" height="9.73" fill="#e0b834"/>
<rect x="375.44" y="558.47" width="10.45" height="9.73" fill="#facc33"/>
<rect x="384.89" y="558.47" width="10.45" height="9.73" fill="#f9c037"/>
<rect x="394.35" y="558.47" width="10.45" height="9.73" fill="#f4b13a"/>
<rect x="261.00" y="567.20" width="11.45" height="9.73" fill="#a9bb44"/>
<rect x="271.45" y="567.20" width="19.91" height="9.73" fill="#bebb3c"/>
<rect x="290.36" y="567.20" width="10.45" height="9.73" fill="#a9bb44"/>
<rect x="299.81" y="567.20" width="10.45" height="9.73" fill="#94bb4f"/>
<rect x="309.27" y="567.20" width="10.45" height="9.73" fill="#c9bb38"/>
<rect x="318.72" y="567.20" width="10.45" height="9.73" fill="#ecb436"/>
<rect x="328.17" y="567.20" width="10.45" height="9.73" fill="#e8b534"/>
<rect x="337.63" y="567.20" width="10.45" height="9.73" fill="#d9bb33"/>
<rect x="347.08" y="567.20" width="10.45" height="9.73" fill="#d1bb36"/>
<rect x="356.53" y="567.20" width="10.45" height="9.73" fill="#e0b834"/>
<rect x="365.99" y="567.20" width="10.45" height="9.73" fill="#f8b03c"/>
<rect x="375.44" y="567.20" width="10.45" height="9.73" fill="#f9c535"/>
<rect x="384.89" y="567.20" width="10.45" height="9.73" fill="#f8b03c"/>
<rect x="394.35" y="567.20" width="10.45" height="9.73" fill="#e8b534"/>
<rect x="261.00" y="575.93" width="11.45" height="9.73" fill="#9fbb49"/>
<rect x="271.45" y="575.93" width="10.45" height="9.73" fill="#bebb3c"/>
<rect x="280.91" y="575.93" width="10.45" height="9.73" fill="#c9bb38"/>
<rect x="290.36" y="575.93" width="10.45" height="9.73" fill="#bebb3c"/>
<rect x="299.81" y="575.93" width="10.45" height="9.73" fill="#b4bb40"/>
<rect x="309.27" y="575.93" width="10.45" height="9.73" fill="#d9bb33"/>
<rect x="318.72" y="575.93" width="10.45" height="9.73" fill="#f0b238"/>
<rect x="328.17" y="575.93" width="10.45" height="9.73" fill="#e0b834"/>
<rect x="337.63" y="575.93" width="10.45" height="9.73" fill="#c9bb38"/>
<rect x="347.08" y="575.93" width="10.45" height="9.73" fill="#d9bb33"/>
<rect x="356.53" y="575.93" width="10.45" height="9.73" fill="#f4b13a"/>
<rect x="365.99" y="575.93" width="19.91" height="9.73" fill="#f9c037"/>
<rect x="384.89" y="575.93" width="10.45" height="9.73" fill="#e8b534"/>
<rect x="394.35" y="575.93" width="10.45" height="9.73" fill="#d1bb36"/>
<rect x="261.00" y="584.67" width="11.45" height="9.73" fill="#94bb4f"/>
<rect x="271.45" y="584.67" width="10.45" height="9.73" fill="#a9bb44"/>
<rect x="280.91" y="584.67" width="10.45" height="9.73" fill="#c9bb38"/>
<rect x="290.36" y="584.67" width="19.91" height="9.73" fill="#d9bb33"/>
<rect x="309.27" y="584.67" width="19.91" height="9.73" fill="#e0b834"/>
<rect x="328.17" y="584.67" width="19.91" height="9.73" fill="#b4bb40"/>
<rect x="347.08" y="584.67" width="10.45" height="9.73" fill="#d9bb33"/>
<rect x="356.53" y="584.67" width="10.45" height="9.73" fill="#f4b13a"/>
<rect x="365.99" y="584.67" width="10.45" height="9.73" fill="#f8b03c"/>
<rect x="375.44" y="584.67" width="10.45" height="9.73" fill="#f4b13a"/>
<rect x="384.89" y="584.67" width="10.45" height="9.73" fill="#d1bb36"/>
<rect x="394.35" y="584.67" width="10.45" height="9.73" fill="#bebb3c"/>
<rect x="261.00" y="593.40" width="11.45" height="9.73" fill="#78ba61"/>
<rect x="271.45" y="593.40" width="10.45" height="9.73" fill="#7fba5b"/>
<rect x="280.91" y="593.40" width="10.45" height="9.73" fill="#a9bb44"/>
<rect x="290.36" y="593.40" width="10.45" height="9.73" fill="#bebb3c"/>
<rect x="299.81" y="593.40" width="10.45" height="9.73" fill="#d1bb36"/>
<rect x="309.27" y="593.40" width="10.45" height="9.73" fill="#e0b834"/>
<rect x="318.72" y="593.40" width="10.45" height="9.73" fill="#bebb3c"/>
<rect x="328.17" y="593.40" width="10.45" height="9.73" fill="#8aba55"/>
<rect x="337.63" y="593.40" width="10.45" height="9.73" fill="#b4bb40"/>
<rect x="347.08" y="593.40" width="10.45" height="9.73" fill="#d9bb33"/>
<rect x="356.53" y="593.40" width="10.45" height="9.73" fill="#e0b834"/>
<rect x="365.99" y="593.40" width="10.45" height="9.73" fill="#d1bb36"/>
<rect x="375.44" y="593.40" width="10.45" height="9.73" fill="#bebb3c"/>
<rect x="384.89" y="593.40" width="10.45" height="9.73" fill="#a9bb44"/>
<rect x="394.35" y="593.40" width="10.45" height="9.73" fill="#94bb4f"/>
<rect x="261.00" y="602.13" width="11.45" height="9.73" fill="#62b974"/>
<rect x="271.45" y="602.13" width="10.45" height="9.73" fill="#70ba68"/>
<rect x="280.91" y="602.13" width="10.45" height="9.73" fill="#78ba61"/>
<rect x="290.36" y="602.13" width="10.45" height="9.73" fill="#8aba55"/>
<rect x="299.81" y="602.13" width="10.45" height="9.73" fill="#b4bb40"/>
<rect x="309.27" y="602.13" width="10.45" height="9.73" fill="#d1bb36"/>
<rect x="318.72" y="602.13" width="10.45" height="9.73" fill="#a9bb44"/>
<rect x="328.17" y="602.13" width="10.45" height="9.73" fill="#94bb4f"/>
<rect x="337.63" y="602.13" width="10.45" height="9.73" fill="#c9bb38"/>
<rect x="347.08" y="602.13" width="10.45" height="9.73" fill="#e0b834"/>
<rect x="356.53" y="602.13" width="10.45" height="9.73" fill="#d9bb33"/>
<rect x="365.99" y="602.13" width="29.36" height="9.73" fill="#9fbb49"/>
<rect x="394.35" y="602.13" width="10.45" height="9.73" fill="#b4bb40"/>
<rect x="261.00" y="610.87" width="11.45" height="9.73" fill="#69b96e"/>
<rect x="271.45" y="610.87" width="10.45" height="9.73" fill="#7fba5b"/>
<rect x="280.91" y="610.87" width="10.45" height="9.73" fill="#94bb4f"/>
<rect x="290.36" y="610.87" width="19.91" height="9.73" fill="#8aba55"/>
<rect x="309.27" y="610.87" width="19.91" height="9.73" fill="#9fbb49"/>
<rect x="328.17" y="610.87" width="10.45" height="9.73" fill="#bebb3c"/>
<rect x="337.63" y="610.87" width="10.45" height="9.73" fill="#ecb436"/>
<rect x="347.08" y="610.87" width="10.45" height="9.73" fill="#f0b238"/>
<rect x="356.53" y="610.87" width="10.45" height="9.73" fill="#e0b834"/>
<rect x="365.99" y="610.87" width="29.36" height="9.73" fill="#a9bb44"/>
<rect x="394.35" y="610.87" width="10.45" height="9.73" fill="#c9bb38"/>
<rect x="261.00" y="619.60" width="11.45" height="9.73" fill="#b4bb40"/>
<rect x="271.45" y="619.60" width="10.45" height="9.73" fill="#c9bb38"/>
<rect x="280.91" y="619.60" width="10.45" height="9.73" fill="#d1bb36"/>
<rect x="290.36" y="619.60" width="10.45" height="9.73" fill="#a9bb44"/>
<rect x="299.81" y="619.60" width="10.45" height="9.73" fill="#78ba61"/>
<rect x="309.27" y="619.60" width="10.45" height="9.73" fill="#70ba68"/>
<rect x="318.72" y="619.60" width="10.45" height="9.73" fill="#9fbb49"/>
<rect x="328.17" y="619.60" width="10.45" height="9.73" fill="#e0b834"/>
<rect x="337.63" y="619.60" width="19.91" height="9.73" fill="#f8b03c"/>
<rect x="356.53" y="619.60" width="10.45" height="9.73" fill="#f4b13a"/>
<rect x="365.99" y="619.60" width="10.45" height="9.73" fill="#e8b534"/>
<rect x="375.44" y="619.60" width="19.91" height="9.73" fill="#d1bb36"/>
<rect x="394.35" y="619.60" width="10.45" height="9.73" fill="#d9bb33"/>
<rect x="261.00" y="628.33" width="20.91" height="9.73" fill="#f8b03c"/>
<rect x="280.91" y="628.33" width="10.45" height="9.73" fill="#f0b238"/>
<rect x="290.36" y="628.33" width="10.45" height="9.73" fill="#e0b834"/>
<rect x="299.81" y="628.33" width="10.45" height="9.73" fill="#a9bb44"/>
<rect x="309.27" y="628.33" width="10.45" height="9.73" fill="#78ba61"/>
<rect x="318.72" y="628.33" width="10.45" height="9.73" fill="#94bb4f"/>
<rect x="328.17" y="628.33" width="10.45" height="9.73" fill="#ecb436"/>
<rect x="337.63" y="628.33" width="10.45" height="9.73" fill="#fad231"/>
<rect x="347.08" y="628.33" width="10.45" height="9.73" fill="#fce32b"/>
<rect x="356.53" y="628.33" width="10.45" height="9.73" fill="#fbd92e"/>
<rect x="365.99" y="628.33" width="10.45" height="9.73" fill="#f9c037"/>
<rect x="375.44" y="628.33" width="10.45" height="9.73" fill="#f8ba38"/>
<rect x="384.89" y="628.33" width="10.45" height="9.73" fill="#f8b53a"/>
<rect x="394.35" y="628.33" width="10.45" height="9.73" fill="#f8b03c"/>
<rect x="261.00" y="637.07" width="11.45" height="9.73" fill="#fbdc2d"/>
<rect x="271.45" y="637.07" width="10.45" height="9.73" fill="#f9c535"/>
<rect x="280.91" y="637.07" width="19.91" height="9.73" fill="#f4b13a"/>
<rect x="299.81" y="637.07" width="10.45" height="9.73" fill="#d9bb33"/>
<rect x="309.27" y="637.07" width="10.45" height="9.73" fill="#94bb4f"/>
<rect x="318.72" y="637.07" width="10.45" height="9.73" fill="#a9bb44"/>
<rect x="328.17" y="637.07" width="10.45" height="9.73" fill="#f0b238"/>
<rect x="337.63" y="637.07" width="10.45" height="9.73" fill="#f8e72c"/>
<rect x="347.08" y="637.07" width="10.45" height="9.73" fill="#ede732"/>
<rect x="356.53" y="637.07" width="10.45" height="9.73" fill="#f8e72c"/>
<rect x="365.99" y="637.07" width="10.45" height="9.73" fill="#f9c037"/>
<rect x="375.44" y="637.07" width="10.45" height="9.73" fill="#f9c535"/>
<rect x="384.89" y="637.07" width="10.45" height="9.73" fill="#f9c037"/>
<rect x="394.35" y="637.07" width="10.45" height="9.73" fill="#f8b03c"/>
</g>
<rect x="413.00" y="514.80" width="16.10" height="131.00" fill="url(#cb)"/>
<path d="M413.40 514.80V645.80" stroke="#151515" stroke-width="1"/>
<path d="M428.80 514.80V645.80" stroke="#2a2a2a" stroke-width="0.7"/>
<path d="M413.00 515.05H429.10" stroke="#2a2a2a" stroke-width="0.5"/>
<path d="M413.00 645.50H429.10" stroke="#2a2a2a" stroke-width="0.6"/>
<clipPath id="p32"><rect x="492.00" y="514.80" width="141.80" height="131.00"/></clipPath><g clip-path="url(#p32)">
<rect x="491.00" y="513.80" width="11.45" height="10.73" fill="#09ad90"/>
<rect x="501.45" y="513.80" width="10.45" height="10.73" fill="#11ad81"/>
<rect x="510.91" y="513.80" width="10.45" height="10.73" fill="#2fb07c"/>
<rect x="520.36" y="513.80" width="10.45" height="10.73" fill="#0fae84"/>
<rect x="529.81" y="513.80" width="10.45" height="10.73" fill="#0aae8c"/>
<rect x="539.27" y="513.80" width="10.45" height="10.73" fill="#09ad90"/>
<rect x="548.72" y="513.80" width="19.91" height="10.73" fill="#07ad96"/>
<rect x="567.63" y="513.80" width="10.45" height="10.73" fill="#0aae8c"/>
<rect x="577.08" y="513.80" width="10.45" height="10.73" fill="#11ad81"/>
<rect x="586.53" y="513.80" width="10.45" height="10.73" fill="#3db27b"/>
<rect x="595.99" y="513.80" width="38.81" height="10.73" fill="#11ad81"/>
<rect x="491.00" y="523.53" width="11.45" height="9.73" fill="#07ad96"/>
<rect x="501.45" y="523.53" width="19.91" height="9.73" fill="#0aae8c"/>
<rect x="520.36" y="523.53" width="10.45" height="9.73" fill="#07ad96"/>
<rect x="529.81" y="523.53" width="10.45" height="9.73" fill="#05ad9e"/>
<rect x="539.27" y="523.53" width="19.91" height="9.73" fill="#07ad96"/>
<rect x="558.17" y="523.53" width="10.45" height="9.73" fill="#09ad90"/>
<rect x="567.63" y="523.53" width="10.45" height="9.73" fill="#0aae8c"/>
<rect x="577.08" y="523.53" width="10.45" height="9.73" fill="#0fae84"/>
<rect x="586.53" y="523.53" width="10.45" height="9.73" fill="#14ad7d"/>
<rect x="595.99" y="523.53" width="38.81" height="9.73" fill="#11ad81"/>
<rect x="491.00" y="532.27" width="11.45" height="9.73" fill="#02acaa"/>
<rect x="501.45" y="532.27" width="19.91" height="9.73" fill="#03ada5"/>
<rect x="520.36" y="532.27" width="10.45" height="9.73" fill="#02acaa"/>
<rect x="529.81" y="532.27" width="10.45" height="9.73" fill="#01acb0"/>
<rect x="539.27" y="532.27" width="10.45" height="9.73" fill="#05ad9e"/>
<rect x="548.72" y="532.27" width="10.45" height="9.73" fill="#0aae8c"/>
<rect x="558.17" y="532.27" width="19.91" height="9.73" fill="#0dae88"/>
<rect x="577.08" y="532.27" width="19.91" height="9.73" fill="#0aae8c"/>
<rect x="595.99" y="532.27" width="10.45" height="9.73" fill="#0dae88"/>
<rect x="605.44" y="532.27" width="10.45" height="9.73" fill="#0fae84"/>
<rect x="614.89" y="532.27" width="19.91" height="9.73" fill="#11ad81"/>
<rect x="491.00" y="541.00" width="11.45" height="9.73" fill="#01acb0"/>
<rect x="501.45" y="541.00" width="19.91" height="9.73" fill="#03ada5"/>
<rect x="520.36" y="541.00" width="10.45" height="9.73" fill="#02acaa"/>
<rect x="529.81" y="541.00" width="10.45" height="9.73" fill="#01acb0"/>
<rect x="539.27" y="541.00" width="10.45" height="9.73" fill="#03ada5"/>
<rect x="548.72" y="541.00" width="19.91" height="9.73" fill="#09ad90"/>
<rect x="567.63" y="541.00" width="10.45" height="9.73" fill="#07ad96"/>
<rect x="577.08" y="541.00" width="19.91" height="9.73" fill="#03ada5"/>
<rect x="595.99" y="541.00" width="10.45" height="9.73" fill="#07ad96"/>
<rect x="605.44" y="541.00" width="10.45" height="9.73" fill="#0dae88"/>
<rect x="614.89" y="541.00" width="19.91" height="9.73" fill="#11ad81"/>
<rect x="491.00" y="549.73" width="11.45" height="9.73" fill="#07ad96"/>
<rect x="501.45" y="549.73" width="10.45" height="9.73" fill="#0dae88"/>
<rect x="510.91" y="549.73" width="10.45" height="9.73" fill="#0fae84"/>
<rect x="520.36" y="549.73" width="10.45" height="9.73" fill="#09ad90"/>
<rect x="529.81" y="549.73" width="19.91" height="9.73" fill="#02acaa"/>
<rect x="548.72" y="549.73" width="10.45" height="9.73" fill="#03ada5"/>
<rect x="558.17" y="549.73" width="10.45" height="9.73" fill="#02acaa"/>
<rect x="567.63" y="549.73" width="29.36" height="9.73" fill="#01acb0"/>
<rect x="595.99" y="549.73" width="10.45" height="9.73" fill="#03ada5"/>
<rect x="605.44" y="549.73" width="10.45" height="9.73" fill="#0aae8c"/>
<rect x="614.89" y="549.73" width="19.91" height="9.73" fill="#14ad7d"/>
<rect x="491.00" y="558.47" width="11.45" height="9.73" fill="#09ad90"/>
<rect x="501.45" y="558.47" width="10.45" height="9.73" fill="#11ad81"/>
<rect x="510.91" y="558.47" width="10.45" height="9.73" fill="#3db27b"/>
<rect x="520.36" y="558.47" width="10.45" height="9.73" fill="#0dae88"/>
<rect x="529.81" y="558.47" width="10.45" height="9.73" fill="#02acaa"/>
<rect x="539.27" y="558.47" width="10.45" height="9.73" fill="#00a9c9"/>
<rect x="548.72" y="558.47" width="10.45" height="9.73" fill="#00a9de"/>
<rect x="558.17" y="558.47" width="10.45" height="9.73" fill="#00a9d7"/>
<rect x="567.63" y="558.47" width="10.45" height="9.73" fill="#01acb0"/>
<rect x="577.08" y="558.47" width="19.91" height="9.73" fill="#03ada5"/>
<rect x="595.99" y="558.47" width="10.45" height="9.73" fill="#05ad9e"/>
<rect x="605.44" y="558.47" width="10.45" height="9.73" fill="#0aae8c"/>
<rect x="614.89" y="558.47" width="19.91" height="9.73" fill="#2fb07c"/>
<rect x="491.00" y="567.20" width="11.45" height="9.73" fill="#07ad96"/>
<rect x="501.45" y="567.20" width="10.45" height="9.73" fill="#0dae88"/>
<rect x="510.91" y="567.20" width="10.45" height="9.73" fill="#11ad81"/>
<rect x="520.36" y="567.20" width="10.45" height="9.73" fill="#09ad90"/>
<rect x="529.81" y="567.20" width="10.45" height="9.73" fill="#01acb0"/>
<rect x="539.27" y="567.20" width="10.45" height="9.73" fill="#00a9d0"/>
<rect x="548.72" y="567.20" width="19.91" height="9.73" fill="#2990cc"/>
<rect x="567.63" y="567.20" width="10.45" height="9.73" fill="#00abbb"/>
<rect x="577.08" y="567.20" width="10.45" height="9.73" fill="#05ad9e"/>
<rect x="586.53" y="567.20" width="19.91" height="9.73" fill="#07ad96"/>
<rect x="605.44" y="567.20" width="10.45" height="9.73" fill="#0aae8c"/>
<rect x="614.89" y="567.20" width="10.45" height="9.73" fill="#49b479"/>
<rect x="624.35" y="567.20" width="10.45" height="9.73" fill="#2fb07c"/>
<rect x="491.00" y="575.93" width="11.45" height="9.73" fill="#01acb0"/>
<rect x="501.45" y="575.93" width="10.45" height="9.73" fill="#05ad9e"/>
<rect x="510.91" y="575.93" width="10.45" height="9.73" fill="#07ad96"/>
<rect x="520.36" y="575.93" width="10.45" height="9.73" fill="#01acb0"/>
<rect x="529.81" y="575.93" width="10.45" height="9.73" fill="#00a9d0"/>
<rect x="539.27" y="575.93" width="10.45" height="9.73" fill="#00a9de"/>
<rect x="548.72" y="575.93" width="19.91" height="9.73" fill="#189bd5"/>
<rect x="567.63" y="575.93" width="10.45" height="9.73" fill="#00a9c9"/>
<rect x="577.08" y="575.93" width="10.45" height="9.73" fill="#03ada5"/>
<rect x="586.53" y="575.93" width="29.36" height="9.73" fill="#0aae8c"/>
<rect x="614.89" y="575.93" width="19.91" height="9.73" fill="#11ad81"/>
<rect x="491.00" y="584.67" width="11.45" height="9.73" fill="#00a9de"/>
<rect x="501.45" y="584.67" width="10.45" height="9.73" fill="#00a9d7"/>
<rect x="510.91" y="584.67" width="10.45" height="9.73" fill="#00a9d0"/>
<rect x="520.36" y="584.67" width="10.45" height="9.73" fill="#0ca2d9"/>
<rect x="529.81" y="584.67" width="10.45" height="9.73" fill="#2e8cc9"/>
<rect x="539.27" y="584.67" width="10.45" height="9.73" fill="#318ac7"/>
<rect x="548.72" y="584.67" width="10.45" height="9.73" fill="#2e8cc9"/>
<rect x="558.17" y="584.67" width="10.45" height="9.73" fill="#2990cc"/>
<rect x="567.63" y="584.67" width="10.45" height="9.73" fill="#0ca2d9"/>
<rect x="577.08" y="584.67" width="10.45" height="9.73" fill="#00a9c9"/>
<rect x="586.53" y="584.67" width="10.45" height="9.73" fill="#03ada5"/>
<rect x="595.99" y="584.67" width="29.36" height="9.73" fill="#05ad9e"/>
<rect x="624.35" y="584.67" width="10.45" height="9.73" fill="#03ada5"/>
<rect x="491.00" y="593.40" width="20.91" height="9.73" fill="#318ac7"/>
<rect x="510.91" y="593.40" width="10.45" height="9.73" fill="#3487c6"/>
<rect x="520.36" y="593.40" width="10.45" height="9.73" fill="#3b81c1"/>
<rect x="529.81" y="593.40" width="10.45" height="9.73" fill="#3f78bc"/>
<rect x="539.27" y="593.40" width="10.45" height="9.73" fill="#3c7ec0"/>
<rect x="548.72" y="593.40" width="10.45" height="9.73" fill="#3883c3"/>
<rect x="558.17" y="593.40" width="10.45" height="9.73" fill="#3c7fc0"/>
<rect x="567.63" y="593.40" width="10.45" height="9.73" fill="#318ac7"/>
<rect x="577.08" y="593.40" width="10.45" height="9.73" fill="#0ca2d9"/>
<rect x="586.53" y="593.40" width="19.91" height="9.73" fill="#00a9d0"/>
<rect x="605.44" y="593.40" width="29.36" height="9.73" fill="#00a9d7"/>
<rect x="491.00" y="602.13" width="11.45" height="9.73" fill="#3a82c2"/>
<rect x="501.45" y="602.13" width="10.45" height="9.73" fill="#3c7fc0"/>
<rect x="510.91" y="602.13" width="10.45" height="9.73" fill="#3c7ec0"/>
<rect x="520.36" y="602.13" width="10.45" height="9.73" fill="#3f72b7"/>
<rect x="529.81" y="602.13" width="10.45" height="9.73" fill="#3f6eb5"/>
<rect x="539.27" y="602.13" width="10.45" height="9.73" fill="#3f72b7"/>
<rect x="548.72" y="602.13" width="10.45" height="9.73" fill="#3f75ba"/>
<rect x="558.17" y="602.13" width="10.45" height="9.73" fill="#3883c3"/>
<rect x="567.63" y="602.13" width="10.45" height="9.73" fill="#3487c6"/>
<rect x="577.08" y="602.13" width="10.45" height="9.73" fill="#2990cc"/>
<rect x="586.53" y="602.13" width="10.45" height="9.73" fill="#2e8cc9"/>
<rect x="595.99" y="602.13" width="10.45" height="9.73" fill="#318ac7"/>
<rect x="605.44" y="602.13" width="10.45" height="9.73" fill="#3784c4"/>
<rect x="614.89" y="602.13" width="19.91" height="9.73" fill="#3a82c2"/>
<rect x="491.00" y="610.87" width="11.45" height="9.73" fill="#3a82c2"/>
<rect x="501.45" y="610.87" width="10.45" height="9.73" fill="#3c7fc0"/>
<rect x="510.91" y="610.87" width="10.45" height="9.73" fill="#3c7ec0"/>
<rect x="520.36" y="610.87" width="10.45" height="9.73" fill="#3f72b7"/>
<rect x="529.81" y="610.87" width="10.45" height="9.73" fill="#3e6bb3"/>
<rect x="539.27" y="610.87" width="10.45" height="9.73" fill="#3d68b0"/>
<rect x="548.72" y="610.87" width="10.45" height="9.73" fill="#3f6eb5"/>
<rect x="558.17" y="610.87" width="10.45" height="9.73" fill="#3883c3"/>
<rect x="567.63" y="610.87" width="10.45" height="9.73" fill="#3487c6"/>
<rect x="577.08" y="610.87" width="10.45" height="9.73" fill="#318ac7"/>
<rect x="586.53" y="610.87" width="10.45" height="9.73" fill="#3784c4"/>
<rect x="595.99" y="610.87" width="10.45" height="9.73" fill="#3c7fc0"/>
<rect x="605.44" y="610.87" width="10.45" height="9.73" fill="#3b81c1"/>
<rect x="614.89" y="610.87" width="10.45" height="9.73" fill="#3f72b7"/>
<rect x="624.35" y="610.87" width="10.45" height="9.73" fill="#3d68b0"/>
<rect x="491.00" y="619.60" width="11.45" height="9.73" fill="#3c7fc0"/>
<rect x="501.45" y="619.60" width="10.45" height="9.73" fill="#3487c6"/>
<rect x="510.91" y="619.60" width="10.45" height="9.73" fill="#3784c4"/>
<rect x="520.36" y="619.60" width="10.45" height="9.73" fill="#3c7ec0"/>
<rect x="529.81" y="619.60" width="10.45" height="9.73" fill="#3f6eb5"/>
<rect x="539.27" y="619.60" width="10.45" height="9.73" fill="#3c62ac"/>
<rect x="548.72" y="619.60" width="10.45" height="9.73" fill="#3e6bb3"/>
<rect x="558.17" y="619.60" width="10.45" height="9.73" fill="#3b81c1"/>
<rect x="567.63" y="619.60" width="10.45" height="9.73" fill="#3487c6"/>
<rect x="577.08" y="619.60" width="10.45" height="9.73" fill="#318ac7"/>
<rect x="586.53" y="619.60" width="10.45" height="9.73" fill="#3487c6"/>
<rect x="595.99" y="619.60" width="10.45" height="9.73" fill="#3784c4"/>
<rect x="605.44" y="619.60" width="10.45" height="9.73" fill="#3c7fc0"/>
<rect x="614.89" y="619.60" width="10.45" height="9.73" fill="#3f78bc"/>
<rect x="624.35" y="619.60" width="10.45" height="9.73" fill="#3e6bb3"/>
<rect x="491.00" y="628.33" width="11.45" height="9.73" fill="#3a82c2"/>
<rect x="501.45" y="628.33" width="10.45" height="9.73" fill="#2e8cc9"/>
<rect x="510.91" y="628.33" width="10.45" height="9.73" fill="#2990cc"/>
<rect x="520.36" y="628.33" width="10.45" height="9.73" fill="#3c7fc0"/>
<rect x="529.81" y="628.33" width="10.45" height="9.73" fill="#3f6eb5"/>
<rect x="539.27" y="628.33" width="10.45" height="9.73" fill="#3b5faa"/>
<rect x="548.72" y="628.33" width="10.45" height="9.73" fill="#3e6bb3"/>
<rect x="558.17" y="628.33" width="10.45" height="9.73" fill="#3b81c1"/>
<rect x="567.63" y="628.33" width="10.45" height="9.73" fill="#318ac7"/>
<rect x="577.08" y="628.33" width="10.45" height="9.73" fill="#2e8cc9"/>
<rect x="586.53" y="628.33" width="19.91" height="9.73" fill="#318ac7"/>
<rect x="605.44" y="628.33" width="10.45" height="9.73" fill="#2e8cc9"/>
<rect x="614.89" y="628.33" width="10.45" height="9.73" fill="#1e97d2"/>
<rect x="624.35" y="628.33" width="10.45" height="9.73" fill="#00a9de"/>
<rect x="491.00" y="637.07" width="11.45" height="9.73" fill="#318ac7"/>
<rect x="501.45" y="637.07" width="10.45" height="9.73" fill="#1e97d2"/>
<rect x="510.91" y="637.07" width="10.45" height="9.73" fill="#2990cc"/>
<rect x="520.36" y="637.07" width="10.45" height="9.73" fill="#3883c3"/>
<rect x="529.81" y="637.07" width="10.45" height="9.73" fill="#3d68b0"/>
<rect x="539.27" y="637.07" width="10.45" height="9.73" fill="#3c62ac"/>
<rect x="548.72" y="637.07" width="10.45" height="9.73" fill="#3f75ba"/>
<rect x="558.17" y="637.07" width="10.45" height="9.73" fill="#3a82c2"/>
<rect x="567.63" y="637.07" width="10.45" height="9.73" fill="#2e8cc9"/>
<rect x="577.08" y="637.07" width="10.45" height="9.73" fill="#2393cf"/>
<rect x="586.53" y="637.07" width="19.91" height="9.73" fill="#2990cc"/>
<rect x="605.44" y="637.07" width="10.45" height="9.73" fill="#1e97d2"/>
<rect x="614.89" y="637.07" width="10.45" height="9.73" fill="#00a9d7"/>
<rect x="624.35" y="637.07" width="10.45" height="9.73" fill="#00a9c9"/>
</g>
<rect x="643.00" y="514.80" width="16.10" height="131.00" fill="url(#cb)"/>
<path d="M643.40 514.80V645.80" stroke="#151515" stroke-width="1"/>
<path d="M658.80 514.80V645.80" stroke="#2a2a2a" stroke-width="0.7"/>
<path d="M643.00 515.05H659.10" stroke="#2a2a2a" stroke-width="0.5"/>
<path d="M643.00 645.50H659.10" stroke="#2a2a2a" stroke-width="0.6"/>
<clipPath id="p40"><rect x="32.00" y="679.80" width="141.80" height="131.00"/></clipPath><g clip-path="url(#p40)">
<rect x="31.00" y="678.80" width="11.45" height="10.73" fill="#318ac7"/>
<rect x="41.45" y="678.80" width="10.45" height="10.73" fill="#00a9de"/>
<rect x="50.91" y="678.80" width="10.45" height="10.73" fill="#00abb8"/>
<rect x="60.36" y="678.80" width="10.45" height="10.73" fill="#00abb7"/>
<rect x="69.81" y="678.80" width="19.91" height="10.73" fill="#00abb6"/>
<rect x="88.72" y="678.80" width="10.45" height="10.73" fill="#00abb7"/>
<rect x="98.17" y="678.80" width="10.45" height="10.73" fill="#00abb8"/>
<rect x="107.63" y="678.80" width="10.45" height="10.73" fill="#00abb9"/>
<rect x="117.08" y="678.80" width="10.45" height="10.73" fill="#00abba"/>
<rect x="126.53" y="678.80" width="10.45" height="10.73" fill="#00abbc"/>
<rect x="135.99" y="678.80" width="10.45" height="10.73" fill="#00abbd"/>
<rect x="145.44" y="678.80" width="10.45" height="10.73" fill="#00aabd"/>
<rect x="154.89" y="678.80" width="10.45" height="10.73" fill="#00abbd"/>
<rect x="164.35" y="678.80" width="10.45" height="10.73" fill="#00abbc"/>
<rect x="31.00" y="688.53" width="11.45" height="9.73" fill="#00a9c9"/>
<rect x="41.45" y="688.53" width="10.45" height="9.73" fill="#00abbb"/>
<rect x="50.91" y="688.53" width="10.45" height="9.73" fill="#01acb0"/>
<rect x="60.36" y="688.53" width="10.45" height="9.73" fill="#02acae"/>
<rect x="69.81" y="688.53" width="10.45" height="9.73" fill="#02acab"/>
<rect x="79.27" y="688.53" width="10.45" height="9.73" fill="#02ada9"/>
<rect x="88.72" y="688.53" width="10.45" height="9.73" fill="#02acab"/>
<rect x="98.17" y="688.53" width="10.45" height="9.73" fill="#01acaf"/>
<rect x="107.63" y="688.53" width="10.45" height="9.73" fill="#01acb2"/>
<rect x="117.08" y="688.53" width="10.45" height="9.73" fill="#01abb5"/>
<rect x="126.53" y="688.53" width="10.45" height="9.73" fill="#00abb7"/>
<rect x="135.99" y="688.53" width="10.45" height="9.73" fill="#00abb9"/>
<rect x="145.44" y="688.53" width="19.91" height="9.73" fill="#00abba"/>
<rect x="164.35" y="688.53" width="10.45" height="9.73" fill="#00abb8"/>
<rect x="31.00" y="697.27" width="11.45" height="9.73" fill="#02ada9"/>
<rect x="41.45" y="697.27" width="10.45" height="9.73" fill="#03ada6"/>
<rect x="50.91" y="697.27" width="10.45" height="9.73" fill="#04ada3"/>
<rect x="60.36" y="697.27" width="10.45" height="9.73" fill="#05ad9e"/>
<rect x="69.81" y="697.27" width="10.45" height="9.73" fill="#08ad94"/>
<rect x="79.27" y="697.27" width="10.45" height="9.73" fill="#09ad90"/>
<rect x="88.72" y="697.27" width="10.45" height="9.73" fill="#07ad95"/>
<rect x="98.17" y="697.27" width="10.45" height="9.73" fill="#04ada1"/>
<rect x="107.63" y="697.27" width="10.45" height="9.73" fill="#03ada8"/>
<rect x="117.08" y="697.27" width="10.45" height="9.73" fill="#02acab"/>
<rect x="126.53" y="697.27" width="10.45" height="9.73" fill="#01acaf"/>
<rect x="135.99" y="697.27" width="10.45" height="9.73" fill="#01acb2"/>
<rect x="145.44" y="697.27" width="19.91" height="9.73" fill="#01abb4"/>
<rect x="164.35" y="697.27" width="10.45" height="9.73" fill="#01acb2"/>
<rect x="31.00" y="706.00" width="11.45" height="9.73" fill="#02acac"/>
<rect x="41.45" y="706.00" width="10.45" height="9.73" fill="#03ada8"/>
<rect x="50.91" y="706.00" width="10.45" height="9.73" fill="#04ada3"/>
<rect x="60.36" y="706.00" width="10.45" height="9.73" fill="#06ad9c"/>
<rect x="69.81" y="706.00" width="10.45" height="9.73" fill="#09ae8f"/>
<rect x="79.27" y="706.00" width="10.45" height="9.73" fill="#0bae8a"/>
<rect x="88.72" y="706.00" width="10.45" height="9.73" fill="#09ad90"/>
<rect x="98.17" y="706.00" width="10.45" height="9.73" fill="#05ad9e"/>
<rect x="107.63" y="706.00" width="10.45" height="9.73" fill="#03ada7"/>
<rect x="117.08" y="706.00" width="10.45" height="9.73" fill="#02acab"/>
<rect x="126.53" y="706.00" width="10.45" height="9.73" fill="#01acaf"/>
<rect x="135.99" y="706.00" width="10.45" height="9.73" fill="#01acb3"/>
<rect x="145.44" y="706.00" width="10.45" height="9.73" fill="#00abb6"/>
<rect x="154.89" y="706.00" width="10.45" height="9.73" fill="#00abba"/>
<rect x="164.35" y="706.00" width="10.45" height="9.73" fill="#00abb9"/>
<rect x="31.00" y="714.73" width="11.45" height="9.73" fill="#02acae"/>
<rect x="41.45" y="714.73" width="10.45" height="9.73" fill="#02ada9"/>
<rect x="50.91" y="714.73" width="10.45" height="9.73" fill="#04ada3"/>
<rect x="60.36" y="714.73" width="10.45" height="9.73" fill="#06ad9c"/>
<rect x="69.81" y="714.73" width="10.45" height="9.73" fill="#09ae8f"/>
<rect x="79.27" y="714.73" width="10.45" height="9.73" fill="#0bae8a"/>
<rect x="88.72" y="714.73" width="10.45" height="9.73" fill="#09ad90"/>
<rect x="98.17" y="714.73" width="10.45" height="9.73" fill="#05ad9d"/>
<rect x="107.63" y="714.73" width="10.45" height="9.73" fill="#03ada6"/>
<rect x="117.08" y="714.73" width="10.45" height="9.73" fill="#02ada9"/>
<rect x="126.53" y="714.73" width="10.45" height="9.73" fill="#02acab"/>
<rect x="135.99" y="714.73" width="10.45" height="9.73" fill="#01acaf"/>
<rect x="145.44" y="714.73" width="10.45" height="9.73" fill="#00abb5"/>
<rect x="154.89" y="714.73" width="10.45" height="9.73" fill="#00aac0"/>
<rect x="164.35" y="714.73" width="10.45" height="9.73" fill="#00aac5"/>
<rect x="31.00" y="723.47" width="11.45" height="9.73" fill="#02acae"/>
<rect x="41.45" y="723.47" width="10.45" height="9.73" fill="#02ada9"/>
<rect x="50.91" y="723.47" width="10.45" height="9.73" fill="#04ada3"/>
<rect x="60.36" y="723.47" width="10.45" height="9.73" fill="#05ad9e"/>
<rect x="69.81" y="723.47" width="10.45" height="9.73" fill="#08ad94"/>
<rect x="79.27" y="723.47" width="10.45" height="9.73" fill="#09ad90"/>
<rect x="88.72" y="723.47" width="10.45" height="9.73" fill="#08ad94"/>
<rect x="98.17" y="723.47" width="10.45" height="9.73" fill="#05ad9f"/>
<rect x="107.63" y="723.47" width="10.45" height="9.73" fill="#03ada4"/>
<rect x="117.08" y="723.47" width="10.45" height="9.73" fill="#03ada6"/>
<rect x="126.53" y="723.47" width="10.45" height="9.73" fill="#03ada7"/>
<rect x="135.99" y="723.47" width="10.45" height="9.73" fill="#02acaa"/>
<rect x="145.44" y="723.47" width="10.45" height="9.73" fill="#01abb4"/>
<rect x="154.89" y="723.47" width="10.45" height="9.73" fill="#00a9c7"/>
<rect x="164.35" y="723.47" width="10.45" height="9.73" fill="#00a9d3"/>
<rect x="31.00" y="732.20" width="11.45" height="9.73" fill="#02acac"/>
<rect x="41.45" y="732.20" width="10.45" height="9.73" fill="#03ada8"/>
<rect x="50.91" y="732.20" width="10.45" height="9.73" fill="#03ada3"/>
<rect x="60.36" y="732.20" width="10.45" height="9.73" fill="#04ada1"/>
<rect x="69.81" y="732.20" width="10.45" height="9.73" fill="#05ad9c"/>
<rect x="79.27" y="732.20" width="10.45" height="9.73" fill="#06ad9a"/>
<rect x="88.72" y="732.20" width="10.45" height="9.73" fill="#05ad9d"/>
<rect x="98.17" y="732.20" width="10.45" height="9.73" fill="#04ada1"/>
<rect x="107.63" y="732.20" width="10.45" height="9.73" fill="#03ada3"/>
<rect x="117.08" y="732.20" width="10.45" height="9.73" fill="#03ada4"/>
<rect x="126.53" y="732.20" width="10.45" height="9.73" fill="#03ada5"/>
<rect x="135.99" y="732.20" width="10.45" height="9.73" fill="#03ada8"/>
<rect x="145.44" y="732.20" width="10.45" height="9.73" fill="#01acb3"/>
<rect x="154.89" y="732.20" width="10.45" height="9.73" fill="#00a9cb"/>
<rect x="164.35" y="732.20" width="10.45" height="9.73" fill="#00a9da"/>
<rect x="31.00" y="740.93" width="11.45" height="9.73" fill="#02ada8"/>
<rect x="41.45" y="740.93" width="10.45" height="9.73" fill="#03ada6"/>
<rect x="50.91" y="740.93" width="10.45" height="9.73" fill="#04ada3"/>
<rect x="60.36" y="740.93" width="10.45" height="9.73" fill="#04ada2"/>
<rect x="69.81" y="740.93" width="10.45" height="9.73" fill="#04ada1"/>
<rect x="79.27" y="740.93" width="10.45" height="9.73" fill="#04ada0"/>
<rect x="88.72" y="740.93" width="10.45" height="9.73" fill="#04ada2"/>
<rect x="98.17" y="740.93" width="10.45" height="9.73" fill="#03ada3"/>
<rect x="107.63" y="740.93" width="29.36" height="9.73" fill="#03ada4"/>
<rect x="135.99" y="740.93" width="10.45" height="9.73" fill="#03ada7"/>
<rect x="145.44" y="740.93" width="10.45" height="9.73" fill="#01acb0"/>
<rect x="154.89" y="740.93" width="10.45" height="9.73" fill="#00aac3"/>
<rect x="164.35" y="740.93" width="10.45" height="9.73" fill="#00a9cf"/>
<rect x="31.00" y="749.67" width="11.45" height="9.73" fill="#06ad9a"/>
<rect x="41.45" y="749.67" width="10.45" height="9.73" fill="#07ad97"/>
<rect x="50.91" y="749.67" width="19.91" height="9.73" fill="#07ad95"/>
<rect x="69.81" y="749.67" width="10.45" height="9.73" fill="#07ad96"/>
<rect x="79.27" y="749.67" width="10.45" height="9.73" fill="#07ad97"/>
<rect x="88.72" y="749.67" width="10.45" height="9.73" fill="#06ad9a"/>
<rect x="98.17" y="749.67" width="10.45" height="9.73" fill="#05ad9d"/>
<rect x="107.63" y="749.67" width="10.45" height="9.73" fill="#06ad9b"/>
<rect x="117.08" y="749.67" width="19.91" height="9.73" fill="#06ad99"/>
<rect x="135.99" y="749.67" width="10.45" height="9.73" fill="#06ad9b"/>
<rect x="145.44" y="749.67" width="10.45" height="9.73" fill="#04ada2"/>
<rect x="154.89" y="749.67" width="10.45" height="9.73" fill="#02acad"/>
<rect x="164.35" y="749.67" width="10.45" height="9.73" fill="#01acb3"/>
<rect x="31.00" y="758.40" width="11.45" height="9.73" fill="#09ad91"/>
<rect x="41.45" y="758.40" width="10.45" height="9.73" fill="#09ae8f"/>
<rect x="50.91" y="758.40" width="10.45" height="9.73" fill="#09ae8e"/>
<rect x="60.36" y="758.40" width="10.45" height="9.73" fill="#09ae8f"/>
<rect x="69.81" y="758.40" width="10.45" height="9.73" fill="#09ad90"/>
<rect x="79.27" y="758.40" width="10.45" height="9.73" fill="#08ad93"/>
<rect x="88.72" y="758.40" width="10.45" height="9.73" fill="#06ad9c"/>
<rect x="98.17" y="758.40" width="10.45" height="9.73" fill="#03ada5"/>
<rect x="107.63" y="758.40" width="10.45" height="9.73" fill="#05ad9d"/>
<rect x="117.08" y="758.40" width="10.45" height="9.73" fill="#07ad95"/>
<rect x="126.53" y="758.40" width="19.91" height="9.73" fill="#08ad94"/>
<rect x="145.44" y="758.40" width="10.45" height="9.73" fill="#07ad96"/>
<rect x="154.89" y="758.40" width="10.45" height="9.73" fill="#06ad99"/>
<rect x="164.35" y="758.40" width="10.45" height="9.73" fill="#06ad9a"/>
<rect x="31.00" y="767.13" width="11.45" height="9.73" fill="#0aae8c"/>
<rect x="41.45" y="767.13" width="10.45" height="9.73" fill="#0bae8a"/>
<rect x="50.91" y="767.13" width="10.45" height="9.73" fill="#0cae89"/>
<rect x="60.36" y="767.13" width="10.45" height="9.73" fill="#0bae8a"/>
<rect x="69.81" y="767.13" width="10.45" height="9.73" fill="#0aae8c"/>
<rect x="79.27" y="767.13" width="10.45" height="9.73" fill="#09ad90"/>
<rect x="88.72" y="767.13" width="10.45" height="9.73" fill="#05ad9e"/>
<rect x="98.17" y="767.13" width="10.45" height="9.73" fill="#02acac"/>
<rect x="107.63" y="767.13" width="10.45" height="9.73" fill="#04ada0"/>
<rect x="117.08" y="767.13" width="10.45" height="9.73" fill="#08ad92"/>
<rect x="126.53" y="767.13" width="10.45" height="9.73" fill="#09ad91"/>
<rect x="135.99" y="767.13" width="10.45" height="9.73" fill="#09ad90"/>
<rect x="145.44" y="767.13" width="10.45" height="9.73" fill="#0aae8d"/>
<rect x="154.89" y="767.13" width="10.45" height="9.73" fill="#0eae86"/>
<rect x="164.35" y="767.13" width="10.45" height="9.73" fill="#11ad81"/>
<rect x="31.00" y="775.87" width="11.45" height="9.73" fill="#0cae89"/>
<rect x="41.45" y="775.87" width="10.45" height="9.73" fill="#0dae87"/>
<rect x="50.91" y="775.87" width="10.45" height="9.73" fill="#0eae87"/>
<rect x="60.36" y="775.87" width="10.45" height="9.73" fill="#0dae87"/>
<rect x="69.81" y="775.87" width="10.45" height="9.73" fill="#0cae89"/>
<rect x="79.27" y="775.87" width="10.45" height="9.73" fill="#0aae8d"/>
<rect x="88.72" y="775.87" width="10.45" height="9.73" fill="#07ad98"/>
<rect x="98.17" y="775.87" width="10.45" height="9.73" fill="#03ada6"/>
<rect x="107.63" y="775.87" width="10.45" height="9.73" fill="#06ad9a"/>
<rect x="117.08" y="775.87" width="10.45" height="9.73" fill="#09ae8f"/>
<rect x="126.53" y="775.87" width="10.45" height="9.73" fill="#09ae8e"/>
<rect x="135.99" y="775.87" width="10.45" height="9.73" fill="#0aae8d"/>
<rect x="145.44" y="775.87" width="10.45" height="9.73" fill="#0cae88"/>
<rect x="154.89" y="775.87" width="10.45" height="9.73" fill="#13ad7f"/>
<rect x="164.35" y="775.87" width="10.45" height="9.73" fill="#24af7c"/>
<rect x="31.00" y="784.60" width="11.45" height="9.73" fill="#0cae88"/>
<rect x="41.45" y="784.60" width="10.45" height="9.73" fill="#0dae87"/>
<rect x="50.91" y="784.60" width="10.45" height="9.73" fill="#0eae87"/>
<rect x="60.36" y="784.60" width="10.45" height="9.73" fill="#0dae87"/>
<rect x="69.81" y="784.60" width="10.45" height="9.73" fill="#0cae88"/>
<rect x="79.27" y="784.60" width="10.45" height="9.73" fill="#0bae8a"/>
<rect x="88.72" y="784.60" width="10.45" height="9.73" fill="#0aae8d"/>
<rect x="98.17" y="784.60" width="10.45" height="9.73" fill="#09ad90"/>
<rect x="107.63" y="784.60" width="10.45" height="9.73" fill="#0aae8c"/>
<rect x="117.08" y="784.60" width="29.36" height="9.73" fill="#0bae8b"/>
<rect x="145.44" y="784.60" width="10.45" height="9.73" fill="#0cae89"/>
<rect x="154.89" y="784.60" width="10.45" height="9.73" fill="#0eae86"/>
<rect x="164.35" y="784.60" width="10.45" height="9.73" fill="#10ad83"/>
<rect x="31.00" y="793.33" width="11.45" height="9.73" fill="#0dae88"/>
<rect x="41.45" y="793.33" width="29.36" height="9.73" fill="#0dae87"/>
<rect x="69.81" y="793.33" width="10.45" height="9.73" fill="#0dae88"/>
<rect x="79.27" y="793.33" width="10.45" height="9.73" fill="#0dae87"/>
<rect x="88.72" y="793.33" width="10.45" height="9.73" fill="#10ad83"/>
<rect x="98.17" y="793.33" width="10.45" height="9.73" fill="#17ad7d"/>
<rect x="107.63" y="793.33" width="10.45" height="9.73" fill="#16ad7d"/>
<rect x="117.08" y="793.33" width="10.45" height="9.73" fill="#10ad84"/>
<rect x="126.53" y="793.33" width="10.45" height="9.73" fill="#0dae88"/>
<rect x="135.99" y="793.33" width="19.91" height="9.73" fill="#0cae89"/>
<rect x="154.89" y="793.33" width="19.91" height="9.73" fill="#0dae88"/>
<rect x="31.00" y="802.07" width="49.27" height="9.73" fill="#0eae86"/>
<rect x="79.27" y="802.07" width="10.45" height="9.73" fill="#0fad84"/>
<rect x="88.72" y="802.07" width="10.45" height="9.73" fill="#15ad7d"/>
<rect x="98.17" y="802.07" width="10.45" height="9.73" fill="#3cb27b"/>
<rect x="107.63" y="802.07" width="10.45" height="9.73" fill="#36b17b"/>
<rect x="117.08" y="802.07" width="10.45" height="9.73" fill="#13ad7f"/>
<rect x="126.53" y="802.07" width="10.45" height="9.73" fill="#0fae85"/>
<rect x="135.99" y="802.07" width="38.81" height="9.73" fill="#0eae86"/>
</g>
<rect x="183.00" y="679.80" width="16.10" height="131.00" fill="url(#cb)"/>
<path d="M183.40 679.80V810.80" stroke="#151515" stroke-width="1"/>
<path d="M198.80 679.80V810.80" stroke="#2a2a2a" stroke-width="0.7"/>
<path d="M183.00 680.05H199.10" stroke="#2a2a2a" stroke-width="0.5"/>
<path d="M183.00 810.50H199.10" stroke="#2a2a2a" stroke-width="0.6"/>
<clipPath id="p41"><rect x="262.00" y="679.80" width="141.80" height="131.00"/></clipPath><g clip-path="url(#p41)">
<rect x="261.00" y="678.80" width="11.45" height="10.73" fill="#2990cc"/>
<rect x="271.45" y="678.80" width="10.45" height="10.73" fill="#189bd5"/>
<rect x="280.91" y="678.80" width="10.45" height="10.73" fill="#00a9de"/>
<rect x="290.36" y="678.80" width="10.45" height="10.73" fill="#0ca2d9"/>
<rect x="299.81" y="678.80" width="10.45" height="10.73" fill="#2990cc"/>
<rect x="309.27" y="678.80" width="10.45" height="10.73" fill="#3487c6"/>
<rect x="318.72" y="678.80" width="19.91" height="10.73" fill="#3784c4"/>
<rect x="337.63" y="678.80" width="10.45" height="10.73" fill="#2e8cc9"/>
<rect x="347.08" y="678.80" width="10.45" height="10.73" fill="#1e97d2"/>
<rect x="356.53" y="678.80" width="10.45" height="10.73" fill="#2393cf"/>
<rect x="365.99" y="678.80" width="19.91" height="10.73" fill="#2e8cc9"/>
<rect x="384.89" y="678.80" width="10.45" height="10.73" fill="#318ac7"/>
<rect x="394.35" y="678.80" width="10.45" height="10.73" fill="#3c7fc0"/>
<rect x="261.00" y="688.53" width="11.45" height="9.73" fill="#1e97d2"/>
<rect x="271.45" y="688.53" width="10.45" height="9.73" fill="#0ca2d9"/>
<rect x="280.91" y="688.53" width="10.45" height="9.73" fill="#00a9de"/>
<rect x="290.36" y="688.53" width="10.45" height="9.73" fill="#0ca2d9"/>
<rect x="299.81" y="688.53" width="10.45" height="9.73" fill="#2393cf"/>
<rect x="309.27" y="688.53" width="10.45" height="9.73" fill="#318ac7"/>
<rect x="318.72" y="688.53" width="10.45" height="9.73" fill="#3784c4"/>
<rect x="328.17" y="688.53" width="10.45" height="9.73" fill="#318ac7"/>
<rect x="337.63" y="688.53" width="10.45" height="9.73" fill="#2393cf"/>
<rect x="347.08" y="688.53" width="19.91" height="9.73" fill="#0ca2d9"/>
<rect x="365.99" y="688.53" width="10.45" height="9.73" fill="#189bd5"/>
<rect x="375.44" y="688.53" width="10.45" height="9.73" fill="#1e97d2"/>
<rect x="384.89" y="688.53" width="10.45" height="9.73" fill="#3a82c2"/>
<rect x="394.35" y="688.53" width="10.45" height="9.73" fill="#3b60ab"/>
<rect x="261.00" y="697.27" width="11.45" height="9.73" fill="#189bd5"/>
<rect x="271.45" y="697.27" width="19.91" height="9.73" fill="#00a9de"/>
<rect x="290.36" y="697.27" width="10.45" height="9.73" fill="#0ca2d9"/>
<rect x="299.81" y="697.27" width="10.45" height="9.73" fill="#2393cf"/>
<rect x="309.27" y="697.27" width="10.45" height="9.73" fill="#318ac7"/>
<rect x="318.72" y="697.27" width="10.45" height="9.73" fill="#3784c4"/>
<rect x="328.17" y="697.27" width="10.45" height="9.73" fill="#2990cc"/>
<rect x="337.63" y="697.27" width="10.45" height="9.73" fill="#189bd5"/>
<rect x="347.08" y="697.27" width="19.91" height="9.73" fill="#00a9de"/>
<rect x="365.99" y="697.27" width="10.45" height="9.73" fill="#0ca2d9"/>
<rect x="375.44" y="697.27" width="10.45" height="9.73" fill="#1e97d2"/>
<rect x="384.89" y="697.27" width="10.45" height="9.73" fill="#3d66af"/>
<rect x="394.35" y="697.27" width="10.45" height="9.73" fill="#304298"/>
<rect x="261.00" y="706.00" width="11.45" height="9.73" fill="#0ca2d9"/>
<rect x="271.45" y="706.00" width="19.91" height="9.73" fill="#00a9de"/>
<rect x="290.36" y="706.00" width="10.45" height="9.73" fill="#189bd5"/>
<rect x="299.81" y="706.00" width="10.45" height="9.73" fill="#2393cf"/>
<rect x="309.27" y="706.00" width="10.45" height="9.73" fill="#3487c6"/>
<rect x="318.72" y="706.00" width="10.45" height="9.73" fill="#3784c4"/>
<rect x="328.17" y="706.00" width="10.45" height="9.73" fill="#2e8cc9"/>
<rect x="337.63" y="706.00" width="10.45" height="9.73" fill="#2393cf"/>
<rect x="347.08" y="706.00" width="29.36" height="9.73" fill="#1e97d2"/>
<rect x="375.44" y="706.00" width="10.45" height="9.73" fill="#318ac7"/>
<rect x="384.89" y="706.00" width="10.45" height="9.73" fill="#3752a2"/>
<rect x="394.35" y="706.00" width="10.45" height="9.73" fill="#353597"/>
<rect x="261.00" y="714.73" width="11.45" height="9.73" fill="#0ca2d9"/>
<rect x="271.45" y="714.73" width="19.91" height="9.73" fill="#00a9de"/>
<rect x="290.36" y="714.73" width="10.45" height="9.73" fill="#189bd5"/>
<rect x="299.81" y="714.73" width="10.45" height="9.73" fill="#2393cf"/>
<rect x="309.27" y="714.73" width="10.45" height="9.73" fill="#2e8cc9"/>
<rect x="318.72" y="714.73" width="10.45" height="9.73" fill="#318ac7"/>
<rect x="328.17" y="714.73" width="10.45" height="9.73" fill="#2e8cc9"/>
<rect x="337.63" y="714.73" width="10.45" height="9.73" fill="#2990cc"/>
<rect x="347.08" y="714.73" width="10.45" height="9.73" fill="#2e8cc9"/>
<rect x="356.53" y="714.73" width="10.45" height="9.73" fill="#318ac7"/>
<rect x="365.99" y="714.73" width="10.45" height="9.73" fill="#3487c6"/>
<rect x="375.44" y="714.73" width="10.45" height="9.73" fill="#3c7fc0"/>
<rect x="384.89" y="714.73" width="10.45" height="9.73" fill="#3a5ba8"/>
<rect x="394.35" y="714.73" width="10.45" height="9.73" fill="#31469a"/>
<rect x="261.00" y="723.47" width="11.45" height="9.73" fill="#0ca2d9"/>
<rect x="271.45" y="723.47" width="19.91" height="9.73" fill="#00a9de"/>
<rect x="290.36" y="723.47" width="10.45" height="9.73" fill="#0ca2d9"/>
<rect x="299.81" y="723.47" width="10.45" height="9.73" fill="#1e97d2"/>
<rect x="309.27" y="723.47" width="19.91" height="9.73" fill="#2990cc"/>
<rect x="328.17" y="723.47" width="10.45" height="9.73" fill="#2393cf"/>
<rect x="337.63" y="723.47" width="10.45" height="9.73" fill="#2990cc"/>
<rect x="347.08" y="723.47" width="10.45" height="9.73" fill="#3784c4"/>
<rect x="356.53" y="723.47" width="19.91" height="9.73" fill="#3c7fc0"/>
<rect x="375.44" y="723.47" width="10.45" height="9.73" fill="#3d7dbf"/>
<rect x="384.89" y="723.47" width="10.45" height="9.73" fill="#3f77bb"/>
<rect x="394.35" y="723.47" width="10.45" height="9.73" fill="#3f70b6"/>
<rect x="261.00" y="732.20" width="11.45" height="9.73" fill="#0ca2d9"/>
<rect x="271.45" y="732.20" width="29.36" height="9.73" fill="#00a9de"/>
<rect x="299.81" y="732.20" width="10.45" height="9.73" fill="#189bd5"/>
<rect x="309.27" y="732.20" width="19.91" height="9.73" fill="#2393cf"/>
<rect x="328.17" y="732.20" width="19.91" height="9.73" fill="#1e97d2"/>
<rect x="347.08" y="732.20" width="10.45" height="9.73" fill="#2990cc"/>
<rect x="356.53" y="732.20" width="19.91" height="9.73" fill="#318ac7"/>
<rect x="375.44" y="732.20" width="10.45" height="9.73" fill="#2e8cc9"/>
<rect x="384.89" y="732.20" width="10.45" height="9.73" fill="#2990cc"/>
<rect x="394.35" y="732.20" width="10.45" height="9.73" fill="#2e8cc9"/>
<rect x="261.00" y="740.93" width="11.45" height="9.73" fill="#189bd5"/>
<rect x="271.45" y="740.93" width="10.45" height="9.73" fill="#0ca2d9"/>
<rect x="280.91" y="740.93" width="19.91" height="9.73" fill="#00a9de"/>
<rect x="299.81" y="740.93" width="10.45" height="9.73" fill="#0ca2d9"/>
<rect x="309.27" y="740.93" width="10.45" height="9.73" fill="#2393cf"/>
<rect x="318.72" y="740.93" width="10.45" height="9.73" fill="#2990cc"/>
<rect x="328.17" y="740.93" width="10.45" height="9.73" fill="#2393cf"/>
<rect x="337.63" y="740.93" width="19.91" height="9.73" fill="#189bd5"/>
<rect x="356.53" y="740.93" width="19.91" height="9.73" fill="#1e97d2"/>
<rect x="375.44" y="740.93" width="10.45" height="9.73" fill="#189bd5"/>
<rect x="384.89" y="740.93" width="19.91" height="9.73" fill="#00a9de"/>
<rect x="261.00" y="749.67" width="20.91" height="9.73" fill="#189bd5"/>
<rect x="280.91" y="749.67" width="10.45" height="9.73" fill="#0ca2d9"/>
<rect x="290.36" y="749.67" width="10.45" height="9.73" fill="#00a9de"/>
<rect x="299.81" y="749.67" width="10.45" height="9.73" fill="#0ca2d9"/>
<rect x="309.27" y="749.67" width="10.45" height="9.73" fill="#2393cf"/>
<rect x="318.72" y="749.67" width="10.45" height="9.73" fill="#2990cc"/>
<rect x="328.17" y="749.67" width="10.45" height="9.73" fill="#2393cf"/>
<rect x="337.63" y="749.67" width="19.91" height="9.73" fill="#189bd5"/>
<rect x="356.53" y="749.67" width="19.91" height="9.73" fill="#1e97d2"/>
<rect x="375.44" y="749.67" width="10.45" height="9.73" fill="#189bd5"/>
<rect x="384.89" y="749.67" width="10.45" height="9.73" fill="#0ca2d9"/>
<rect x="394.35" y="749.67" width="10.45" height="9.73" fill="#00a9de"/>
<rect x="261.00" y="758.40" width="20.91" height="9.73" fill="#1e97d2"/>
<rect x="280.91" y="758.40" width="19.91" height="9.73" fill="#189bd5"/>
<rect x="299.81" y="758.40" width="10.45" height="9.73" fill="#1e97d2"/>
<rect x="309.27" y="758.40" width="19.91" height="9.73" fill="#2e8cc9"/>
<rect x="328.17" y="758.40" width="10.45" height="9.73" fill="#2990cc"/>
<rect x="337.63" y="758.40" width="19.91" height="9.73" fill="#1e97d2"/>
<rect x="356.53" y="758.40" width="10.45" height="9.73" fill="#2393cf"/>
<rect x="365.99" y="758.40" width="19.91" height="9.73" fill="#2990cc"/>
<rect x="384.89" y="758.40" width="19.91" height="9.73" fill="#2393cf"/>
<rect x="261.00" y="767.13" width="11.45" height="9.73" fill="#1e97d2"/>
<rect x="271.45" y="767.13" width="10.45" height="9.73" fill="#2393cf"/>
<rect x="280.91" y="767.13" width="29.36" height="9.73" fill="#2990cc"/>
<rect x="309.27" y="767.13" width="19.91" height="9.73" fill="#2e8cc9"/>
<rect x="328.17" y="767.13" width="10.45" height="9.73" fill="#2990cc"/>
<rect x="337.63" y="767.13" width="19.91" height="9.73" fill="#2393cf"/>
<rect x="356.53" y="767.13" width="10.45" height="9.73" fill="#2990cc"/>
<rect x="365.99" y="767.13" width="19.91" height="9.73" fill="#2e8cc9"/>
<rect x="384.89" y="767.13" width="19.91" height="9.73" fill="#318ac7"/>
<rect x="261.00" y="775.87" width="11.45" height="9.73" fill="#1e97d2"/>
<rect x="271.45" y="775.87" width="10.45" height="9.73" fill="#2393cf"/>
<rect x="280.91" y="775.87" width="57.72" height="9.73" fill="#2990cc"/>
<rect x="337.63" y="775.87" width="19.91" height="9.73" fill="#2393cf"/>
<rect x="356.53" y="775.87" width="10.45" height="9.73" fill="#2990cc"/>
<rect x="365.99" y="775.87" width="10.45" height="9.73" fill="#2e8cc9"/>
<rect x="375.44" y="775.87" width="10.45" height="9.73" fill="#318ac7"/>
<rect x="384.89" y="775.87" width="19.91" height="9.73" fill="#3487c6"/>
<rect x="261.00" y="784.60" width="11.45" height="9.73" fill="#1e97d2"/>
<rect x="271.45" y="784.60" width="10.45" height="9.73" fill="#2393cf"/>
<rect x="280.91" y="784.60" width="29.36" height="9.73" fill="#2e8cc9"/>
<rect x="309.27" y="784.60" width="29.36" height="9.73" fill="#2990cc"/>
<rect x="337.63" y="784.60" width="10.45" height="9.73" fill="#2393cf"/>
<rect x="347.08" y="784.60" width="19.91" height="9.73" fill="#2990cc"/>
<rect x="365.99" y="784.60" width="10.45" height="9.73" fill="#2e8cc9"/>
<rect x="375.44" y="784.60" width="10.45" height="9.73" fill="#318ac7"/>
<rect x="384.89" y="784.60" width="19.91" height="9.73" fill="#3487c6"/>
<rect x="261.00" y="793.33" width="11.45" height="9.73" fill="#2990cc"/>
<rect x="271.45" y="793.33" width="10.45" height="9.73" fill="#2e8cc9"/>
<rect x="280.91" y="793.33" width="19.91" height="9.73" fill="#318ac7"/>
<rect x="299.81" y="793.33" width="19.91" height="9.73" fill="#2e8cc9"/>
<rect x="318.72" y="793.33" width="86.08" height="9.73" fill="#2990cc"/>
<rect x="261.00" y="802.07" width="11.45" height="9.73" fill="#2e8cc9"/>
<rect x="271.45" y="802.07" width="10.45" height="9.73" fill="#3487c6"/>
<rect x="280.91" y="802.07" width="19.91" height="9.73" fill="#3784c4"/>
<rect x="299.81" y="802.07" width="19.91" height="9.73" fill="#3487c6"/>
<rect x="318.72" y="802.07" width="38.81" height="9.73" fill="#2e8cc9"/>
<rect x="356.53" y="802.07" width="10.45" height="9.73" fill="#2990cc"/>
<rect x="365.99" y="802.07" width="10.45" height="9.73" fill="#2393cf"/>
<rect x="375.44" y="802.07" width="19.91" height="9.73" fill="#1e97d2"/>
<rect x="394.35" y="802.07" width="10.45" height="9.73" fill="#189bd5"/>
</g>
<rect x="413.00" y="679.80" width="16.10" height="131.00" fill="url(#cb)"/>
<path d="M413.40 679.80V810.80" stroke="#151515" stroke-width="1"/>
<path d="M428.80 679.80V810.80" stroke="#2a2a2a" stroke-width="0.7"/>
<path d="M413.00 680.05H429.10" stroke="#2a2a2a" stroke-width="0.5"/>
<path d="M413.00 810.50H429.10" stroke="#2a2a2a" stroke-width="0.6"/>
<clipPath id="p42"><rect x="492.00" y="679.80" width="141.80" height="131.00"/></clipPath><g clip-path="url(#p42)">
<rect x="491.00" y="678.80" width="11.45" height="10.73" fill="#1e97d2"/>
<rect x="501.45" y="678.80" width="10.45" height="10.73" fill="#00abbb"/>
<rect x="510.91" y="678.80" width="10.45" height="10.73" fill="#06ad9c"/>
<rect x="520.36" y="678.80" width="10.45" height="10.73" fill="#05ad9e"/>
<rect x="529.81" y="678.80" width="10.45" height="10.73" fill="#03ada7"/>
<rect x="539.27" y="678.80" width="10.45" height="10.73" fill="#02acac"/>
<rect x="548.72" y="678.80" width="10.45" height="10.73" fill="#03ada7"/>
<rect x="558.17" y="678.80" width="10.45" height="10.73" fill="#05ad9f"/>
<rect x="567.63" y="678.80" width="19.91" height="10.73" fill="#05ad9d"/>
<rect x="586.53" y="678.80" width="10.45" height="10.73" fill="#05ad9c"/>
<rect x="595.99" y="678.80" width="10.45" height="10.73" fill="#06ad9b"/>
<rect x="605.44" y="678.80" width="10.45" height="10.73" fill="#06ad99"/>
<rect x="614.89" y="678.80" width="10.45" height="10.73" fill="#07ad98"/>
<rect x="624.35" y="678.80" width="10.45" height="10.73" fill="#06ad99"/>
<rect x="491.00" y="688.53" width="11.45" height="9.73" fill="#00aac2"/>
<rect x="501.45" y="688.53" width="19.91" height="9.73" fill="#05ad9e"/>
<rect x="520.36" y="688.53" width="10.45" height="9.73" fill="#04ada1"/>
<rect x="529.81" y="688.53" width="10.45" height="9.73" fill="#02acab"/>
<rect x="539.27" y="688.53" width="10.45" height="9.73" fill="#01acb3"/>
<rect x="548.72" y="688.53" width="10.45" height="9.73" fill="#02acac"/>
<rect x="558.17" y="688.53" width="10.45" height="9.73" fill="#03ada4"/>
<rect x="567.63" y="688.53" width="10.45" height="9.73" fill="#04ada2"/>
<rect x="577.08" y="688.53" width="10.45" height="9.73" fill="#04ada1"/>
<rect x="586.53" y="688.53" width="10.45" height="9.73" fill="#04ada0"/>
<rect x="595.99" y="688.53" width="10.45" height="9.73" fill="#05ad9d"/>
<rect x="605.44" y="688.53" width="10.45" height="9.73" fill="#06ad99"/>
<rect x="614.89" y="688.53" width="10.45" height="9.73" fill="#07ad98"/>
<rect x="624.35" y="688.53" width="10.45" height="9.73" fill="#06ad99"/>
<rect x="491.00" y="697.27" width="11.45" height="9.73" fill="#04ada2"/>
<rect x="501.45" y="697.27" width="10.45" height="9.73" fill="#04ada0"/>
<rect x="510.91" y="697.27" width="10.45" height="9.73" fill="#05ad9e"/>
<rect x="520.36" y="697.27" width="10.45" height="9.73" fill="#05ada0"/>
<rect x="529.81" y="697.27" width="10.45" height="9.73" fill="#03ada8"/>
<rect x="539.27" y="697.27" width="10.45" height="9.73" fill="#01acaf"/>
<rect x="548.72" y="697.27" width="10.45" height="9.73" fill="#02acab"/>
<rect x="558.17" y="697.27" width="29.36" height="9.73" fill="#03ada6"/>
<rect x="586.53" y="697.27" width="10.45" height="9.73" fill="#03ada5"/>
<rect x="595.99" y="697.27" width="10.45" height="9.73" fill="#04ada0"/>
<rect x="605.44" y="697.27" width="10.45" height="9.73" fill="#05ad9c"/>
<rect x="614.89" y="697.27" width="10.45" height="9.73" fill="#06ad9b"/>
<rect x="624.35" y="697.27" width="10.45" height="9.73" fill="#05ad9d"/>
<rect x="491.00" y="706.00" width="11.45" height="9.73" fill="#04ada3"/>
<rect x="501.45" y="706.00" width="10.45" height="9.73" fill="#04ada0"/>
<rect x="510.91" y="706.00" width="10.45" height="9.73" fill="#06ad9c"/>
<rect x="520.36" y="706.00" width="10.45" height="9.73" fill="#06ad9a"/>
<rect x="529.81" y="706.00" width="10.45" height="9.73" fill="#05ad9e"/>
<rect x="539.27" y="706.00" width="10.45" height="9.73" fill="#03ada5"/>
<rect x="548.72" y="706.00" width="10.45" height="9.73" fill="#03ada6"/>
<rect x="558.17" y="706.00" width="10.45" height="9.73" fill="#03ada8"/>
<rect x="567.63" y="706.00" width="10.45" height="9.73" fill="#02adaa"/>
<rect x="577.08" y="706.00" width="10.45" height="9.73" fill="#02acaa"/>
<rect x="586.53" y="706.00" width="10.45" height="9.73" fill="#02ada9"/>
<rect x="595.99" y="706.00" width="10.45" height="9.73" fill="#03ada5"/>
<rect x="605.44" y="706.00" width="10.45" height="9.73" fill="#04ada2"/>
<rect x="614.89" y="706.00" width="10.45" height="9.73" fill="#04ada3"/>
<rect x="624.35" y="706.00" width="10.45" height="9.73" fill="#03ada4"/>
<rect x="491.00" y="714.73" width="11.45" height="9.73" fill="#03ada4"/>
<rect x="501.45" y="714.73" width="10.45" height="9.73" fill="#05ad9f"/>
<rect x="510.91" y="714.73" width="10.45" height="9.73" fill="#07ad98"/>
<rect x="520.36" y="714.73" width="10.45" height="9.73" fill="#08ad94"/>
<rect x="529.81" y="714.73" width="10.45" height="9.73" fill="#07ad95"/>
<rect x="539.27" y="714.73" width="10.45" height="9.73" fill="#06ad9b"/>
<rect x="548.72" y="714.73" width="10.45" height="9.73" fill="#03ada3"/>
<rect x="558.17" y="714.73" width="10.45" height="9.73" fill="#02adaa"/>
<rect x="567.63" y="714.73" width="10.45" height="9.73" fill="#02acae"/>
<rect x="577.08" y="714.73" width="10.45" height="9.73" fill="#01acaf"/>
<rect x="586.53" y="714.73" width="10.45" height="9.73" fill="#02acad"/>
<rect x="595.99" y="714.73" width="10.45" height="9.73" fill="#03ada7"/>
<rect x="605.44" y="714.73" width="10.45" height="9.73" fill="#03ada5"/>
<rect x="614.89" y="714.73" width="10.45" height="9.73" fill="#03ada8"/>
<rect x="624.35" y="714.73" width="10.45" height="9.73" fill="#02ada9"/>
<rect x="491.00" y="723.47" width="11.45" height="9.73" fill="#03ada6"/>
<rect x="501.45" y="723.47" width="10.45" height="9.73" fill="#05ad9f"/>
<rect x="510.91" y="723.47" width="10.45" height="9.73" fill="#07ad97"/>
<rect x="520.36" y="723.47" width="19.91" height="9.73" fill="#08ad92"/>
<rect x="539.27" y="723.47" width="10.45" height="9.73" fill="#06ad99"/>
<rect x="548.72" y="723.47" width="10.45" height="9.73" fill="#03ada4"/>
<rect x="558.17" y="723.47" width="10.45" height="9.73" fill="#02acad"/>
<rect x="567.63" y="723.47" width="10.45" height="9.73" fill="#01acb3"/>
<rect x="577.08" y="723.47" width="10.45" height="9.73" fill="#01abb5"/>
<rect x="586.53" y="723.47" width="10.45" height="9.73" fill="#01acb1"/>
<rect x="595.99" y="723.47" width="10.45" height="9.73" fill="#02ada8"/>
<rect x="605.44" y="723.47" width="10.45" height="9.73" fill="#03ada6"/>
<rect x="614.89" y="723.47" width="10.45" height="9.73" fill="#02acab"/>
<rect x="624.35" y="723.47" width="10.45" height="9.73" fill="#02acac"/>
<rect x="491.00" y="732.20" width="11.45" height="9.73" fill="#02ada9"/>
<rect x="501.45" y="732.20" width="10.45" height="9.73" fill="#04ada3"/>
<rect x="510.91" y="732.20" width="10.45" height="9.73" fill="#06ad9a"/>
<rect x="520.36" y="732.20" width="10.45" height="9.73" fill="#07ad95"/>
<rect x="529.81" y="732.20" width="10.45" height="9.73" fill="#07ad96"/>
<rect x="539.27" y="732.20" width="10.45" height="9.73" fill="#05ad9d"/>
<rect x="548.72" y="732.20" width="10.45" height="9.73" fill="#02ada8"/>
<rect x="558.17" y="732.20" width="10.45" height="9.73" fill="#01acb2"/>
<rect x="567.63" y="732.20" width="10.45" height="9.73" fill="#00abb9"/>
<rect x="577.08" y="732.20" width="10.45" height="9.73" fill="#00abbb"/>
<rect x="586.53" y="732.20" width="10.45" height="9.73" fill="#00abb6"/>
<rect x="595.99" y="732.20" width="10.45" height="9.73" fill="#02adaa"/>
<rect x="605.44" y="732.20" width="10.45" height="9.73" fill="#03ada7"/>
<rect x="614.89" y="732.20" width="10.45" height="9.73" fill="#02acad"/>
<rect x="624.35" y="732.20" width="10.45" height="9.73" fill="#01acaf"/>
<rect x="491.00" y="740.93" width="11.45" height="9.73" fill="#02acad"/>
<rect x="501.45" y="740.93" width="10.45" height="9.73" fill="#02ada9"/>
<rect x="510.91" y="740.93" width="10.45" height="9.73" fill="#03ada3"/>
<rect x="520.36" y="740.93" width="10.45" height="9.73" fill="#05ad9f"/>
<rect x="529.81" y="740.93" width="10.45" height="9.73" fill="#04ada0"/>
<rect x="539.27" y="740.93" width="10.45" height="9.73" fill="#03ada6"/>
<rect x="548.72" y="740.93" width="10.45" height="9.73" fill="#01acaf"/>
<rect x="558.17" y="740.93" width="10.45" height="9.73" fill="#00abb8"/>
<rect x="567.63" y="740.93" width="10.45" height="9.73" fill="#00aac0"/>
<rect x="577.08" y="740.93" width="10.45" height="9.73" fill="#00aac2"/>
<rect x="586.53" y="740.93" width="10.45" height="9.73" fill="#00abbb"/>
<rect x="595.99" y="740.93" width="10.45" height="9.73" fill="#02acac"/>
<rect x="605.44" y="740.93" width="10.45" height="9.73" fill="#02ada9"/>
<rect x="614.89" y="740.93" width="10.45" height="9.73" fill="#01acb0"/>
<rect x="624.35" y="740.93" width="10.45" height="9.73" fill="#01acb2"/>
<rect x="491.00" y="749.67" width="11.45" height="9.73" fill="#01acb2"/>
<rect x="501.45" y="749.67" width="10.45" height="9.73" fill="#01acaf"/>
<rect x="510.91" y="749.67" width="10.45" height="9.73" fill="#02acac"/>
<rect x="520.36" y="749.67" width="10.45" height="9.73" fill="#02acaa"/>
<rect x="529.81" y="749.67" width="10.45" height="9.73" fill="#02acab"/>
<rect x="539.27" y="749.67" width="10.45" height="9.73" fill="#01acaf"/>
<rect x="548.72" y="749.67" width="10.45" height="9.73" fill="#00abb6"/>
<rect x="558.17" y="749.67" width="10.45" height="9.73" fill="#00aac0"/>
<rect x="567.63" y="749.67" width="10.45" height="9.73" fill="#00a9c7"/>
<rect x="577.08" y="749.67" width="10.45" height="9.73" fill="#00a9c8"/>
<rect x="586.53" y="749.67" width="10.45" height="9.73" fill="#00aac0"/>
<rect x="595.99" y="749.67" width="10.45" height="9.73" fill="#01acb1"/>
<rect x="605.44" y="749.67" width="10.45" height="9.73" fill="#02acad"/>
<rect x="614.89" y="749.67" width="10.45" height="9.73" fill="#01acb3"/>
<rect x="624.35" y="749.67" width="10.45" height="9.73" fill="#01abb4"/>
<rect x="491.00" y="758.40" width="11.45" height="9.73" fill="#00abb8"/>
<rect x="501.45" y="758.40" width="10.45" height="9.73" fill="#00abb5"/>
<rect x="510.91" y="758.40" width="10.45" height="9.73" fill="#01acb3"/>
<rect x="520.36" y="758.40" width="10.45" height="9.73" fill="#01acb2"/>
<rect x="529.81" y="758.40" width="10.45" height="9.73" fill="#01acb3"/>
<rect x="539.27" y="758.40" width="10.45" height="9.73" fill="#00abb6"/>
<rect x="548.72" y="758.40" width="10.45" height="9.73" fill="#00abbc"/>
<rect x="558.17" y="758.40" width="10.45" height="9.73" fill="#00aac5"/>
<rect x="567.63" y="758.40" width="10.45" height="9.73" fill="#00a9cc"/>
<rect x="577.08" y="758.40" width="10.45" height="9.73" fill="#00a9cd"/>
<rect x="586.53" y="758.40" width="10.45" height="9.73" fill="#00aac5"/>
<rect x="595.99" y="758.40" width="10.45" height="9.73" fill="#00abb7"/>
<rect x="605.44" y="758.40" width="10.45" height="9.73" fill="#01acb2"/>
<rect x="614.89" y="758.40" width="10.45" height="9.73" fill="#00abb6"/>
<rect x="624.35" y="758.40" width="10.45" height="9.73" fill="#00abb7"/>
<rect x="491.00" y="767.13" width="11.45" height="9.73" fill="#00aabf"/>
<rect x="501.45" y="767.13" width="10.45" height="9.73" fill="#00abbb"/>
<rect x="510.91" y="767.13" width="19.91" height="9.73" fill="#00abb8"/>
<rect x="529.81" y="767.13" width="10.45" height="9.73" fill="#00abb9"/>
<rect x="539.27" y="767.13" width="10.45" height="9.73" fill="#00abbc"/>
<rect x="548.72" y="767.13" width="10.45" height="9.73" fill="#00aac1"/>
<rect x="558.17" y="767.13" width="10.45" height="9.73" fill="#00a9c9"/>
<rect x="567.63" y="767.13" width="19.91" height="9.73" fill="#00a9d0"/>
<rect x="586.53" y="767.13" width="10.45" height="9.73" fill="#00a9c9"/>
<rect x="595.99" y="767.13" width="10.45" height="9.73" fill="#00aabd"/>
<rect x="605.44" y="767.13" width="10.45" height="9.73" fill="#00abb8"/>
<rect x="614.89" y="767.13" width="19.91" height="9.73" fill="#00abba"/>
<rect x="491.00" y="775.87" width="11.45" height="9.73" fill="#00a9c7"/>
<rect x="501.45" y="775.87" width="10.45" height="9.73" fill="#00aac1"/>
<rect x="510.91" y="775.87" width="10.45" height="9.73" fill="#00aabd"/>
<rect x="520.36" y="775.87" width="10.45" height="9.73" fill="#00abbd"/>
<rect x="529.81" y="775.87" width="10.45" height="9.73" fill="#00aabe"/>
<rect x="539.27" y="775.87" width="10.45" height="9.73" fill="#00aac0"/>
<rect x="548.72" y="775.87" width="10.45" height="9.73" fill="#00aac5"/>
<rect x="558.17" y="775.87" width="10.45" height="9.73" fill="#00a9cb"/>
<rect x="567.63" y="775.87" width="19.91" height="9.73" fill="#00a9d1"/>
<rect x="586.53" y="775.87" width="10.45" height="9.73" fill="#00a9cb"/>
<rect x="595.99" y="775.87" width="10.45" height="9.73" fill="#00aac2"/>
<rect x="605.44" y="775.87" width="19.91" height="9.73" fill="#00aabe"/>
<rect x="624.35" y="775.87" width="10.45" height="9.73" fill="#00aabd"/>
<rect x="491.00" y="784.60" width="11.45" height="9.73" fill="#00a9ce"/>
<rect x="501.45" y="784.60" width="10.45" height="9.73" fill="#00aac5"/>
<rect x="510.91" y="784.60" width="29.36" height="9.73" fill="#00aac1"/>
<rect x="539.27" y="784.60" width="10.45" height="9.73" fill="#00aac3"/>
<rect x="548.72" y="784.60" width="10.45" height="9.73" fill="#00aac7"/>
<rect x="558.17" y="784.60" width="10.45" height="9.73" fill="#00a9cc"/>
<rect x="567.63" y="784.60" width="19.91" height="9.73" fill="#00a9d1"/>
<rect x="586.53" y="784.60" width="10.45" height="9.73" fill="#00a9cc"/>
<rect x="595.99" y="784.60" width="10.45" height="9.73" fill="#00aac6"/>
<rect x="605.44" y="784.60" width="10.45" height="9.73" fill="#00aac2"/>
<rect x="614.89" y="784.60" width="19.91" height="9.73" fill="#00aac1"/>
<rect x="491.00" y="793.33" width="11.45" height="9.73" fill="#00a9d1"/>
<rect x="501.45" y="793.33" width="10.45" height="9.73" fill="#00a9c9"/>
<rect x="510.91" y="793.33" width="19.91" height="9.73" fill="#00aac4"/>
<rect x="529.81" y="793.33" width="10.45" height="9.73" fill="#00aac5"/>
<rect x="539.27" y="793.33" width="10.45" height="9.73" fill="#00aac6"/>
<rect x="548.72" y="793.33" width="10.45" height="9.73" fill="#00a9c9"/>
<rect x="558.17" y="793.33" width="10.45" height="9.73" fill="#00a9cd"/>
<rect x="567.63" y="793.33" width="19.91" height="9.73" fill="#00a9d0"/>
<rect x="586.53" y="793.33" width="10.45" height="9.73" fill="#00a9cd"/>
<rect x="595.99" y="793.33" width="10.45" height="9.73" fill="#00a9c8"/>
<rect x="605.44" y="793.33" width="10.45" height="9.73" fill="#00aac6"/>
<rect x="614.89" y="793.33" width="19.91" height="9.73" fill="#00aac4"/>
<rect x="491.00" y="802.07" width="11.45" height="9.73" fill="#00a9d2"/>
<rect x="501.45" y="802.07" width="10.45" height="9.73" fill="#00a9cb"/>
<rect x="510.91" y="802.07" width="10.45" height="9.73" fill="#00a9c8"/>
<rect x="520.36" y="802.07" width="10.45" height="9.73" fill="#00a9c7"/>
<rect x="529.81" y="802.07" width="10.45" height="9.73" fill="#00a9c8"/>
<rect x="539.27" y="802.07" width="10.45" height="9.73" fill="#00a9c9"/>
<rect x="548.72" y="802.07" width="10.45" height="9.73" fill="#00a9cb"/>
<rect x="558.17" y="802.07" width="10.45" height="9.73" fill="#00a9cd"/>
<rect x="567.63" y="802.07" width="19.91" height="9.73" fill="#00a9d0"/>
<rect x="586.53" y="802.07" width="10.45" height="9.73" fill="#00a9cd"/>
<rect x="595.99" y="802.07" width="10.45" height="9.73" fill="#00a9ca"/>
<rect x="605.44" y="802.07" width="10.45" height="9.73" fill="#00a9c9"/>
<rect x="614.89" y="802.07" width="10.45" height="9.73" fill="#00a9c8"/>
<rect x="624.35" y="802.07" width="10.45" height="9.73" fill="#00a9c7"/>
</g>
<rect x="643.00" y="679.80" width="16.10" height="131.00" fill="url(#cb)"/>
<path d="M643.40 679.80V810.80" stroke="#151515" stroke-width="1"/>
<path d="M658.80 679.80V810.80" stroke="#2a2a2a" stroke-width="0.7"/>
<path d="M643.00 680.05H659.10" stroke="#2a2a2a" stroke-width="0.5"/>
<path d="M643.00 810.50H659.10" stroke="#2a2a2a" stroke-width="0.6"/>
<rect x="197.10" y="52.25" width="1.6" height="0.9" fill="#1c1c1c"/>
<text class="k" x="203.6" y="57.6">50</text>
<rect x="197.10" y="84.85" width="1.6" height="0.9" fill="#1c1c1c"/>
<text class="k" x="203.6" y="90.2">0</text>
<rect x="197.10" y="117.75" width="1.6" height="0.9" fill="#1c1c1c"/>
<text class="k" x="203.6" y="123.1">-50</text>
<rect x="427.10" y="52.25" width="1.6" height="0.9" fill="#1c1c1c"/>
<text class="k" x="433.6" y="57.6">50</text>
<rect x="427.10" y="84.85" width="1.6" height="0.9" fill="#1c1c1c"/>
<text class="k" x="433.6" y="90.2">0</text>
<rect x="427.10" y="117.75" width="1.6" height="0.9" fill="#1c1c1c"/>
<text class="k" x="433.6" y="123.1">-50</text>
<rect x="657.10" y="52.25" width="1.6" height="0.9" fill="#1c1c1c"/>
<text class="k" x="663.6" y="57.6">50</text>
<rect x="657.10" y="84.85" width="1.6" height="0.9" fill="#1c1c1c"/>
<text class="k" x="663.6" y="90.2">0</text>
<rect x="657.10" y="117.75" width="1.6" height="0.9" fill="#1c1c1c"/>
<text class="k" x="663.6" y="123.1">-50</text>
<rect x="197.10" y="185.05" width="1.6" height="0.9" fill="#1c1c1c"/>
<text class="k" x="203.6" y="191.5">100</text>
<rect x="197.10" y="218.15" width="1.6" height="0.9" fill="#1c1c1c"/>
<text class="k" x="203.6" y="223.0">50</text>
<rect x="197.10" y="250.05" width="1.6" height="0.9" fill="#1c1c1c"/>
<text class="k" x="203.6" y="255.4">0</text>
<rect x="197.10" y="282.25" width="1.6" height="0.9" fill="#1c1c1c"/>
<text class="k" x="203.6" y="286.5">-50</text>
<rect x="197.10" y="314.55" width="1.6" height="0.9" fill="#1c1c1c"/>
<text class="k" x="203.6" y="319.1">-100</text>
<rect x="427.10" y="185.05" width="1.6" height="0.9" fill="#1c1c1c"/>
<text class="k" x="433.6" y="191.5">100</text>
<rect x="427.10" y="218.15" width="1.6" height="0.9" fill="#1c1c1c"/>
<text class="k" x="433.6" y="223.0">50</text>
<rect x="427.10" y="250.05" width="1.6" height="0.9" fill="#1c1c1c"/>
<text class="k" x="433.6" y="255.4">0</text>
<rect x="427.10" y="282.25" width="1.6" height="0.9" fill="#1c1c1c"/>
<text class="k" x="433.6" y="286.5">-50</text>
<rect x="427.10" y="314.55" width="1.6" height="0.9" fill="#1c1c1c"/>
<text class="k" x="433.6" y="319.1">-100</text>
<rect x="657.10" y="185.05" width="1.6" height="0.9" fill="#1c1c1c"/>
<text class="k" x="663.6" y="191.5">100</text>
<rect x="657.10" y="218.15" width="1.6" height="0.9" fill="#1c1c1c"/>
<text class="k" x="663.6" y="223.0">50</text>
<rect x="657.10" y="250.05" width="1.6" height="0.9" fill="#1c1c1c"/>
<text class="k" x="663.6" y="255.4">0</text>
<rect x="657.10" y="282.25" width="1.6" height="0.9" fill="#1c1c1c"/>
<text class="k" x="663.6" y="286.5">-50</text>
<rect x="657.10" y="314.55" width="1.6" height="0.9" fill="#1c1c1c"/>
<text class="k" x="663.6" y="319.1">-100</text>
<rect x="197.10" y="374.25" width="1.6" height="0.9" fill="#1c1c1c"/>
<text class="k" x="203.6" y="378.3">5</text>
<rect x="197.10" y="415.35" width="1.6" height="0.9" fill="#1c1c1c"/>
<text class="k" x="203.6" y="419.4">0</text>
<rect x="197.10" y="456.75" width="1.6" height="0.9" fill="#1c1c1c"/>
<text class="k" x="203.6" y="460.9">-5</text>
<rect x="427.10" y="374.25" width="1.6" height="0.9" fill="#1c1c1c"/>
<text class="k" x="433.6" y="378.3">5</text>
<rect x="427.10" y="415.35" width="1.6" height="0.9" fill="#1c1c1c"/>
<text class="k" x="433.6" y="419.4">0</text>
<rect x="427.10" y="456.75" width="1.6" height="0.9" fill="#1c1c1c"/>
<text class="k" x="433.6" y="460.9">-5</text>
<rect x="657.10" y="374.25" width="1.6" height="0.9" fill="#1c1c1c"/>
<text class="k" x="663.6" y="378.3">5</text>
<rect x="657.10" y="415.35" width="1.6" height="0.9" fill="#1c1c1c"/>
<text class="k" x="663.6" y="419.4">0</text>
<rect x="657.10" y="456.75" width="1.6" height="0.9" fill="#1c1c1c"/>
<text class="k" x="663.6" y="460.9">-5</text>
<rect x="197.10" y="531.95" width="1.6" height="0.9" fill="#1c1c1c"/>
<text class="k" x="203.6" y="536.5">20</text>
<rect x="197.10" y="556.15" width="1.6" height="0.9" fill="#1c1c1c"/>
<text class="k" x="203.6" y="560.1">10</text>
<rect x="197.10" y="579.95" width="1.6" height="0.9" fill="#1c1c1c"/>
<text class="k" x="203.6" y="584.6">0</text>
<rect x="197.10" y="603.95" width="1.6" height="0.9" fill="#1c1c1c"/>
<text class="k" x="203.6" y="608.3">-10</text>
<rect x="197.10" y="627.75" width="1.6" height="0.9" fill="#1c1c1c"/>
<text class="k" x="203.6" y="632.1">-20</text>
<rect x="427.10" y="531.95" width="1.6" height="0.9" fill="#1c1c1c"/>
<text class="k" x="433.6" y="536.5">20</text>
<rect x="427.10" y="556.15" width="1.6" height="0.9" fill="#1c1c1c"/>
<text class="k" x="433.6" y="560.1">10</text>
<rect x="427.10" y="579.95" width="1.6" height="0.9" fill="#1c1c1c"/>
<text class="k" x="433.6" y="584.6">0</text>
<rect x="427.10" y="603.95" width="1.6" height="0.9" fill="#1c1c1c"/>
<text class="k" x="433.6" y="608.3">-10</text>
<rect x="427.10" y="627.75" width="1.6" height="0.9" fill="#1c1c1c"/>
<text class="k" x="433.6" y="632.1">-20</text>
<rect x="657.10" y="531.95" width="1.6" height="0.9" fill="#1c1c1c"/>
<text class="k" x="663.6" y="536.5">20</text>
<rect x="657.10" y="556.15" width="1.6" height="0.9" fill="#1c1c1c"/>
<text class="k" x="663.6" y="560.1">10</text>
<rect x="657.10" y="579.95" width="1.6" height="0.9" fill="#1c1c1c"/>
<text class="k" x="663.6" y="584.6">0</text>
<rect x="657.10" y="603.95" width="1.6" height="0.9" fill="#1c1c1c"/>
<text class="k" x="663.6" y="608.3">-10</text>
<rect x="657.10" y="627.75" width="1.6" height="0.9" fill="#1c1c1c"/>
<text class="k" x="663.6" y="632.1">-20</text>
<rect x="197.10" y="690.05" width="1.6" height="0.9" fill="#1c1c1c"/>
<text class="k" x="203.6" y="694.7">40</text>
<rect x="197.10" y="717.55" width="1.6" height="0.9" fill="#1c1c1c"/>
<text class="k" x="203.6" y="721.9">20</text>
<rect x="197.10" y="744.75" width="1.6" height="0.9" fill="#1c1c1c"/>
<text class="k" x="203.6" y="749.3">0</text>
<rect x="197.10" y="772.35" width="1.6" height="0.9" fill="#1c1c1c"/>
<text class="k" x="203.6" y="776.6">-20</text>
<rect x="197.10" y="799.65" width="1.6" height="0.9" fill="#1c1c1c"/>
<text class="k" x="203.6" y="804.0">-40</text>
<rect x="427.10" y="690.05" width="1.6" height="0.9" fill="#1c1c1c"/>
<text class="k" x="433.6" y="694.7">40</text>
<rect x="427.10" y="717.55" width="1.6" height="0.9" fill="#1c1c1c"/>
<text class="k" x="433.6" y="721.9">20</text>
<rect x="427.10" y="744.75" width="1.6" height="0.9" fill="#1c1c1c"/>
<text class="k" x="433.6" y="749.3">0</text>
<rect x="427.10" y="772.35" width="1.6" height="0.9" fill="#1c1c1c"/>
<text class="k" x="433.6" y="776.6">-20</text>
<rect x="427.10" y="799.65" width="1.6" height="0.9" fill="#1c1c1c"/>
<text class="k" x="433.6" y="804.0">-40</text>
<rect x="657.10" y="690.05" width="1.6" height="0.9" fill="#1c1c1c"/>
<text class="k" x="663.6" y="694.7">40</text>
<rect x="657.10" y="717.55" width="1.6" height="0.9" fill="#1c1c1c"/>
<text class="k" x="663.6" y="721.9">20</text>
<rect x="657.10" y="744.75" width="1.6" height="0.9" fill="#1c1c1c"/>
<text class="k" x="663.6" y="749.3">0</text>
<rect x="657.10" y="772.35" width="1.6" height="0.9" fill="#1c1c1c"/>
<text class="k" x="663.6" y="776.6">-20</text>
<rect x="657.10" y="799.65" width="1.6" height="0.9" fill="#1c1c1c"/>
<text class="k" x="663.6" y="804.0">-40</text>
</svg></body></html>
